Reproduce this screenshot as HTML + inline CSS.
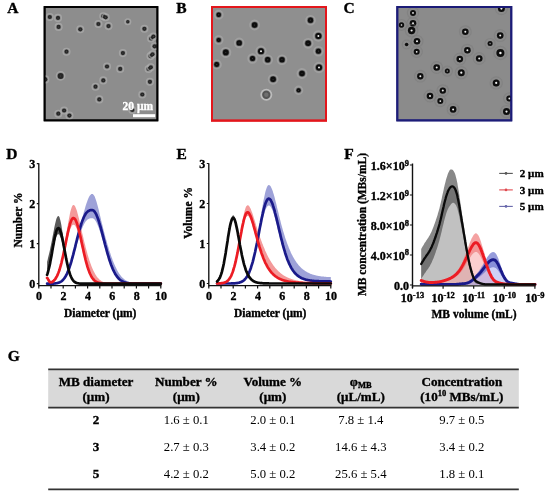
<!DOCTYPE html>
<html><head><meta charset="utf-8"><title>Microbubble characterisation</title>
<style>html,body{margin:0;padding:0;background:#fff;}svg{display:block;}</style></head>
<body><svg width="550" height="494" viewBox="0 0 550 494">
<style>text{stroke:#000;stroke-width:0.35px;}text.n{stroke-width:0;}</style>
<rect width="550" height="494" fill="#fff"/>
<defs>
<filter id="bl" x="-10%" y="-10%" width="120%" height="120%"><feGaussianBlur stdDeviation="0.45"/></filter>
<clipPath id="cpA"><rect x="45" y="7.5" width="112" height="112.5"/></clipPath>
<clipPath id="cpB"><rect x="212" y="7.5" width="114" height="113"/></clipPath>
<clipPath id="cpC"><rect x="397.5" y="7.5" width="113.5" height="113"/></clipPath>
</defs>
<rect x="44.6" y="7" width="112.8" height="113.4" fill="#8d8d8d" stroke="#000" stroke-width="1.8"/>
<g clip-path="url(#cpA)"><g filter="url(#bl)">
<circle cx="49.8" cy="17" r="3.4" fill="none" stroke="#b0b0b0" stroke-width="1.3" stroke-opacity="0.65"/><circle cx="49.8" cy="17" r="2.1" fill="#262626"/><circle cx="49.8" cy="17" r="0.5" fill="#505050"/>
<circle cx="58" cy="17.9" r="3.4" fill="none" stroke="#b0b0b0" stroke-width="1.3" stroke-opacity="0.65"/><circle cx="58" cy="17.9" r="2.1" fill="#262626"/><circle cx="58" cy="17.9" r="0.5" fill="#505050"/>
<circle cx="58.6" cy="26.9" r="3.4" fill="none" stroke="#b0b0b0" stroke-width="1.3" stroke-opacity="0.65"/><circle cx="58.6" cy="26.9" r="2.1" fill="#262626"/><circle cx="58.6" cy="26.9" r="0.5" fill="#505050"/>
<circle cx="80.3" cy="29.3" r="3.4" fill="none" stroke="#b0b0b0" stroke-width="1.3" stroke-opacity="0.65"/><circle cx="80.3" cy="29.3" r="2.1" fill="#262626"/><circle cx="80.3" cy="29.3" r="0.5" fill="#505050"/>
<circle cx="98.4" cy="24" r="3.4" fill="none" stroke="#b0b0b0" stroke-width="1.3" stroke-opacity="0.65"/><circle cx="98.4" cy="24" r="2.1" fill="#262626"/><circle cx="98.4" cy="24" r="0.5" fill="#505050"/>
<circle cx="66.5" cy="51.7" r="3.4" fill="none" stroke="#b0b0b0" stroke-width="1.3" stroke-opacity="0.65"/><circle cx="66.5" cy="51.7" r="2.1" fill="#262626"/><circle cx="66.5" cy="51.7" r="0.5" fill="#505050"/>
<circle cx="103.3" cy="16.2" r="3.4" fill="none" stroke="#b0b0b0" stroke-width="1.3" stroke-opacity="0.65"/><circle cx="103.3" cy="16.2" r="2.1" fill="#262626"/><circle cx="103.3" cy="16.2" r="0.5" fill="#505050"/>
<circle cx="105.6" cy="17.3" r="3.4" fill="none" stroke="#b0b0b0" stroke-width="1.3" stroke-opacity="0.65"/><circle cx="105.6" cy="17.3" r="2.1" fill="#262626"/><circle cx="105.6" cy="17.3" r="0.5" fill="#505050"/>
<circle cx="108.5" cy="26.1" r="3.4" fill="none" stroke="#b0b0b0" stroke-width="1.3" stroke-opacity="0.65"/><circle cx="108.5" cy="26.1" r="2.1" fill="#262626"/><circle cx="108.5" cy="26.1" r="0.5" fill="#505050"/>
<circle cx="127.8" cy="21.8" r="2.9" fill="none" stroke="#b0b0b0" stroke-width="1.3" stroke-opacity="0.65"/><circle cx="127.8" cy="21.8" r="1.7" fill="#262626"/><circle cx="127.8" cy="21.8" r="0.5" fill="#505050"/>
<circle cx="144.4" cy="28.8" r="3.4" fill="none" stroke="#b0b0b0" stroke-width="1.3" stroke-opacity="0.65"/><circle cx="144.4" cy="28.8" r="2.1" fill="#262626"/><circle cx="144.4" cy="28.8" r="0.5" fill="#505050"/>
<circle cx="151.1" cy="38.5" r="3.4" fill="none" stroke="#b0b0b0" stroke-width="1.3" stroke-opacity="0.65"/><circle cx="151.1" cy="38.5" r="2.1" fill="#262626"/><circle cx="151.1" cy="38.5" r="0.5" fill="#505050"/>
<circle cx="153.4" cy="36.5" r="3.4" fill="none" stroke="#b0b0b0" stroke-width="1.3" stroke-opacity="0.65"/><circle cx="153.4" cy="36.5" r="2.1" fill="#262626"/><circle cx="153.4" cy="36.5" r="0.5" fill="#505050"/>
<circle cx="154.6" cy="46.3" r="3.4" fill="none" stroke="#b0b0b0" stroke-width="1.3" stroke-opacity="0.65"/><circle cx="154.6" cy="46.3" r="2.1" fill="#262626"/><circle cx="154.6" cy="46.3" r="0.5" fill="#505050"/>
<circle cx="122.9" cy="53.1" r="3.4" fill="none" stroke="#b0b0b0" stroke-width="1.3" stroke-opacity="0.65"/><circle cx="122.9" cy="53.1" r="2.1" fill="#262626"/><circle cx="122.9" cy="53.1" r="0.5" fill="#505050"/>
<circle cx="150.5" cy="56.1" r="3.4" fill="none" stroke="#b0b0b0" stroke-width="1.3" stroke-opacity="0.65"/><circle cx="150.5" cy="56.1" r="2.1" fill="#262626"/><circle cx="150.5" cy="56.1" r="0.5" fill="#505050"/>
<circle cx="152.5" cy="54.3" r="3.4" fill="none" stroke="#b0b0b0" stroke-width="1.3" stroke-opacity="0.65"/><circle cx="152.5" cy="54.3" r="2.1" fill="#262626"/><circle cx="152.5" cy="54.3" r="0.5" fill="#505050"/>
<circle cx="45.3" cy="79.4" r="3.4" fill="none" stroke="#b0b0b0" stroke-width="1.3" stroke-opacity="0.65"/><circle cx="45.3" cy="79.4" r="2.1" fill="#262626"/><circle cx="45.3" cy="79.4" r="0.5" fill="#505050"/>
<circle cx="60.6" cy="75.9" r="4.2" fill="none" stroke="#b0b0b0" stroke-width="1.3" stroke-opacity="0.65"/><circle cx="60.6" cy="75.9" r="3" fill="#262626"/><circle cx="60.6" cy="75.9" r="0.5" fill="#505050"/>
<circle cx="95.5" cy="86.7" r="3.4" fill="none" stroke="#b0b0b0" stroke-width="1.3" stroke-opacity="0.65"/><circle cx="95.5" cy="86.7" r="2.1" fill="#262626"/><circle cx="95.5" cy="86.7" r="0.5" fill="#505050"/>
<circle cx="99.3" cy="99.4" r="3.4" fill="none" stroke="#b0b0b0" stroke-width="1.3" stroke-opacity="0.65"/><circle cx="99.3" cy="99.4" r="2.1" fill="#262626"/><circle cx="99.3" cy="99.4" r="0.5" fill="#505050"/>
<circle cx="64.1" cy="110.5" r="3.4" fill="none" stroke="#b0b0b0" stroke-width="1.3" stroke-opacity="0.65"/><circle cx="64.1" cy="110.5" r="2.1" fill="#262626"/><circle cx="64.1" cy="110.5" r="0.5" fill="#505050"/>
<circle cx="58.3" cy="113.7" r="3.4" fill="none" stroke="#b0b0b0" stroke-width="1.3" stroke-opacity="0.65"/><circle cx="58.3" cy="113.7" r="2.1" fill="#262626"/><circle cx="58.3" cy="113.7" r="0.5" fill="#505050"/>
<circle cx="69.4" cy="115.6" r="3.4" fill="none" stroke="#b0b0b0" stroke-width="1.3" stroke-opacity="0.65"/><circle cx="69.4" cy="115.6" r="2.1" fill="#262626"/><circle cx="69.4" cy="115.6" r="0.5" fill="#505050"/>
<circle cx="107" cy="66.5" r="3.4" fill="none" stroke="#b0b0b0" stroke-width="1.3" stroke-opacity="0.65"/><circle cx="107" cy="66.5" r="2.1" fill="#262626"/><circle cx="107" cy="66.5" r="0.5" fill="#505050"/>
<circle cx="120.2" cy="68.9" r="3.4" fill="none" stroke="#b0b0b0" stroke-width="1.3" stroke-opacity="0.65"/><circle cx="120.2" cy="68.9" r="2.1" fill="#262626"/><circle cx="120.2" cy="68.9" r="0.5" fill="#505050"/>
<circle cx="103.3" cy="80.4" r="3.4" fill="none" stroke="#b0b0b0" stroke-width="1.3" stroke-opacity="0.65"/><circle cx="103.3" cy="80.4" r="2.1" fill="#262626"/><circle cx="103.3" cy="80.4" r="0.5" fill="#505050"/>
<circle cx="148.6" cy="69" r="3.4" fill="none" stroke="#b0b0b0" stroke-width="1.3" stroke-opacity="0.65"/><circle cx="148.6" cy="69" r="2.1" fill="#262626"/><circle cx="148.6" cy="69" r="0.5" fill="#505050"/>
<circle cx="150.8" cy="67.3" r="3.4" fill="none" stroke="#b0b0b0" stroke-width="1.3" stroke-opacity="0.65"/><circle cx="150.8" cy="67.3" r="2.1" fill="#262626"/><circle cx="150.8" cy="67.3" r="0.5" fill="#505050"/>
<circle cx="149.9" cy="81.8" r="3.4" fill="none" stroke="#b0b0b0" stroke-width="1.3" stroke-opacity="0.65"/><circle cx="149.9" cy="81.8" r="2.1" fill="#262626"/><circle cx="149.9" cy="81.8" r="0.5" fill="#505050"/>
<circle cx="142.3" cy="94.5" r="3.4" fill="none" stroke="#b0b0b0" stroke-width="1.3" stroke-opacity="0.65"/><circle cx="142.3" cy="94.5" r="2.1" fill="#262626"/><circle cx="142.3" cy="94.5" r="0.5" fill="#505050"/>
<circle cx="132.3" cy="110" r="3.4" fill="none" stroke="#b0b0b0" stroke-width="1.3" stroke-opacity="0.65"/><circle cx="132.3" cy="110" r="2.1" fill="#262626"/><circle cx="132.3" cy="110" r="0.5" fill="#505050"/>
</g></g>
<rect x="44.6" y="7" width="112.8" height="113.4" fill="none" stroke="#000" stroke-width="1.8"/>
<rect x="133" y="114.2" width="22.2" height="3" fill="#fff"/>
<text x="122.6" y="110.2" font-family="'Liberation Serif','Times New Roman',serif" font-weight="bold" font-size="11.5" fill="#fff" style="stroke:#fff">20 &#956;m</text>
<rect x="212" y="7" width="114" height="113.6" fill="#8f8f8f" stroke="#e3161c" stroke-width="2"/>
<g clip-path="url(#cpB)"><g filter="url(#bl)">
<circle cx="218.7" cy="14.7" r="4.1" fill="none" stroke="#acacac" stroke-width="1.6" stroke-opacity="0.6"/><circle cx="218.7" cy="14.7" r="2.8" fill="#555"/><circle cx="218.7" cy="14.7" r="2.2" fill="#0c0c0c"/><circle cx="218.7" cy="14.7" r="0.6" fill="#383838"/>
<circle cx="254.6" cy="25" r="4.6" fill="none" stroke="#acacac" stroke-width="1.6" stroke-opacity="0.6"/><circle cx="254.6" cy="25" r="3.3" fill="#555"/><circle cx="254.6" cy="25" r="2.7" fill="#0c0c0c"/><circle cx="254.6" cy="25" r="0.6" fill="#383838"/>
<circle cx="218.7" cy="40" r="4" fill="none" stroke="#acacac" stroke-width="1.6" stroke-opacity="0.6"/><circle cx="218.7" cy="40" r="2.7" fill="#555"/><circle cx="218.7" cy="40" r="2.1" fill="#0c0c0c"/><circle cx="218.7" cy="40" r="0.6" fill="#383838"/>
<circle cx="239.2" cy="42.9" r="4.5" fill="none" stroke="#acacac" stroke-width="1.6" stroke-opacity="0.6"/><circle cx="239.2" cy="42.9" r="3.2" fill="#555"/><circle cx="239.2" cy="42.9" r="2.6" fill="#0c0c0c"/><circle cx="239.2" cy="42.9" r="0.6" fill="#383838"/>
<circle cx="225.8" cy="52.4" r="4.7" fill="none" stroke="#acacac" stroke-width="1.6" stroke-opacity="0.6"/><circle cx="225.8" cy="52.4" r="3.4" fill="#555"/><circle cx="225.8" cy="52.4" r="2.8" fill="#0c0c0c"/><circle cx="225.8" cy="52.4" r="0.6" fill="#383838"/>
<circle cx="261" cy="51.2" r="4.8" fill="none" stroke="#acacac" stroke-width="1.6" stroke-opacity="0.6"/><circle cx="261" cy="51.2" r="3.5" fill="#555"/><circle cx="261" cy="51.2" r="2.9" fill="#0c0c0c"/><circle cx="261" cy="51.2" r="1.0" fill="#f0f0f0"/>
<circle cx="252.5" cy="58.5" r="4.4" fill="none" stroke="#acacac" stroke-width="1.6" stroke-opacity="0.6"/><circle cx="252.5" cy="58.5" r="3.1" fill="#555"/><circle cx="252.5" cy="58.5" r="2.5" fill="#0c0c0c"/><circle cx="252.5" cy="58.5" r="0.6" fill="#383838"/>
<circle cx="267.7" cy="59.7" r="4.5" fill="none" stroke="#acacac" stroke-width="1.6" stroke-opacity="0.6"/><circle cx="267.7" cy="59.7" r="3.2" fill="#555"/><circle cx="267.7" cy="59.7" r="2.6" fill="#0c0c0c"/><circle cx="267.7" cy="59.7" r="0.6" fill="#383838"/>
<circle cx="216.7" cy="64.5" r="4.3" fill="none" stroke="#acacac" stroke-width="1.6" stroke-opacity="0.6"/><circle cx="216.7" cy="64.5" r="3" fill="#555"/><circle cx="216.7" cy="64.5" r="2.4" fill="#0c0c0c"/><circle cx="216.7" cy="64.5" r="0.6" fill="#383838"/>
<circle cx="310.5" cy="20.2" r="4.5" fill="none" stroke="#acacac" stroke-width="1.6" stroke-opacity="0.6"/><circle cx="310.5" cy="20.2" r="3.2" fill="#555"/><circle cx="310.5" cy="20.2" r="2.6" fill="#0c0c0c"/><circle cx="310.5" cy="20.2" r="0.6" fill="#383838"/>
<circle cx="318.4" cy="36" r="4.9" fill="none" stroke="#acacac" stroke-width="1.6" stroke-opacity="0.6"/><circle cx="318.4" cy="36" r="3.6" fill="#555"/><circle cx="318.4" cy="36" r="3" fill="#0c0c0c"/><circle cx="318.4" cy="36" r="1.0" fill="#f0f0f0"/>
<circle cx="308.1" cy="43.3" r="4.6" fill="none" stroke="#acacac" stroke-width="1.6" stroke-opacity="0.6"/><circle cx="308.1" cy="43.3" r="3.3" fill="#555"/><circle cx="308.1" cy="43.3" r="2.7" fill="#0c0c0c"/><circle cx="308.1" cy="43.3" r="0.6" fill="#383838"/>
<circle cx="318.4" cy="51.2" r="4.4" fill="none" stroke="#acacac" stroke-width="1.6" stroke-opacity="0.6"/><circle cx="318.4" cy="51.2" r="3.1" fill="#555"/><circle cx="318.4" cy="51.2" r="2.5" fill="#0c0c0c"/><circle cx="318.4" cy="51.2" r="0.6" fill="#383838"/>
<circle cx="282" cy="59.7" r="4.5" fill="none" stroke="#acacac" stroke-width="1.6" stroke-opacity="0.6"/><circle cx="282" cy="59.7" r="3.2" fill="#555"/><circle cx="282" cy="59.7" r="2.6" fill="#0c0c0c"/><circle cx="282" cy="59.7" r="0.6" fill="#383838"/>
<circle cx="319" cy="67.5" r="4.9" fill="none" stroke="#acacac" stroke-width="1.6" stroke-opacity="0.6"/><circle cx="319" cy="67.5" r="3.6" fill="#555"/><circle cx="319" cy="67.5" r="3" fill="#0c0c0c"/><circle cx="319" cy="67.5" r="1.0" fill="#f0f0f0"/>
<circle cx="302" cy="73.5" r="4.6" fill="none" stroke="#acacac" stroke-width="1.6" stroke-opacity="0.6"/><circle cx="302" cy="73.5" r="3.3" fill="#555"/><circle cx="302" cy="73.5" r="2.7" fill="#0c0c0c"/><circle cx="302" cy="73.5" r="0.6" fill="#383838"/>
<circle cx="273.1" cy="79.3" r="4.6" fill="none" stroke="#acacac" stroke-width="1.6" stroke-opacity="0.6"/><circle cx="273.1" cy="79.3" r="3.3" fill="#555"/><circle cx="273.1" cy="79.3" r="2.7" fill="#0c0c0c"/><circle cx="273.1" cy="79.3" r="0.6" fill="#383838"/>
<circle cx="298.6" cy="90.3" r="3.9" fill="none" stroke="#acacac" stroke-width="1.6" stroke-opacity="0.6"/><circle cx="298.6" cy="90.3" r="2.6" fill="#555"/><circle cx="298.6" cy="90.3" r="2" fill="#0c0c0c"/><circle cx="298.6" cy="90.3" r="0.6" fill="#383838"/>
<circle cx="266.3" cy="94.8" r="6" fill="#c8c8c8" opacity="0.8"/>
<circle cx="266.3" cy="94.8" r="4.2" fill="#555"/>
<circle cx="266.3" cy="94.8" r="2.2" fill="#6f6f6f"/>
</g></g>
<rect x="212" y="7" width="114" height="113.6" fill="none" stroke="#e3161c" stroke-width="2"/>
<rect x="397.3" y="7" width="114" height="113.4" fill="#8b8b8b" stroke="#1c1c78" stroke-width="1.9"/>
<g clip-path="url(#cpC)"><g filter="url(#bl)">
<circle cx="413" cy="12.9" r="5.6" fill="none" stroke="#777" stroke-width="1.2" stroke-opacity="0.45"/><circle cx="413" cy="12.9" r="3" fill="#0c0c0c"/><circle cx="413" cy="12.9" r="0.9" fill="#f2f2f2"/>
<circle cx="401.5" cy="25" r="5.3" fill="none" stroke="#777" stroke-width="1.2" stroke-opacity="0.45"/><circle cx="401.5" cy="25" r="2.7" fill="#0c0c0c"/><circle cx="401.5" cy="25" r="0.8" fill="#f2f2f2"/>
<circle cx="413" cy="23.2" r="5.9" fill="none" stroke="#777" stroke-width="1.2" stroke-opacity="0.45"/><circle cx="413" cy="23.2" r="3.3" fill="#0c0c0c"/><circle cx="413" cy="23.2" r="1" fill="#f2f2f2"/>
<circle cx="411.6" cy="30.5" r="6.3" fill="none" stroke="#777" stroke-width="1.2" stroke-opacity="0.45"/><circle cx="411.6" cy="30.5" r="3.7" fill="#0c0c0c"/><circle cx="411.6" cy="30.5" r="1.1" fill="#f2f2f2"/>
<circle cx="417" cy="41.2" r="5.9" fill="none" stroke="#777" stroke-width="1.2" stroke-opacity="0.45"/><circle cx="417" cy="41.2" r="3.3" fill="#0c0c0c"/><circle cx="417" cy="41.2" r="1" fill="#f2f2f2"/>
<circle cx="406.6" cy="44.5" r="4.4" fill="none" stroke="#777" stroke-width="1.2" stroke-opacity="0.45"/><circle cx="406.6" cy="44.5" r="1.8" fill="#0c0c0c"/>
<circle cx="416.7" cy="51.8" r="5.6" fill="none" stroke="#777" stroke-width="1.2" stroke-opacity="0.45"/><circle cx="416.7" cy="51.8" r="3" fill="#0c0c0c"/><circle cx="416.7" cy="51.8" r="0.9" fill="#f2f2f2"/>
<circle cx="501.4" cy="8.6" r="6.1" fill="none" stroke="#777" stroke-width="1.2" stroke-opacity="0.45"/><circle cx="501.4" cy="8.6" r="3.5" fill="#0c0c0c"/><circle cx="501.4" cy="8.6" r="1.1" fill="#f2f2f2"/>
<circle cx="465.3" cy="31.7" r="5.9" fill="none" stroke="#777" stroke-width="1.2" stroke-opacity="0.45"/><circle cx="465.3" cy="31.7" r="3.3" fill="#0c0c0c"/><circle cx="465.3" cy="31.7" r="1" fill="#f2f2f2"/>
<circle cx="500.2" cy="35.6" r="5.9" fill="none" stroke="#777" stroke-width="1.2" stroke-opacity="0.45"/><circle cx="500.2" cy="35.6" r="3.3" fill="#0c0c0c"/><circle cx="500.2" cy="35.6" r="1" fill="#f2f2f2"/>
<circle cx="490.1" cy="43.6" r="5.1" fill="none" stroke="#777" stroke-width="1.2" stroke-opacity="0.45"/><circle cx="490.1" cy="43.6" r="2.5" fill="#0c0c0c"/><circle cx="490.1" cy="43.6" r="0.8" fill="#8a8a8a"/>
<circle cx="467.4" cy="50.2" r="5.9" fill="none" stroke="#777" stroke-width="1.2" stroke-opacity="0.45"/><circle cx="467.4" cy="50.2" r="3.3" fill="#0c0c0c"/><circle cx="467.4" cy="50.2" r="1" fill="#f2f2f2"/>
<circle cx="500.4" cy="53" r="6.6" fill="none" stroke="#777" stroke-width="1.2" stroke-opacity="0.45"/><circle cx="500.4" cy="53" r="4" fill="#0c0c0c"/><circle cx="500.4" cy="53" r="1.2" fill="#f2f2f2"/>
<circle cx="459.8" cy="59.1" r="5.9" fill="none" stroke="#777" stroke-width="1.2" stroke-opacity="0.45"/><circle cx="459.8" cy="59.1" r="3.3" fill="#0c0c0c"/><circle cx="459.8" cy="59.1" r="1" fill="#f2f2f2"/>
<circle cx="479.2" cy="58.5" r="5.9" fill="none" stroke="#777" stroke-width="1.2" stroke-opacity="0.45"/><circle cx="479.2" cy="58.5" r="3.3" fill="#0c0c0c"/><circle cx="479.2" cy="58.5" r="1" fill="#f2f2f2"/>
<circle cx="436.7" cy="67.5" r="5.9" fill="none" stroke="#777" stroke-width="1.2" stroke-opacity="0.45"/><circle cx="436.7" cy="67.5" r="3.3" fill="#0c0c0c"/><circle cx="436.7" cy="67.5" r="1" fill="#f2f2f2"/>
<circle cx="447.3" cy="71.1" r="5.1" fill="none" stroke="#777" stroke-width="1.2" stroke-opacity="0.45"/><circle cx="447.3" cy="71.1" r="2.5" fill="#0c0c0c"/><circle cx="447.3" cy="71.1" r="0.8" fill="#8a8a8a"/>
<circle cx="420.3" cy="76.2" r="5.8" fill="none" stroke="#777" stroke-width="1.2" stroke-opacity="0.45"/><circle cx="420.3" cy="76.2" r="3.2" fill="#0c0c0c"/><circle cx="420.3" cy="76.2" r="1" fill="#f2f2f2"/>
<circle cx="442.8" cy="90.6" r="5.8" fill="none" stroke="#777" stroke-width="1.2" stroke-opacity="0.45"/><circle cx="442.8" cy="90.6" r="3.2" fill="#0c0c0c"/><circle cx="442.8" cy="90.6" r="1" fill="#f2f2f2"/>
<circle cx="430" cy="96" r="5.9" fill="none" stroke="#777" stroke-width="1.2" stroke-opacity="0.45"/><circle cx="430" cy="96" r="3.3" fill="#0c0c0c"/><circle cx="430" cy="96" r="1" fill="#f2f2f2"/>
<circle cx="440.3" cy="101.1" r="5.6" fill="none" stroke="#777" stroke-width="1.2" stroke-opacity="0.45"/><circle cx="440.3" cy="101.1" r="3" fill="#0c0c0c"/><circle cx="440.3" cy="101.1" r="0.9" fill="#f2f2f2"/>
<circle cx="453.1" cy="109.4" r="5.9" fill="none" stroke="#777" stroke-width="1.2" stroke-opacity="0.45"/><circle cx="453.1" cy="109.4" r="3.3" fill="#0c0c0c"/><circle cx="453.1" cy="109.4" r="1" fill="#f2f2f2"/>
<circle cx="461.3" cy="72.7" r="6.1" fill="none" stroke="#777" stroke-width="1.2" stroke-opacity="0.45"/><circle cx="461.3" cy="72.7" r="3.5" fill="#0c0c0c"/><circle cx="461.3" cy="72.7" r="1.1" fill="#f2f2f2"/>
<circle cx="496.2" cy="82.9" r="6.1" fill="none" stroke="#777" stroke-width="1.2" stroke-opacity="0.45"/><circle cx="496.2" cy="82.9" r="3.5" fill="#0c0c0c"/><circle cx="496.2" cy="82.9" r="1.1" fill="#f2f2f2"/>
<circle cx="509.3" cy="98.5" r="5.6" fill="none" stroke="#777" stroke-width="1.2" stroke-opacity="0.45"/><circle cx="509.3" cy="98.5" r="3" fill="#0c0c0c"/><circle cx="509.3" cy="98.5" r="0.9" fill="#f2f2f2"/>
<circle cx="506.5" cy="111.6" r="6.1" fill="none" stroke="#777" stroke-width="1.2" stroke-opacity="0.45"/><circle cx="506.5" cy="111.6" r="3.5" fill="#0c0c0c"/><circle cx="506.5" cy="111.6" r="1.1" fill="#f2f2f2"/>
</g></g>
<rect x="397.3" y="7" width="114" height="113.4" fill="none" stroke="#1c1c78" stroke-width="1.9"/>
<text x="7.3" y="13.1" font-family="'Liberation Serif','Times New Roman',serif" font-weight="bold" font-size="15.5">A</text>
<text x="176.2" y="13.1" font-family="'Liberation Serif','Times New Roman',serif" font-weight="bold" font-size="15.5">B</text>
<text x="343.6" y="13.1" font-family="'Liberation Serif','Times New Roman',serif" font-weight="bold" font-size="15.5">C</text>
<text x="6.2" y="159.4" font-family="'Liberation Serif','Times New Roman',serif" font-weight="bold" font-size="15.5">D</text>
<text x="176.5" y="159.4" font-family="'Liberation Serif','Times New Roman',serif" font-weight="bold" font-size="15.5">E</text>
<text x="344.3" y="159.4" font-family="'Liberation Serif','Times New Roman',serif" font-weight="bold" font-size="15.5">F</text>
<text x="7.7" y="361" font-family="'Liberation Serif','Times New Roman',serif" font-weight="bold" font-size="15.5">G</text>
<path d="M47.1,283.7 L47.6,283.7 L48,283.7 L48.5,283.7 L49,283.7 L49.5,283.7 L50,283.7 L50.4,283.7 L50.9,283.7 L51.4,283.7 L51.9,283.6 L52.3,283.6 L52.8,283.6 L53.3,283.6 L53.8,283.6 L54.2,283.5 L54.7,283.5 L55.2,283.4 L55.7,283.4 L56.1,283.3 L56.6,283.2 L57.1,283.1 L57.6,283 L58,282.9 L58.5,282.8 L59,282.6 L59.5,282.4 L59.9,282.2 L60.4,281.9 L60.9,281.6 L61.4,281.3 L61.8,281 L62.3,280.6 L62.8,280.1 L63.3,279.6 L63.7,279 L64.2,278.4 L64.7,277.8 L65.2,277 L65.7,276.3 L66.1,275.4 L66.6,274.5 L67.1,273.5 L67.6,272.4 L68,271.3 L68.5,270.1 L69,268.8 L69.5,267.4 L69.9,266 L70.4,264.5 L70.9,263 L71.4,261.4 L71.8,259.7 L72.3,258 L72.8,256.2 L73.3,254.4 L73.7,252.5 L74.2,250.6 L74.7,248.7 L75.2,246.8 L75.6,244.8 L76.1,242.8 L76.6,240.8 L77.1,238.9 L77.5,236.9 L78,234.9 L78.5,232.9 L79,231 L79.4,229.1 L79.9,227.1 L80.4,225.2 L80.9,223.4 L81.3,221.5 L81.8,219.7 L82.3,217.9 L82.8,216.1 L83.3,214.3 L83.7,212.6 L84.2,210.9 L84.7,209.3 L85.2,207.6 L85.6,206.1 L86.1,204.6 L86.6,203.1 L87.1,201.7 L87.5,200.4 L88,199.2 L88.5,198.1 L89,197.1 L89.4,196.3 L89.9,195.5 L90.4,194.9 L90.9,194.5 L91.3,194.1 L91.8,194 L92.3,193.9 L92.8,194 L93.2,194.4 L93.7,194.9 L94.2,195.7 L94.7,196.6 L95.1,197.7 L95.6,199 L96.1,200.4 L96.6,201.9 L97,203.6 L97.5,205.3 L98,207.2 L98.5,209 L99,211 L99.4,212.9 L99.9,214.9 L100.4,216.9 L100.9,218.9 L101.3,220.9 L101.8,222.8 L102.3,224.8 L102.8,226.7 L103.2,228.6 L103.7,230.5 L104.2,232.3 L104.7,234.2 L105.1,236 L105.6,237.7 L106.1,239.4 L106.6,241.1 L107,242.8 L107.5,244.5 L108,246.1 L108.5,247.6 L108.9,249.2 L109.4,250.7 L109.9,252.2 L110.4,253.6 L110.8,255.1 L111.3,256.4 L111.8,257.8 L112.3,259.1 L112.7,260.4 L113.2,261.6 L113.7,262.8 L114.2,263.9 L114.7,265 L115.1,266.1 L115.6,267.1 L116.1,268.1 L116.6,269.1 L117,270 L117.5,270.8 L118,271.7 L118.5,272.4 L118.9,273.2 L119.4,273.9 L119.9,274.6 L120.4,275.2 L120.8,275.8 L121.3,276.4 L121.8,276.9 L122.3,277.4 L122.7,277.9 L123.2,278.3 L123.7,278.8 L124.2,279.2 L124.6,279.5 L125.1,279.9 L125.6,280.2 L126.1,280.5 L126.5,280.7 L127,281 L127.5,281.2 L128,281.4 L128.4,281.6 L128.9,281.8 L129.4,282 L129.9,282.2 L130.4,282.3 L130.8,282.4 L131.3,282.6 L131.8,282.7 L132.3,282.8 L132.7,282.9 L133.2,282.9 L133.7,283 L134.2,283.1 L134.6,283.2 L135.1,283.2 L135.6,283.3 L136.1,283.3 L136.5,283.4 L137,283.4 L137.5,283.4 L138,283.5 L138.4,283.5 L138.9,283.5 L139.4,283.5 L139.9,283.5 L140.3,283.6 L140.8,283.6 L141.3,283.6 L141.8,283.6 L142.2,283.6 L142.7,283.6 L143.2,283.6 L143.7,283.6 L144.1,283.7 L144.6,283.7 L145.1,283.7 L145.6,283.7 L146.1,283.7 L146.5,283.7 L147,283.7 L147.5,283.7 L148,283.7 L148.4,283.7 L148.9,283.7 L149.4,283.7 L149.9,283.7 L150.3,283.7 L150.8,283.7 L151.3,283.7 L151.8,283.7 L152.2,283.7 L152.7,283.7 L153.2,283.7 L153.7,283.7 L154.1,283.7 L154.6,283.7 L155.1,283.7 L155.6,283.7 L156,283.7 L156.5,283.7 L157,283.7 L157.5,283.7 L157.9,283.7 L158.4,283.7 L158.9,283.7 L159.4,283.7 L159.8,283.7 L160.3,283.7 L160.8,283.7 L160.8,283.7 L160.3,283.7 L159.8,283.7 L159.4,283.7 L158.9,283.7 L158.4,283.7 L157.9,283.7 L157.5,283.7 L157,283.7 L156.5,283.7 L156,283.7 L155.6,283.7 L155.1,283.7 L154.6,283.7 L154.1,283.7 L153.7,283.7 L153.2,283.7 L152.7,283.7 L152.2,283.7 L151.8,283.7 L151.3,283.7 L150.8,283.7 L150.3,283.7 L149.9,283.7 L149.4,283.7 L148.9,283.7 L148.4,283.7 L148,283.7 L147.5,283.7 L147,283.7 L146.5,283.7 L146.1,283.7 L145.6,283.7 L145.1,283.7 L144.6,283.7 L144.1,283.7 L143.7,283.7 L143.2,283.7 L142.7,283.7 L142.2,283.7 L141.8,283.7 L141.3,283.7 L140.8,283.7 L140.3,283.7 L139.9,283.7 L139.4,283.7 L138.9,283.7 L138.4,283.7 L138,283.7 L137.5,283.7 L137,283.7 L136.5,283.7 L136.1,283.7 L135.6,283.6 L135.1,283.6 L134.6,283.6 L134.2,283.6 L133.7,283.6 L133.2,283.6 L132.7,283.6 L132.3,283.6 L131.8,283.5 L131.3,283.5 L130.8,283.5 L130.4,283.4 L129.9,283.4 L129.4,283.4 L128.9,283.3 L128.4,283.3 L128,283.2 L127.5,283.1 L127,283 L126.5,283 L126.1,282.9 L125.6,282.7 L125.1,282.6 L124.6,282.5 L124.2,282.3 L123.7,282.2 L123.2,282 L122.7,281.8 L122.3,281.6 L121.8,281.3 L121.3,281.1 L120.8,280.8 L120.4,280.5 L119.9,280.1 L119.4,279.7 L118.9,279.3 L118.5,278.9 L118,278.4 L117.5,277.9 L117,277.4 L116.6,276.8 L116.1,276.2 L115.6,275.5 L115.1,274.8 L114.7,274 L114.2,273.2 L113.7,272.3 L113.2,271.4 L112.7,270.5 L112.3,269.5 L111.8,268.4 L111.3,267.3 L110.8,266.1 L110.4,264.9 L109.9,263.7 L109.4,262.4 L108.9,261 L108.5,259.6 L108,258.2 L107.5,256.7 L107,255.2 L106.6,253.7 L106.1,252.1 L105.6,250.5 L105.1,248.9 L104.7,247.3 L104.2,245.6 L103.7,244 L103.2,242.3 L102.8,240.7 L102.3,239.1 L101.8,237.5 L101.3,235.9 L100.9,234.3 L100.4,232.8 L99.9,231.3 L99.4,229.9 L99,228.5 L98.5,227.2 L98,226 L97.5,224.8 L97,223.7 L96.6,222.7 L96.1,221.8 L95.6,221 L95.1,220.3 L94.7,219.7 L94.2,219.1 L93.7,218.7 L93.2,218.4 L92.8,218.3 L92.3,218.2 L91.8,218.2 L91.3,218.2 L90.9,218.2 L90.4,218.3 L89.9,218.4 L89.4,218.5 L89,218.7 L88.5,218.9 L88,219.2 L87.5,219.6 L87.1,220 L86.6,220.5 L86.1,221 L85.6,221.6 L85.2,222.3 L84.7,223 L84.2,223.9 L83.7,224.8 L83.3,225.7 L82.8,226.8 L82.3,227.9 L81.8,229.1 L81.3,230.4 L80.9,231.7 L80.4,233.1 L79.9,234.5 L79.4,236 L79,237.6 L78.5,239.2 L78,240.8 L77.5,242.4 L77.1,244.1 L76.6,245.8 L76.1,247.5 L75.6,249.2 L75.2,250.9 L74.7,252.6 L74.2,254.3 L73.7,256 L73.3,257.6 L72.8,259.2 L72.3,260.8 L71.8,262.3 L71.4,263.8 L70.9,265.3 L70.4,266.6 L69.9,268 L69.5,269.2 L69,270.4 L68.5,271.6 L68,272.6 L67.6,273.7 L67.1,274.6 L66.6,275.5 L66.1,276.3 L65.7,277.1 L65.2,277.8 L64.7,278.4 L64.2,279 L63.7,279.6 L63.3,280.1 L62.8,280.5 L62.3,280.9 L61.8,281.3 L61.4,281.6 L60.9,281.9 L60.4,282.1 L59.9,282.3 L59.5,282.5 L59,282.7 L58.5,282.9 L58,283 L57.6,283.1 L57.1,283.2 L56.6,283.3 L56.1,283.4 L55.7,283.4 L55.2,283.5 L54.7,283.5 L54.2,283.5 L53.8,283.6 L53.3,283.6 L52.8,283.6 L52.3,283.6 L51.9,283.6 L51.4,283.7 L50.9,283.7 L50.4,283.7 L50,283.7 L49.5,283.7 L49,283.7 L48.5,283.7 L48,283.7 L47.6,283.7 L47.1,283.7 Z" fill="#9ea2d8" stroke="none"/>
<path d="M47.1,277.9 L47.6,278.3 L48,279.1 L48.5,280 L49,280.9 L49.5,281.6 L50,282.1 L50.4,282.3 L50.9,282.1 L51.4,281.9 L51.9,281.6 L52.3,281.2 L52.8,280.8 L53.3,280.4 L53.8,279.9 L54.2,279.3 L54.7,278.7 L55.2,278 L55.7,277.3 L56.1,276.4 L56.6,275.5 L57.1,274.5 L57.6,273.4 L58,272.2 L58.5,270.8 L59,269.4 L59.5,267.9 L59.9,266.3 L60.4,264.5 L60.9,262.6 L61.4,260.6 L61.8,258.5 L62.3,256.3 L62.8,254 L63.3,251.6 L63.7,249 L64.2,246.4 L64.7,243.7 L65.2,240.9 L65.7,238.1 L66.1,235.2 L66.6,232.3 L67.1,229.4 L67.6,226.6 L68,223.8 L68.5,221 L69,218.4 L69.5,216 L69.9,213.7 L70.4,211.6 L70.9,209.8 L71.4,208.2 L71.8,206.9 L72.3,206 L72.8,205.3 L73.3,205 L73.7,205 L74.2,205.3 L74.7,205.8 L75.2,206.5 L75.6,207.5 L76.1,208.7 L76.6,210 L77.1,211.5 L77.5,213.2 L78,215 L78.5,216.9 L79,218.8 L79.4,220.8 L79.9,222.9 L80.4,225 L80.9,227.1 L81.3,229.2 L81.8,231.3 L82.3,233.4 L82.8,235.5 L83.3,237.5 L83.7,239.5 L84.2,241.5 L84.7,243.5 L85.2,245.3 L85.6,247.2 L86.1,249 L86.6,250.8 L87.1,252.5 L87.5,254.2 L88,255.8 L88.5,257.4 L89,258.9 L89.4,260.4 L89.9,261.8 L90.4,263.2 L90.9,264.5 L91.3,265.8 L91.8,267 L92.3,268.2 L92.8,269.3 L93.2,270.3 L93.7,271.3 L94.2,272.3 L94.7,273.1 L95.1,274 L95.6,274.8 L96.1,275.5 L96.6,276.2 L97,276.9 L97.5,277.5 L98,278 L98.5,278.5 L99,279 L99.4,279.5 L99.9,279.9 L100.4,280.2 L100.9,280.6 L101.3,280.9 L101.8,281.2 L102.3,281.5 L102.8,281.7 L103.2,281.9 L103.7,282.1 L104.2,282.3 L104.7,282.4 L105.1,282.6 L105.6,282.7 L106.1,282.8 L106.6,282.9 L107,283 L107.5,283.1 L108,283.2 L108.5,283.2 L108.9,283.3 L109.4,283.4 L109.9,283.4 L110.4,283.4 L110.8,283.5 L111.3,283.5 L111.8,283.5 L112.3,283.6 L112.7,283.6 L113.2,283.6 L113.7,283.6 L114.2,283.6 L114.7,283.6 L115.1,283.6 L115.6,283.7 L116.1,283.7 L116.6,283.7 L117,283.7 L117.5,283.7 L118,283.7 L118.5,283.7 L118.9,283.7 L119.4,283.7 L119.9,283.7 L120.4,283.7 L120.8,283.7 L121.3,283.7 L121.8,283.7 L122.3,283.7 L122.7,283.7 L123.2,283.7 L123.7,283.7 L124.2,283.7 L124.6,283.7 L125.1,283.7 L125.6,283.7 L126.1,283.7 L126.5,283.7 L127,283.7 L127.5,283.7 L128,283.7 L128.4,283.7 L128.9,283.7 L129.4,283.7 L129.9,283.7 L130.4,283.7 L130.8,283.7 L131.3,283.7 L131.8,283.7 L132.3,283.7 L132.7,283.7 L133.2,283.7 L133.7,283.7 L134.2,283.7 L134.6,283.7 L135.1,283.7 L135.6,283.7 L136.1,283.7 L136.5,283.7 L137,283.7 L137.5,283.7 L138,283.7 L138.4,283.7 L138.9,283.7 L139.4,283.7 L139.9,283.7 L140.3,283.7 L140.8,283.7 L141.3,283.7 L141.8,283.7 L142.2,283.7 L142.7,283.7 L143.2,283.7 L143.7,283.7 L144.1,283.7 L144.6,283.7 L145.1,283.7 L145.6,283.7 L146.1,283.7 L146.5,283.7 L147,283.7 L147.5,283.7 L148,283.7 L148.4,283.7 L148.9,283.7 L149.4,283.7 L149.9,283.7 L150.3,283.7 L150.8,283.7 L151.3,283.7 L151.8,283.7 L152.2,283.7 L152.7,283.7 L153.2,283.7 L153.7,283.7 L154.1,283.7 L154.6,283.7 L155.1,283.7 L155.6,283.7 L156,283.7 L156.5,283.7 L157,283.7 L157.5,283.7 L157.9,283.7 L158.4,283.7 L158.9,283.7 L159.4,283.7 L159.8,283.7 L160.3,283.7 L160.8,283.7 L160.8,283.7 L160.3,283.7 L159.8,283.7 L159.4,283.7 L158.9,283.7 L158.4,283.7 L157.9,283.7 L157.5,283.7 L157,283.7 L156.5,283.7 L156,283.7 L155.6,283.7 L155.1,283.7 L154.6,283.7 L154.1,283.7 L153.7,283.7 L153.2,283.7 L152.7,283.7 L152.2,283.7 L151.8,283.7 L151.3,283.7 L150.8,283.7 L150.3,283.7 L149.9,283.7 L149.4,283.7 L148.9,283.7 L148.4,283.7 L148,283.7 L147.5,283.7 L147,283.7 L146.5,283.7 L146.1,283.7 L145.6,283.7 L145.1,283.7 L144.6,283.7 L144.1,283.7 L143.7,283.7 L143.2,283.7 L142.7,283.7 L142.2,283.7 L141.8,283.7 L141.3,283.7 L140.8,283.7 L140.3,283.7 L139.9,283.7 L139.4,283.7 L138.9,283.7 L138.4,283.7 L138,283.7 L137.5,283.7 L137,283.7 L136.5,283.7 L136.1,283.7 L135.6,283.7 L135.1,283.7 L134.6,283.7 L134.2,283.7 L133.7,283.7 L133.2,283.7 L132.7,283.7 L132.3,283.7 L131.8,283.7 L131.3,283.7 L130.8,283.7 L130.4,283.7 L129.9,283.7 L129.4,283.7 L128.9,283.7 L128.4,283.7 L128,283.7 L127.5,283.7 L127,283.7 L126.5,283.7 L126.1,283.7 L125.6,283.7 L125.1,283.7 L124.6,283.7 L124.2,283.7 L123.7,283.7 L123.2,283.7 L122.7,283.7 L122.3,283.7 L121.8,283.7 L121.3,283.7 L120.8,283.7 L120.4,283.7 L119.9,283.7 L119.4,283.7 L118.9,283.7 L118.5,283.7 L118,283.7 L117.5,283.7 L117,283.7 L116.6,283.7 L116.1,283.7 L115.6,283.7 L115.1,283.7 L114.7,283.7 L114.2,283.7 L113.7,283.7 L113.2,283.7 L112.7,283.7 L112.3,283.7 L111.8,283.7 L111.3,283.7 L110.8,283.7 L110.4,283.7 L109.9,283.7 L109.4,283.7 L108.9,283.7 L108.5,283.7 L108,283.7 L107.5,283.7 L107,283.7 L106.6,283.7 L106.1,283.7 L105.6,283.7 L105.1,283.6 L104.7,283.6 L104.2,283.6 L103.7,283.6 L103.2,283.6 L102.8,283.5 L102.3,283.5 L101.8,283.5 L101.3,283.4 L100.9,283.4 L100.4,283.3 L99.9,283.2 L99.4,283.1 L99,283 L98.5,282.9 L98,282.8 L97.5,282.6 L97,282.4 L96.6,282.2 L96.1,281.9 L95.6,281.7 L95.1,281.4 L94.7,281 L94.2,280.6 L93.7,280.2 L93.2,279.7 L92.8,279.1 L92.3,278.5 L91.8,277.9 L91.3,277.1 L90.9,276.3 L90.4,275.4 L89.9,274.5 L89.4,273.5 L89,272.4 L88.5,271.2 L88,269.9 L87.5,268.6 L87.1,267.1 L86.6,265.6 L86.1,264 L85.6,262.4 L85.2,260.6 L84.7,258.8 L84.2,257 L83.7,255.1 L83.3,253.2 L82.8,251.2 L82.3,249.2 L81.8,247.2 L81.3,245.2 L80.9,243.2 L80.4,241.3 L79.9,239.4 L79.4,237.6 L79,235.8 L78.5,234.1 L78,232.5 L77.5,231.1 L77.1,229.7 L76.6,228.5 L76.1,227.5 L75.6,226.6 L75.2,225.8 L74.7,225.3 L74.2,224.9 L73.7,224.7 L73.3,224.7 L72.8,224.9 L72.3,225.3 L71.8,225.9 L71.4,226.7 L70.9,227.7 L70.4,228.8 L69.9,230.2 L69.5,231.7 L69,233.3 L68.5,235.1 L68,237 L67.6,238.9 L67.1,240.9 L66.6,243 L66.1,245.2 L65.7,247.3 L65.2,249.4 L64.7,251.6 L64.2,253.7 L63.7,255.8 L63.3,257.8 L62.8,259.7 L62.3,261.6 L61.8,263.5 L61.4,265.2 L60.9,266.8 L60.4,268.4 L59.9,269.9 L59.5,271.2 L59,272.5 L58.5,273.7 L58,274.8 L57.6,275.8 L57.1,276.7 L56.6,277.5 L56.1,278.3 L55.7,278.9 L55.2,279.5 L54.7,280.1 L54.2,280.6 L53.8,281 L53.3,281.4 L52.8,281.7 L52.3,282 L51.9,282.2 L51.4,282.4 L50.9,282.5 L50.4,282.4 L50,282.2 L49.5,281.8 L49,281.2 L48.5,280.4 L48,279.6 L47.6,278.9 L47.1,278.5 Z" fill="#f49a9a" stroke="none"/>
<path d="M47.1,261.8 L47.6,260 L48,258.1 L48.5,256.1 L49,254.1 L49.5,252 L50,249.8 L50.4,247.5 L50.9,245.2 L51.4,242.8 L51.9,240.4 L52.3,237.9 L52.8,235.4 L53.3,232.9 L53.8,230.5 L54.2,228 L54.7,225.7 L55.2,223.5 L55.7,221.6 L56.1,219.8 L56.6,218.3 L57.1,217.2 L57.6,216.4 L58,215.9 L58.5,215.9 L59,216.4 L59.5,217.3 L59.9,218.7 L60.4,220.5 L60.9,222.7 L61.4,225.2 L61.8,227.9 L62.3,230.9 L62.8,233.9 L63.3,237.1 L63.7,240.3 L64.2,243.4 L64.7,246.5 L65.2,249.5 L65.7,252.4 L66.1,255.2 L66.6,257.9 L67.1,260.4 L67.6,262.7 L68,264.9 L68.5,267 L69,268.8 L69.5,270.6 L69.9,272.2 L70.4,273.6 L70.9,274.9 L71.4,276.1 L71.8,277.1 L72.3,278.1 L72.8,278.9 L73.3,279.6 L73.7,280.3 L74.2,280.8 L74.7,281.3 L75.2,281.7 L75.6,282 L76.1,282.3 L76.6,282.6 L77.1,282.8 L77.5,283 L78,283.1 L78.5,283.2 L79,283.3 L79.4,283.4 L79.9,283.5 L80.4,283.5 L80.9,283.6 L81.3,283.6 L81.8,283.6 L82.3,283.6 L82.8,283.6 L83.3,283.7 L83.7,283.7 L84.2,283.7 L84.7,283.7 L85.2,283.7 L85.6,283.7 L86.1,283.7 L86.6,283.7 L87.1,283.7 L87.5,283.7 L88,283.7 L88.5,283.7 L89,283.7 L89.4,283.7 L89.9,283.7 L90.4,283.7 L90.9,283.7 L91.3,283.7 L91.8,283.7 L92.3,283.7 L92.8,283.7 L93.2,283.7 L93.7,283.7 L94.2,283.7 L94.7,283.7 L95.1,283.7 L95.6,283.7 L96.1,283.7 L96.6,283.7 L97,283.7 L97.5,283.7 L98,283.7 L98.5,283.7 L99,283.7 L99.4,283.7 L99.9,283.7 L100.4,283.7 L100.9,283.7 L101.3,283.7 L101.8,283.7 L102.3,283.7 L102.8,283.7 L103.2,283.7 L103.7,283.7 L104.2,283.7 L104.7,283.7 L105.1,283.7 L105.6,283.7 L106.1,283.7 L106.6,283.7 L107,283.7 L107.5,283.7 L108,283.7 L108.5,283.7 L108.9,283.7 L109.4,283.7 L109.9,283.7 L110.4,283.7 L110.8,283.7 L111.3,283.7 L111.8,283.7 L112.3,283.7 L112.7,283.7 L113.2,283.7 L113.7,283.7 L114.2,283.7 L114.7,283.7 L115.1,283.7 L115.6,283.7 L116.1,283.7 L116.6,283.7 L117,283.7 L117.5,283.7 L118,283.7 L118.5,283.7 L118.9,283.7 L119.4,283.7 L119.9,283.7 L120.4,283.7 L120.8,283.7 L121.3,283.7 L121.8,283.7 L122.3,283.7 L122.7,283.7 L123.2,283.7 L123.7,283.7 L124.2,283.7 L124.6,283.7 L125.1,283.7 L125.6,283.7 L126.1,283.7 L126.5,283.7 L127,283.7 L127.5,283.7 L128,283.7 L128.4,283.7 L128.9,283.7 L129.4,283.7 L129.9,283.7 L130.4,283.7 L130.8,283.7 L131.3,283.7 L131.8,283.7 L132.3,283.7 L132.7,283.7 L133.2,283.7 L133.7,283.7 L134.2,283.7 L134.6,283.7 L135.1,283.7 L135.6,283.7 L136.1,283.7 L136.5,283.7 L137,283.7 L137.5,283.7 L138,283.7 L138.4,283.7 L138.9,283.7 L139.4,283.7 L139.9,283.7 L140.3,283.7 L140.8,283.7 L141.3,283.7 L141.8,283.7 L142.2,283.7 L142.7,283.7 L143.2,283.7 L143.7,283.7 L144.1,283.7 L144.6,283.7 L145.1,283.7 L145.6,283.7 L146.1,283.7 L146.5,283.7 L147,283.7 L147.5,283.7 L148,283.7 L148.4,283.7 L148.9,283.7 L149.4,283.7 L149.9,283.7 L150.3,283.7 L150.8,283.7 L151.3,283.7 L151.8,283.7 L152.2,283.7 L152.7,283.7 L153.2,283.7 L153.7,283.7 L154.1,283.7 L154.6,283.7 L155.1,283.7 L155.6,283.7 L156,283.7 L156.5,283.7 L157,283.7 L157.5,283.7 L157.9,283.7 L158.4,283.7 L158.9,283.7 L159.4,283.7 L159.8,283.7 L160.3,283.7 L160.8,283.7 L160.8,283.7 L160.3,283.7 L159.8,283.7 L159.4,283.7 L158.9,283.7 L158.4,283.7 L157.9,283.7 L157.5,283.7 L157,283.7 L156.5,283.7 L156,283.7 L155.6,283.7 L155.1,283.7 L154.6,283.7 L154.1,283.7 L153.7,283.7 L153.2,283.7 L152.7,283.7 L152.2,283.7 L151.8,283.7 L151.3,283.7 L150.8,283.7 L150.3,283.7 L149.9,283.7 L149.4,283.7 L148.9,283.7 L148.4,283.7 L148,283.7 L147.5,283.7 L147,283.7 L146.5,283.7 L146.1,283.7 L145.6,283.7 L145.1,283.7 L144.6,283.7 L144.1,283.7 L143.7,283.7 L143.2,283.7 L142.7,283.7 L142.2,283.7 L141.8,283.7 L141.3,283.7 L140.8,283.7 L140.3,283.7 L139.9,283.7 L139.4,283.7 L138.9,283.7 L138.4,283.7 L138,283.7 L137.5,283.7 L137,283.7 L136.5,283.7 L136.1,283.7 L135.6,283.7 L135.1,283.7 L134.6,283.7 L134.2,283.7 L133.7,283.7 L133.2,283.7 L132.7,283.7 L132.3,283.7 L131.8,283.7 L131.3,283.7 L130.8,283.7 L130.4,283.7 L129.9,283.7 L129.4,283.7 L128.9,283.7 L128.4,283.7 L128,283.7 L127.5,283.7 L127,283.7 L126.5,283.7 L126.1,283.7 L125.6,283.7 L125.1,283.7 L124.6,283.7 L124.2,283.7 L123.7,283.7 L123.2,283.7 L122.7,283.7 L122.3,283.7 L121.8,283.7 L121.3,283.7 L120.8,283.7 L120.4,283.7 L119.9,283.7 L119.4,283.7 L118.9,283.7 L118.5,283.7 L118,283.7 L117.5,283.7 L117,283.7 L116.6,283.7 L116.1,283.7 L115.6,283.7 L115.1,283.7 L114.7,283.7 L114.2,283.7 L113.7,283.7 L113.2,283.7 L112.7,283.7 L112.3,283.7 L111.8,283.7 L111.3,283.7 L110.8,283.7 L110.4,283.7 L109.9,283.7 L109.4,283.7 L108.9,283.7 L108.5,283.7 L108,283.7 L107.5,283.7 L107,283.7 L106.6,283.7 L106.1,283.7 L105.6,283.7 L105.1,283.7 L104.7,283.7 L104.2,283.7 L103.7,283.7 L103.2,283.7 L102.8,283.7 L102.3,283.7 L101.8,283.7 L101.3,283.7 L100.9,283.7 L100.4,283.7 L99.9,283.7 L99.4,283.7 L99,283.7 L98.5,283.7 L98,283.7 L97.5,283.7 L97,283.7 L96.6,283.7 L96.1,283.7 L95.6,283.7 L95.1,283.7 L94.7,283.7 L94.2,283.7 L93.7,283.7 L93.2,283.7 L92.8,283.7 L92.3,283.7 L91.8,283.7 L91.3,283.7 L90.9,283.7 L90.4,283.7 L89.9,283.7 L89.4,283.7 L89,283.7 L88.5,283.7 L88,283.7 L87.5,283.7 L87.1,283.7 L86.6,283.7 L86.1,283.7 L85.6,283.7 L85.2,283.7 L84.7,283.7 L84.2,283.7 L83.7,283.7 L83.3,283.7 L82.8,283.7 L82.3,283.7 L81.8,283.7 L81.3,283.6 L80.9,283.6 L80.4,283.6 L79.9,283.6 L79.4,283.5 L79,283.5 L78.5,283.4 L78,283.4 L77.5,283.3 L77.1,283.2 L76.6,283 L76.1,282.9 L75.6,282.7 L75.2,282.4 L74.7,282.1 L74.2,281.8 L73.7,281.4 L73.3,280.9 L72.8,280.4 L72.3,279.8 L71.8,279 L71.4,278.2 L70.9,277.3 L70.4,276.2 L69.9,275 L69.5,273.7 L69,272.3 L68.5,270.7 L68,269.1 L67.6,267.2 L67.1,265.3 L66.6,263.3 L66.1,261.2 L65.7,259 L65.2,256.7 L64.7,254.4 L64.2,252.1 L63.7,249.9 L63.3,247.6 L62.8,245.5 L62.3,243.5 L61.8,241.5 L61.4,239.8 L60.9,238.3 L60.4,236.9 L59.9,235.9 L59.5,235 L59,234.5 L58.5,234.2 L58,234.3 L57.6,234.6 L57.1,235.3 L56.6,236.3 L56.1,237.5 L55.7,239.1 L55.2,240.8 L54.7,242.8 L54.2,244.9 L53.8,247.2 L53.3,249.5 L52.8,251.9 L52.3,254.4 L51.9,256.8 L51.4,259.2 L50.9,261.5 L50.4,263.8 L50,265.9 L49.5,267.9 L49,269.8 L48.5,271.5 L48,273.1 L47.6,274.5 L47.1,275.8 Z" fill="#5a5a5a" stroke="none"/>
<path d="M47.1,283.7 L47.6,283.7 L48,283.7 L48.5,283.7 L49,283.7 L49.5,283.7 L50,283.7 L50.4,283.7 L50.9,283.7 L51.4,283.7 L51.9,283.6 L52.3,283.6 L52.8,283.6 L53.3,283.6 L53.8,283.6 L54.2,283.5 L54.7,283.5 L55.2,283.4 L55.7,283.4 L56.1,283.3 L56.6,283.2 L57.1,283.1 L57.6,283 L58,282.9 L58.5,282.8 L59,282.6 L59.5,282.4 L59.9,282.2 L60.4,281.9 L60.9,281.6 L61.4,281.3 L61.8,281 L62.3,280.6 L62.8,280.1 L63.3,279.6 L63.7,279 L64.2,278.4 L64.7,277.8 L65.2,277 L65.7,276.3 L66.1,275.4 L66.6,274.5 L67.1,273.5 L67.6,272.4 L68,271.3 L68.5,270.1 L69,268.8 L69.5,267.4 L69.9,266 L70.4,264.5 L70.9,263 L71.4,261.4 L71.8,259.7 L72.3,258 L72.8,256.2 L73.3,254.4 L73.7,252.6 L74.2,250.7 L74.7,248.8 L75.2,246.9 L75.6,245 L76.1,243 L76.6,241.1 L77.1,239.2 L77.5,237.3 L78,235.5 L78.5,233.7 L79,231.9 L79.4,230.1 L79.9,228.5 L80.4,226.8 L80.9,225.3 L81.3,223.8 L81.8,222.4 L82.3,221 L82.8,219.8 L83.3,218.6 L83.7,217.5 L84.2,216.5 L84.7,215.5 L85.2,214.7 L85.6,213.9 L86.1,213.2 L86.6,212.6 L87.1,212.1 L87.5,211.7 L88,211.3 L88.5,210.9 L89,210.7 L89.4,210.5 L89.9,210.3 L90.4,210.2 L90.9,210.2 L91.3,210.1 L91.8,210.1 L92.3,210.1 L92.8,210.2 L93.2,210.4 L93.7,210.7 L94.2,211.2 L94.7,211.7 L95.1,212.4 L95.6,213.2 L96.1,214.2 L96.6,215.2 L97,216.3 L97.5,217.5 L98,218.8 L98.5,220.2 L99,221.7 L99.4,223.2 L99.9,224.8 L100.4,226.5 L100.9,228.2 L101.3,230 L101.8,231.7 L102.3,233.6 L102.8,235.4 L103.2,237.2 L103.7,239.1 L104.2,240.9 L104.7,242.8 L105.1,244.6 L105.6,246.4 L106.1,248.2 L106.6,250 L107,251.7 L107.5,253.4 L108,255.1 L108.5,256.7 L108.9,258.2 L109.4,259.7 L109.9,261.2 L110.4,262.6 L110.8,264 L111.3,265.3 L111.8,266.5 L112.3,267.7 L112.7,268.8 L113.2,269.9 L113.7,270.9 L114.2,271.9 L114.7,272.8 L115.1,273.7 L115.6,274.5 L116.1,275.2 L116.6,275.9 L117,276.6 L117.5,277.2 L118,277.8 L118.5,278.3 L118.9,278.8 L119.4,279.3 L119.9,279.7 L120.4,280.1 L120.8,280.4 L121.3,280.7 L121.8,281 L122.3,281.3 L122.7,281.6 L123.2,281.8 L123.7,282 L124.2,282.2 L124.6,282.3 L125.1,282.5 L125.6,282.6 L126.1,282.8 L126.5,282.9 L127,283 L127.5,283 L128,283.1 L128.4,283.2 L128.9,283.3 L129.4,283.3 L129.9,283.4 L130.4,283.4 L130.8,283.4 L131.3,283.5 L131.8,283.5 L132.3,283.5 L132.7,283.6 L133.2,283.6 L133.7,283.6 L134.2,283.6 L134.6,283.6 L135.1,283.6 L135.6,283.6 L136.1,283.7 L136.5,283.7 L137,283.7 L137.5,283.7 L138,283.7 L138.4,283.7 L138.9,283.7 L139.4,283.7 L139.9,283.7 L140.3,283.7 L140.8,283.7 L141.3,283.7 L141.8,283.7 L142.2,283.7 L142.7,283.7 L143.2,283.7 L143.7,283.7 L144.1,283.7 L144.6,283.7 L145.1,283.7 L145.6,283.7 L146.1,283.7 L146.5,283.7 L147,283.7 L147.5,283.7 L148,283.7 L148.4,283.7 L148.9,283.7 L149.4,283.7 L149.9,283.7 L150.3,283.7 L150.8,283.7 L151.3,283.7 L151.8,283.7 L152.2,283.7 L152.7,283.7 L153.2,283.7 L153.7,283.7 L154.1,283.7 L154.6,283.7 L155.1,283.7 L155.6,283.7 L156,283.7 L156.5,283.7 L157,283.7 L157.5,283.7 L157.9,283.7 L158.4,283.7 L158.9,283.7 L159.4,283.7 L159.8,283.7 L160.3,283.7 L160.8,283.7" fill="none" stroke="#1a1a8a" stroke-width="2.7" stroke-linejoin="round" stroke-linecap="round"/>
<path d="M47.1,277.9 L47.6,278.3 L48,279.1 L48.5,280 L49,280.9 L49.5,281.6 L50,282.1 L50.4,282.3 L50.9,282.3 L51.4,282.2 L51.9,282.1 L52.3,281.8 L52.8,281.5 L53.3,281.1 L53.8,280.7 L54.2,280.2 L54.7,279.7 L55.2,279.1 L55.7,278.4 L56.1,277.6 L56.6,276.8 L57.1,275.9 L57.6,274.9 L58,273.8 L58.5,272.6 L59,271.3 L59.5,269.8 L59.9,268.3 L60.4,266.7 L60.9,265 L61.4,263.1 L61.8,261.2 L62.3,259.2 L62.8,257.1 L63.3,254.9 L63.7,252.7 L64.2,250.4 L64.7,248 L65.2,245.6 L65.7,243.2 L66.1,240.9 L66.6,238.5 L67.1,236.2 L67.6,233.9 L68,231.8 L68.5,229.7 L69,227.7 L69.5,225.9 L69.9,224.2 L70.4,222.7 L70.9,221.4 L71.4,220.3 L71.8,219.4 L72.3,218.8 L72.8,218.3 L73.3,218.1 L73.7,218.1 L74.2,218.4 L74.7,218.8 L75.2,219.4 L75.6,220.2 L76.1,221.2 L76.6,222.4 L77.1,223.7 L77.5,225.2 L78,226.9 L78.5,228.6 L79,230.5 L79.4,232.4 L79.9,234.5 L80.4,236.6 L80.9,238.8 L81.3,240.9 L81.8,243.2 L82.3,245.4 L82.8,247.6 L83.3,249.8 L83.7,251.9 L84.2,254 L84.7,256.1 L85.2,258.1 L85.6,260 L86.1,261.8 L86.6,263.6 L87.1,265.3 L87.5,266.9 L88,268.4 L88.5,269.8 L89,271.1 L89.4,272.3 L89.9,273.5 L90.4,274.5 L90.9,275.5 L91.3,276.4 L91.8,277.2 L92.3,278 L92.8,278.6 L93.2,279.2 L93.7,279.8 L94.2,280.3 L94.7,280.7 L95.1,281.1 L95.6,281.4 L96.1,281.8 L96.6,282 L97,282.3 L97.5,282.5 L98,282.6 L98.5,282.8 L99,282.9 L99.4,283.1 L99.9,283.2 L100.4,283.2 L100.9,283.3 L101.3,283.4 L101.8,283.4 L102.3,283.5 L102.8,283.5 L103.2,283.6 L103.7,283.6 L104.2,283.6 L104.7,283.6 L105.1,283.6 L105.6,283.6 L106.1,283.7 L106.6,283.7 L107,283.7 L107.5,283.7 L108,283.7 L108.5,283.7 L108.9,283.7 L109.4,283.7 L109.9,283.7 L110.4,283.7 L110.8,283.7 L111.3,283.7 L111.8,283.7 L112.3,283.7 L112.7,283.7 L113.2,283.7 L113.7,283.7 L114.2,283.7 L114.7,283.7 L115.1,283.7 L115.6,283.7 L116.1,283.7 L116.6,283.7 L117,283.7 L117.5,283.7 L118,283.7 L118.5,283.7 L118.9,283.7 L119.4,283.7 L119.9,283.7 L120.4,283.7 L120.8,283.7 L121.3,283.7 L121.8,283.7 L122.3,283.7 L122.7,283.7 L123.2,283.7 L123.7,283.7 L124.2,283.7 L124.6,283.7 L125.1,283.7 L125.6,283.7 L126.1,283.7 L126.5,283.7 L127,283.7 L127.5,283.7 L128,283.7 L128.4,283.7 L128.9,283.7 L129.4,283.7 L129.9,283.7 L130.4,283.7 L130.8,283.7 L131.3,283.7 L131.8,283.7 L132.3,283.7 L132.7,283.7 L133.2,283.7 L133.7,283.7 L134.2,283.7 L134.6,283.7 L135.1,283.7 L135.6,283.7 L136.1,283.7 L136.5,283.7 L137,283.7 L137.5,283.7 L138,283.7 L138.4,283.7 L138.9,283.7 L139.4,283.7 L139.9,283.7 L140.3,283.7 L140.8,283.7 L141.3,283.7 L141.8,283.7 L142.2,283.7 L142.7,283.7 L143.2,283.7 L143.7,283.7 L144.1,283.7 L144.6,283.7 L145.1,283.7 L145.6,283.7 L146.1,283.7 L146.5,283.7 L147,283.7 L147.5,283.7 L148,283.7 L148.4,283.7 L148.9,283.7 L149.4,283.7 L149.9,283.7 L150.3,283.7 L150.8,283.7 L151.3,283.7 L151.8,283.7 L152.2,283.7 L152.7,283.7 L153.2,283.7 L153.7,283.7 L154.1,283.7 L154.6,283.7 L155.1,283.7 L155.6,283.7 L156,283.7 L156.5,283.7 L157,283.7 L157.5,283.7 L157.9,283.7 L158.4,283.7 L158.9,283.7 L159.4,283.7 L159.8,283.7 L160.3,283.7 L160.8,283.7" fill="none" stroke="#ec1c24" stroke-width="2.7" stroke-linejoin="round" stroke-linecap="round"/>
<path d="M47.1,274.8 L47.6,273.4 L48,271.8 L48.5,270 L49,268 L49.5,265.9 L50,263.7 L50.4,261.3 L50.9,258.8 L51.4,256.2 L51.9,253.5 L52.3,250.8 L52.8,248 L53.3,245.3 L53.8,242.7 L54.2,240.1 L54.7,237.7 L55.2,235.5 L55.7,233.6 L56.1,231.8 L56.6,230.4 L57.1,229.3 L57.6,228.6 L58,228.2 L58.5,228.1 L59,228.4 L59.5,229 L59.9,230 L60.4,231.2 L60.9,232.7 L61.4,234.4 L61.8,236.3 L62.3,238.5 L62.8,240.8 L63.3,243.2 L63.7,245.7 L64.2,248.2 L64.7,250.8 L65.2,253.4 L65.7,255.9 L66.1,258.4 L66.6,260.8 L67.1,263.1 L67.6,265.2 L68,267.2 L68.5,269.1 L69,270.9 L69.5,272.5 L69.9,274 L70.4,275.3 L70.9,276.5 L71.4,277.5 L71.8,278.4 L72.3,279.3 L72.8,280 L73.3,280.6 L73.7,281.1 L74.2,281.6 L74.7,282 L75.2,282.3 L75.6,282.5 L76.1,282.8 L76.6,283 L77.1,283.1 L77.5,283.2 L78,283.3 L78.5,283.4 L79,283.5 L79.4,283.5 L79.9,283.6 L80.4,283.6 L80.9,283.6 L81.3,283.6 L81.8,283.7 L82.3,283.7 L82.8,283.7 L83.3,283.7 L83.7,283.7 L84.2,283.7 L84.7,283.7 L85.2,283.7 L85.6,283.7 L86.1,283.7 L86.6,283.7 L87.1,283.7 L87.5,283.7 L88,283.7 L88.5,283.7 L89,283.7 L89.4,283.7 L89.9,283.7 L90.4,283.7 L90.9,283.7 L91.3,283.7 L91.8,283.7 L92.3,283.7 L92.8,283.7 L93.2,283.7 L93.7,283.7 L94.2,283.7 L94.7,283.7 L95.1,283.7 L95.6,283.7 L96.1,283.7 L96.6,283.7 L97,283.7 L97.5,283.7 L98,283.7 L98.5,283.7 L99,283.7 L99.4,283.7 L99.9,283.7 L100.4,283.7 L100.9,283.7 L101.3,283.7 L101.8,283.7 L102.3,283.7 L102.8,283.7 L103.2,283.7 L103.7,283.7 L104.2,283.7 L104.7,283.7 L105.1,283.7 L105.6,283.7 L106.1,283.7 L106.6,283.7 L107,283.7 L107.5,283.7 L108,283.7 L108.5,283.7 L108.9,283.7 L109.4,283.7 L109.9,283.7 L110.4,283.7 L110.8,283.7 L111.3,283.7 L111.8,283.7 L112.3,283.7 L112.7,283.7 L113.2,283.7 L113.7,283.7 L114.2,283.7 L114.7,283.7 L115.1,283.7 L115.6,283.7 L116.1,283.7 L116.6,283.7 L117,283.7 L117.5,283.7 L118,283.7 L118.5,283.7 L118.9,283.7 L119.4,283.7 L119.9,283.7 L120.4,283.7 L120.8,283.7 L121.3,283.7 L121.8,283.7 L122.3,283.7 L122.7,283.7 L123.2,283.7 L123.7,283.7 L124.2,283.7 L124.6,283.7 L125.1,283.7 L125.6,283.7 L126.1,283.7 L126.5,283.7 L127,283.7 L127.5,283.7 L128,283.7 L128.4,283.7 L128.9,283.7 L129.4,283.7 L129.9,283.7 L130.4,283.7 L130.8,283.7 L131.3,283.7 L131.8,283.7 L132.3,283.7 L132.7,283.7 L133.2,283.7 L133.7,283.7 L134.2,283.7 L134.6,283.7 L135.1,283.7 L135.6,283.7 L136.1,283.7 L136.5,283.7 L137,283.7 L137.5,283.7 L138,283.7 L138.4,283.7 L138.9,283.7 L139.4,283.7 L139.9,283.7 L140.3,283.7 L140.8,283.7 L141.3,283.7 L141.8,283.7 L142.2,283.7 L142.7,283.7 L143.2,283.7 L143.7,283.7 L144.1,283.7 L144.6,283.7 L145.1,283.7 L145.6,283.7 L146.1,283.7 L146.5,283.7 L147,283.7 L147.5,283.7 L148,283.7 L148.4,283.7 L148.9,283.7 L149.4,283.7 L149.9,283.7 L150.3,283.7 L150.8,283.7 L151.3,283.7 L151.8,283.7 L152.2,283.7 L152.7,283.7 L153.2,283.7 L153.7,283.7 L154.1,283.7 L154.6,283.7 L155.1,283.7 L155.6,283.7 L156,283.7 L156.5,283.7 L157,283.7 L157.5,283.7 L157.9,283.7 L158.4,283.7 L158.9,283.7 L159.4,283.7 L159.8,283.7 L160.3,283.7 L160.8,283.7" fill="none" stroke="#0a0a0a" stroke-width="2.7" stroke-linejoin="round" stroke-linecap="round"/>
<path d="M38.8,163.3 V286.6 M38.1,285.6 H161.4" stroke="#111" stroke-width="1.35" fill="none"/>
<text x="35.2" y="287.9" font-family="'Liberation Serif','Times New Roman',serif" font-weight="bold" font-size="12" text-anchor="end">0</text>
<text x="35.2" y="247.9" font-family="'Liberation Serif','Times New Roman',serif" font-weight="bold" font-size="12" text-anchor="end">1</text>
<text x="35.2" y="207.9" font-family="'Liberation Serif','Times New Roman',serif" font-weight="bold" font-size="12" text-anchor="end">2</text>
<text x="35.2" y="167.9" font-family="'Liberation Serif','Times New Roman',serif" font-weight="bold" font-size="12" text-anchor="end">3</text>
<text x="39.1" y="299.6" font-family="'Liberation Serif','Times New Roman',serif" font-weight="bold" font-size="12" text-anchor="middle">0</text>
<text x="63.5" y="299.6" font-family="'Liberation Serif','Times New Roman',serif" font-weight="bold" font-size="12" text-anchor="middle">2</text>
<text x="87.9" y="299.6" font-family="'Liberation Serif','Times New Roman',serif" font-weight="bold" font-size="12" text-anchor="middle">4</text>
<text x="112.3" y="299.6" font-family="'Liberation Serif','Times New Roman',serif" font-weight="bold" font-size="12" text-anchor="middle">6</text>
<text x="136.7" y="299.6" font-family="'Liberation Serif','Times New Roman',serif" font-weight="bold" font-size="12" text-anchor="middle">8</text>
<text x="161.1" y="299.6" font-family="'Liberation Serif','Times New Roman',serif" font-weight="bold" font-size="12" text-anchor="middle">10</text>
<path d="M36.8,283.7 H38.8 M36.8,243.7 H38.8 M36.8,203.7 H38.8 M36.8,163.7 H38.8 M38.8,285.6 V288.6 M51,285.6 V288.6 M63.2,285.6 V288.6 M75.4,285.6 V288.6 M87.6,285.6 V288.6 M99.8,285.6 V288.6 M112,285.6 V288.6 M124.2,285.6 V288.6 M136.4,285.6 V288.6 M148.6,285.6 V288.6 M160.8,285.6 V288.6" stroke="#111" stroke-width="1.2" fill="none"/>
<text x="100.2" y="316.6" font-family="'Liberation Serif','Times New Roman',serif" font-weight="bold" font-size="11.5" text-anchor="middle">Diameter (&#956;m)</text>
<text x="0" y="0" font-family="'Liberation Serif','Times New Roman',serif" font-weight="bold" font-size="11.5" text-anchor="middle" transform="translate(22.2,220) rotate(-90)">Number %</text>
<path d="M217.1,283.5 L217.6,283.5 L218,283.5 L218.5,283.5 L219,283.5 L219.5,283.5 L220,283.5 L220.4,283.5 L220.9,283.5 L221.4,283.5 L221.9,283.5 L222.3,283.5 L222.8,283.5 L223.3,283.5 L223.8,283.5 L224.2,283.5 L224.7,283.5 L225.2,283.5 L225.7,283.5 L226.1,283.5 L226.6,283.5 L227.1,283.5 L227.6,283.5 L228,283.5 L228.5,283.5 L229,283.5 L229.5,283.5 L229.9,283.5 L230.4,283.5 L230.9,283.4 L231.4,283.4 L231.8,283.4 L232.3,283.4 L232.8,283.4 L233.3,283.4 L233.7,283.3 L234.2,283.3 L234.7,283.3 L235.2,283.2 L235.7,283.2 L236.1,283.1 L236.6,283 L237.1,283 L237.6,282.9 L238,282.8 L238.5,282.7 L239,282.6 L239.5,282.4 L239.9,282.2 L240.4,282.1 L240.9,281.8 L241.4,281.6 L241.8,281.3 L242.3,281.1 L242.8,280.7 L243.3,280.4 L243.7,280 L244.2,279.5 L244.7,279 L245.2,278.5 L245.6,277.9 L246.1,277.2 L246.6,276.5 L247.1,275.7 L247.5,274.8 L248,273.9 L248.5,272.9 L249,271.8 L249.4,270.7 L249.9,269.4 L250.4,268.1 L250.9,266.6 L251.3,265.1 L251.8,263.5 L252.3,261.8 L252.8,259.9 L253.3,258 L253.7,256 L254.2,253.9 L254.7,251.7 L255.2,249.4 L255.6,246.9 L256.1,244.4 L256.6,241.9 L257.1,239.2 L257.5,236.5 L258,233.7 L258.5,230.8 L259,227.9 L259.4,225 L259.9,222 L260.4,219 L260.9,216.1 L261.3,213.2 L261.8,210.3 L262.3,207.5 L262.8,204.7 L263.2,202.1 L263.7,199.6 L264.2,197.2 L264.7,195 L265.1,192.9 L265.6,191.1 L266.1,189.5 L266.6,188.1 L267,187 L267.5,186.1 L268,185.5 L268.5,185.1 L269,185.1 L269.4,185.2 L269.9,185.6 L270.4,186.1 L270.9,186.8 L271.3,187.7 L271.8,188.7 L272.3,189.9 L272.8,191.3 L273.2,192.7 L273.7,194.3 L274.2,196 L274.7,197.7 L275.1,199.5 L275.6,201.4 L276.1,203.3 L276.6,205.3 L277,207.2 L277.5,209.2 L278,211.1 L278.5,213.1 L278.9,215 L279.4,217 L279.9,218.9 L280.4,220.7 L280.8,222.6 L281.3,224.4 L281.8,226.2 L282.3,227.9 L282.7,229.6 L283.2,231.2 L283.7,232.8 L284.2,234.4 L284.7,235.9 L285.1,237.4 L285.6,238.9 L286.1,240.3 L286.6,241.7 L287,243 L287.5,244.3 L288,245.6 L288.5,246.8 L288.9,248 L289.4,249.1 L289.9,250.2 L290.4,251.3 L290.8,252.4 L291.3,253.4 L291.8,254.4 L292.3,255.3 L292.7,256.2 L293.2,257.1 L293.7,257.9 L294.2,258.8 L294.6,259.6 L295.1,260.3 L295.6,261.1 L296.1,261.8 L296.5,262.4 L297,263.1 L297.5,263.7 L298,264.3 L298.4,264.9 L298.9,265.5 L299.4,266 L299.9,266.5 L300.4,267 L300.8,267.5 L301.3,267.9 L301.8,268.4 L302.3,268.8 L302.7,269.2 L303.2,269.6 L303.7,269.9 L304.2,270.3 L304.6,270.6 L305.1,271 L305.6,271.3 L306.1,271.6 L306.5,271.8 L307,272.1 L307.5,272.4 L308,272.6 L308.4,272.8 L308.9,273.1 L309.4,273.3 L309.9,273.5 L310.3,273.7 L310.8,273.9 L311.3,274.1 L311.8,274.2 L312.2,274.4 L312.7,274.5 L313.2,274.7 L313.7,274.8 L314.1,275 L314.6,275.1 L315.1,275.2 L315.6,275.3 L316.1,275.4 L316.5,275.6 L317,275.7 L317.5,275.7 L318,275.8 L318.4,275.9 L318.9,276 L319.4,276.1 L319.9,276.2 L320.3,276.2 L320.8,276.3 L321.3,276.4 L321.8,276.4 L322.2,276.5 L322.7,276.5 L323.2,276.6 L323.7,276.6 L324.1,276.7 L324.6,276.7 L325.1,276.8 L325.6,276.8 L326,276.8 L326.5,276.9 L327,276.9 L327.5,276.9 L327.9,277 L328.4,277 L328.9,277 L329.4,277 L329.8,277.1 L330.3,277.1 L330.8,277.1 L330.8,281.6 L330.3,281.6 L329.8,281.6 L329.4,281.6 L328.9,281.6 L328.4,281.6 L327.9,281.6 L327.5,281.6 L327,281.6 L326.5,281.6 L326,281.6 L325.6,281.6 L325.1,281.6 L324.6,281.6 L324.1,281.5 L323.7,281.5 L323.2,281.5 L322.7,281.5 L322.2,281.5 L321.8,281.5 L321.3,281.5 L320.8,281.5 L320.3,281.5 L319.9,281.4 L319.4,281.4 L318.9,281.4 L318.4,281.4 L318,281.4 L317.5,281.4 L317,281.3 L316.5,281.3 L316.1,281.3 L315.6,281.3 L315.1,281.2 L314.6,281.2 L314.1,281.2 L313.7,281.1 L313.2,281.1 L312.7,281 L312.2,281 L311.8,280.9 L311.3,280.9 L310.8,280.8 L310.3,280.8 L309.9,280.7 L309.4,280.6 L308.9,280.6 L308.4,280.5 L308,280.4 L307.5,280.3 L307,280.2 L306.5,280.1 L306.1,280 L305.6,279.9 L305.1,279.7 L304.6,279.6 L304.2,279.5 L303.7,279.3 L303.2,279.1 L302.7,279 L302.3,278.8 L301.8,278.6 L301.3,278.4 L300.8,278.1 L300.4,277.9 L299.9,277.6 L299.4,277.4 L298.9,277.1 L298.4,276.8 L298,276.4 L297.5,276.1 L297,275.7 L296.5,275.3 L296.1,274.9 L295.6,274.5 L295.1,274 L294.6,273.5 L294.2,273 L293.7,272.4 L293.2,271.8 L292.7,271.2 L292.3,270.6 L291.8,269.9 L291.3,269.1 L290.8,268.3 L290.4,267.5 L289.9,266.6 L289.4,265.7 L288.9,264.8 L288.5,263.7 L288,262.7 L287.5,261.6 L287,260.4 L286.6,259.2 L286.1,257.9 L285.6,256.6 L285.1,255.2 L284.7,253.8 L284.2,252.3 L283.7,250.7 L283.2,249.2 L282.7,247.5 L282.3,245.9 L281.8,244.2 L281.3,242.4 L280.8,240.6 L280.4,238.8 L279.9,237 L279.4,235.1 L278.9,233.2 L278.5,231.4 L278,229.5 L277.5,227.6 L277,225.7 L276.6,223.9 L276.1,222.1 L275.6,220.3 L275.1,218.6 L274.7,216.9 L274.2,215.4 L273.7,213.8 L273.2,212.4 L272.8,211.1 L272.3,209.9 L271.8,208.8 L271.3,207.9 L270.9,207.1 L270.4,206.4 L269.9,205.9 L269.4,205.6 L269,205.5 L268.5,205.5 L268,205.8 L267.5,206.2 L267,206.8 L266.6,207.5 L266.1,208.5 L265.6,209.6 L265.1,210.8 L264.7,212.2 L264.2,213.8 L263.7,215.5 L263.2,217.2 L262.8,219.1 L262.3,221.1 L261.8,223.2 L261.3,225.4 L260.9,227.6 L260.4,229.8 L259.9,232.1 L259.4,234.4 L259,236.7 L258.5,239 L258,241.3 L257.5,243.5 L257.1,245.8 L256.6,248 L256.1,250.1 L255.6,252.2 L255.2,254.2 L254.7,256.2 L254.2,258.1 L253.7,259.9 L253.3,261.6 L252.8,263.3 L252.3,264.9 L251.8,266.4 L251.3,267.8 L250.9,269.1 L250.4,270.4 L249.9,271.5 L249.4,272.6 L249,273.6 L248.5,274.6 L248,275.5 L247.5,276.3 L247.1,277 L246.6,277.7 L246.1,278.3 L245.6,278.9 L245.2,279.4 L244.7,279.8 L244.2,280.3 L243.7,280.6 L243.3,281 L242.8,281.3 L242.3,281.6 L241.8,281.8 L241.4,282 L240.9,282.2 L240.4,282.4 L239.9,282.5 L239.5,282.7 L239,282.8 L238.5,282.9 L238,283 L237.6,283 L237.1,283.1 L236.6,283.2 L236.1,283.2 L235.7,283.3 L235.2,283.3 L234.7,283.3 L234.2,283.4 L233.7,283.4 L233.3,283.4 L232.8,283.4 L232.3,283.4 L231.8,283.4 L231.4,283.5 L230.9,283.5 L230.4,283.5 L229.9,283.5 L229.5,283.5 L229,283.5 L228.5,283.5 L228,283.5 L227.6,283.5 L227.1,283.5 L226.6,283.5 L226.1,283.5 L225.7,283.5 L225.2,283.5 L224.7,283.5 L224.2,283.5 L223.8,283.5 L223.3,283.5 L222.8,283.5 L222.3,283.5 L221.9,283.5 L221.4,283.5 L220.9,283.5 L220.4,283.5 L220,283.5 L219.5,283.5 L219,283.5 L218.5,283.5 L218,283.5 L217.6,283.5 L217.1,283.5 Z" fill="#9ea2d8" stroke="none"/>
<path d="M217.1,283.4 L217.6,283.4 L218,283.4 L218.5,283.4 L219,283.3 L219.5,283.3 L220,283.3 L220.4,283.2 L220.9,283.1 L221.4,283.1 L221.9,283 L222.3,282.9 L222.8,282.8 L223.3,282.6 L223.8,282.5 L224.2,282.3 L224.7,282.1 L225.2,281.8 L225.7,281.5 L226.1,281.2 L226.6,280.8 L227.1,280.4 L227.6,279.9 L228,279.4 L228.5,278.8 L229,278.1 L229.5,277.3 L229.9,276.5 L230.4,275.6 L230.9,274.5 L231.4,273.4 L231.8,272.2 L232.3,270.9 L232.8,269.5 L233.3,267.9 L233.7,266.3 L234.2,264.5 L234.7,262.6 L235.2,260.6 L235.7,258.5 L236.1,256.3 L236.6,254 L237.1,251.5 L237.6,249 L238,246.4 L238.5,243.7 L239,241 L239.5,238.2 L239.9,235.4 L240.4,232.6 L240.9,229.8 L241.4,227 L241.8,224.3 L242.3,221.7 L242.8,219.2 L243.3,216.8 L243.7,214.6 L244.2,212.5 L244.7,210.7 L245.2,209.1 L245.6,207.7 L246.1,206.6 L246.6,205.9 L247.1,205.4 L247.5,205.2 L248,205.3 L248.5,205.5 L249,206 L249.4,206.6 L249.9,207.4 L250.4,208.3 L250.9,209.3 L251.3,210.5 L251.8,211.8 L252.3,213.1 L252.8,214.5 L253.3,216 L253.7,217.5 L254.2,219 L254.7,220.5 L255.2,222.1 L255.6,223.6 L256.1,225.2 L256.6,226.7 L257.1,228.2 L257.5,229.7 L258,231.2 L258.5,232.6 L259,234.1 L259.4,235.5 L259.9,236.9 L260.4,238.2 L260.9,239.5 L261.3,240.8 L261.8,242.1 L262.3,243.4 L262.8,244.6 L263.2,245.8 L263.7,247 L264.2,248.1 L264.7,249.3 L265.1,250.4 L265.6,251.5 L266.1,252.5 L266.6,253.5 L267,254.5 L267.5,255.5 L268,256.4 L268.5,257.4 L269,258.3 L269.4,259.1 L269.9,260 L270.4,260.8 L270.9,261.6 L271.3,262.3 L271.8,263.1 L272.3,263.8 L272.8,264.5 L273.2,265.2 L273.7,265.8 L274.2,266.5 L274.7,267.1 L275.1,267.7 L275.6,268.2 L276.1,268.8 L276.6,269.3 L277,269.8 L277.5,270.3 L278,270.8 L278.5,271.3 L278.9,271.7 L279.4,272.1 L279.9,272.6 L280.4,273 L280.8,273.3 L281.3,273.7 L281.8,274.1 L282.3,274.4 L282.7,274.7 L283.2,275.1 L283.7,275.4 L284.2,275.7 L284.7,275.9 L285.1,276.2 L285.6,276.5 L286.1,276.7 L286.6,277 L287,277.2 L287.5,277.4 L288,277.6 L288.5,277.9 L288.9,278.1 L289.4,278.3 L289.9,278.4 L290.4,278.6 L290.8,278.8 L291.3,279 L291.8,279.1 L292.3,279.3 L292.7,279.4 L293.2,279.6 L293.7,279.7 L294.2,279.8 L294.6,280 L295.1,280.1 L295.6,280.2 L296.1,280.3 L296.5,280.4 L297,280.5 L297.5,280.6 L298,280.7 L298.4,280.8 L298.9,280.9 L299.4,281 L299.9,281.1 L300.4,281.2 L300.8,281.3 L301.3,281.3 L301.8,281.4 L302.3,281.5 L302.7,281.5 L303.2,281.6 L303.7,281.7 L304.2,281.7 L304.6,281.8 L305.1,281.8 L305.6,281.9 L306.1,281.9 L306.5,282 L307,282 L307.5,282.1 L308,282.1 L308.4,282.2 L308.9,282.2 L309.4,282.3 L309.9,282.3 L310.3,282.3 L310.8,282.4 L311.3,282.4 L311.8,282.4 L312.2,282.5 L312.7,282.5 L313.2,282.5 L313.7,282.6 L314.1,282.6 L314.6,282.6 L315.1,282.7 L315.6,282.7 L316.1,282.7 L316.5,282.7 L317,282.8 L317.5,282.8 L318,282.8 L318.4,282.8 L318.9,282.8 L319.4,282.9 L319.9,282.9 L320.3,282.9 L320.8,282.9 L321.3,282.9 L321.8,282.9 L322.2,283 L322.7,283 L323.2,283 L323.7,283 L324.1,283 L324.6,283 L325.1,283 L325.6,283.1 L326,283.1 L326.5,283.1 L327,283.1 L327.5,283.1 L327.9,283.1 L328.4,283.1 L328.9,283.1 L329.4,283.1 L329.8,283.2 L330.3,283.2 L330.8,283.2 L330.8,283.4 L330.3,283.4 L329.8,283.4 L329.4,283.4 L328.9,283.4 L328.4,283.4 L327.9,283.4 L327.5,283.4 L327,283.4 L326.5,283.4 L326,283.4 L325.6,283.4 L325.1,283.4 L324.6,283.4 L324.1,283.4 L323.7,283.4 L323.2,283.4 L322.7,283.4 L322.2,283.4 L321.8,283.4 L321.3,283.4 L320.8,283.4 L320.3,283.4 L319.9,283.4 L319.4,283.4 L318.9,283.3 L318.4,283.3 L318,283.3 L317.5,283.3 L317,283.3 L316.5,283.3 L316.1,283.3 L315.6,283.3 L315.1,283.3 L314.6,283.3 L314.1,283.3 L313.7,283.3 L313.2,283.3 L312.7,283.3 L312.2,283.3 L311.8,283.2 L311.3,283.2 L310.8,283.2 L310.3,283.2 L309.9,283.2 L309.4,283.2 L308.9,283.2 L308.4,283.2 L308,283.2 L307.5,283.1 L307,283.1 L306.5,283.1 L306.1,283.1 L305.6,283.1 L305.1,283.1 L304.6,283.1 L304.2,283 L303.7,283 L303.2,283 L302.7,283 L302.3,283 L301.8,282.9 L301.3,282.9 L300.8,282.9 L300.4,282.9 L299.9,282.8 L299.4,282.8 L298.9,282.8 L298.4,282.8 L298,282.7 L297.5,282.7 L297,282.7 L296.5,282.6 L296.1,282.6 L295.6,282.5 L295.1,282.5 L294.6,282.5 L294.2,282.4 L293.7,282.4 L293.2,282.3 L292.7,282.3 L292.3,282.2 L291.8,282.1 L291.3,282.1 L290.8,282 L290.4,281.9 L289.9,281.9 L289.4,281.8 L288.9,281.7 L288.5,281.6 L288,281.6 L287.5,281.5 L287,281.4 L286.6,281.3 L286.1,281.2 L285.6,281 L285.1,280.9 L284.7,280.8 L284.2,280.7 L283.7,280.5 L283.2,280.4 L282.7,280.2 L282.3,280.1 L281.8,279.9 L281.3,279.7 L280.8,279.6 L280.4,279.4 L279.9,279.2 L279.4,278.9 L278.9,278.7 L278.5,278.5 L278,278.2 L277.5,277.9 L277,277.7 L276.6,277.4 L276.1,277.1 L275.6,276.7 L275.1,276.4 L274.7,276 L274.2,275.6 L273.7,275.2 L273.2,274.8 L272.8,274.4 L272.3,273.9 L271.8,273.4 L271.3,272.9 L270.9,272.3 L270.4,271.8 L269.9,271.2 L269.4,270.5 L269,269.9 L268.5,269.2 L268,268.5 L267.5,267.7 L267,266.9 L266.6,266.1 L266.1,265.2 L265.6,264.3 L265.1,263.3 L264.7,262.3 L264.2,261.3 L263.7,260.2 L263.2,259.1 L262.8,257.9 L262.3,256.7 L261.8,255.5 L261.3,254.2 L260.9,252.8 L260.4,251.4 L259.9,250 L259.4,248.5 L259,247 L258.5,245.5 L258,243.9 L257.5,242.3 L257.1,240.6 L256.6,239 L256.1,237.3 L255.6,235.6 L255.2,234 L254.7,232.3 L254.2,230.6 L253.7,229 L253.3,227.4 L252.8,225.8 L252.3,224.3 L251.8,222.9 L251.3,221.6 L250.9,220.3 L250.4,219.2 L249.9,218.2 L249.4,217.4 L249,216.7 L248.5,216.2 L248,215.9 L247.5,215.9 L247.1,216 L246.6,216.4 L246.1,217.1 L245.6,217.9 L245.2,219.1 L244.7,220.4 L244.2,221.9 L243.7,223.6 L243.3,225.5 L242.8,227.5 L242.3,229.7 L241.8,232 L241.4,234.3 L240.9,236.8 L240.4,239.2 L239.9,241.7 L239.5,244.2 L239,246.7 L238.5,249.2 L238,251.6 L237.6,253.9 L237.1,256.2 L236.6,258.4 L236.1,260.5 L235.7,262.5 L235.2,264.4 L234.7,266.2 L234.2,267.9 L233.7,269.5 L233.3,270.9 L232.8,272.3 L232.3,273.5 L231.8,274.7 L231.4,275.7 L230.9,276.6 L230.4,277.5 L229.9,278.3 L229.5,278.9 L229,279.5 L228.5,280.1 L228,280.6 L227.6,281 L227.1,281.4 L226.6,281.7 L226.1,282 L225.7,282.2 L225.2,282.4 L224.7,282.6 L224.2,282.7 L223.8,282.9 L223.3,283 L222.8,283.1 L222.3,283.1 L221.9,283.2 L221.4,283.3 L220.9,283.3 L220.4,283.3 L220,283.4 L219.5,283.4 L219,283.4 L218.5,283.4 L218,283.4 L217.6,283.5 L217.1,283.5 Z" fill="#f49a9a" stroke="none"/>
<path d="M217.1,280.2 L217.6,279.6 L218,278.8 L218.5,278 L219,277.1 L219.5,276 L220,274.8 L220.4,273.5 L220.9,272 L221.4,270.4 L221.9,268.6 L222.3,266.7 L222.8,264.6 L223.3,262.3 L223.8,259.9 L224.2,257.4 L224.7,254.7 L225.2,252 L225.7,249.1 L226.1,246.2 L226.6,243.2 L227.1,240.2 L227.6,237.2 L228,234.3 L228.5,231.4 L229,228.7 L229.5,226.1 L229.9,223.7 L230.4,221.5 L230.9,219.7 L231.4,218.1 L231.8,216.8 L232.3,215.9 L232.8,215.4 L233.3,215.3 L233.7,215.5 L234.2,216.2 L234.7,217.2 L235.2,218.6 L235.7,220.2 L236.1,222.1 L236.6,224.2 L237.1,226.5 L237.6,228.9 L238,231.4 L238.5,234 L239,236.5 L239.5,239.1 L239.9,241.7 L240.4,244.3 L240.9,246.7 L241.4,249.1 L241.8,251.5 L242.3,253.7 L242.8,255.8 L243.3,257.9 L243.7,259.8 L244.2,261.6 L244.7,263.4 L245.2,265 L245.6,266.5 L246.1,267.9 L246.6,269.2 L247.1,270.5 L247.5,271.6 L248,272.7 L248.5,273.7 L249,274.5 L249.4,275.4 L249.9,276.1 L250.4,276.8 L250.9,277.5 L251.3,278 L251.8,278.6 L252.3,279 L252.8,279.5 L253.3,279.9 L253.7,280.2 L254.2,280.6 L254.7,280.9 L255.2,281.1 L255.6,281.4 L256.1,281.6 L256.6,281.8 L257.1,282 L257.5,282.1 L258,282.3 L258.5,282.4 L259,282.5 L259.4,282.6 L259.9,282.7 L260.4,282.8 L260.9,282.9 L261.3,282.9 L261.8,283 L262.3,283 L262.8,283.1 L263.2,283.1 L263.7,283.2 L264.2,283.2 L264.7,283.2 L265.1,283.3 L265.6,283.3 L266.1,283.3 L266.6,283.3 L267,283.3 L267.5,283.4 L268,283.4 L268.5,283.4 L269,283.4 L269.4,283.4 L269.9,283.4 L270.4,283.4 L270.9,283.4 L271.3,283.4 L271.8,283.5 L272.3,283.5 L272.8,283.5 L273.2,283.5 L273.7,283.5 L274.2,283.5 L274.7,283.5 L275.1,283.5 L275.6,283.5 L276.1,283.5 L276.6,283.5 L277,283.5 L277.5,283.5 L278,283.5 L278.5,283.5 L278.9,283.5 L279.4,283.5 L279.9,283.5 L280.4,283.5 L280.8,283.5 L281.3,283.5 L281.8,283.5 L282.3,283.5 L282.7,283.5 L283.2,283.5 L283.7,283.5 L284.2,283.5 L284.7,283.5 L285.1,283.5 L285.6,283.5 L286.1,283.5 L286.6,283.5 L287,283.5 L287.5,283.5 L288,283.5 L288.5,283.5 L288.9,283.5 L289.4,283.5 L289.9,283.5 L290.4,283.5 L290.8,283.5 L291.3,283.5 L291.8,283.5 L292.3,283.5 L292.7,283.5 L293.2,283.5 L293.7,283.5 L294.2,283.5 L294.6,283.5 L295.1,283.5 L295.6,283.5 L296.1,283.5 L296.5,283.5 L297,283.5 L297.5,283.5 L298,283.5 L298.4,283.5 L298.9,283.5 L299.4,283.5 L299.9,283.5 L300.4,283.5 L300.8,283.5 L301.3,283.5 L301.8,283.5 L302.3,283.5 L302.7,283.5 L303.2,283.5 L303.7,283.5 L304.2,283.5 L304.6,283.5 L305.1,283.5 L305.6,283.5 L306.1,283.5 L306.5,283.5 L307,283.5 L307.5,283.5 L308,283.5 L308.4,283.5 L308.9,283.5 L309.4,283.5 L309.9,283.5 L310.3,283.5 L310.8,283.5 L311.3,283.5 L311.8,283.5 L312.2,283.5 L312.7,283.5 L313.2,283.5 L313.7,283.5 L314.1,283.5 L314.6,283.5 L315.1,283.5 L315.6,283.5 L316.1,283.5 L316.5,283.5 L317,283.5 L317.5,283.5 L318,283.5 L318.4,283.5 L318.9,283.5 L319.4,283.5 L319.9,283.5 L320.3,283.5 L320.8,283.5 L321.3,283.5 L321.8,283.5 L322.2,283.5 L322.7,283.5 L323.2,283.5 L323.7,283.5 L324.1,283.5 L324.6,283.5 L325.1,283.5 L325.6,283.5 L326,283.5 L326.5,283.5 L327,283.5 L327.5,283.5 L327.9,283.5 L328.4,283.5 L328.9,283.5 L329.4,283.5 L329.8,283.5 L330.3,283.5 L330.8,283.5 L330.8,283.5 L330.3,283.5 L329.8,283.5 L329.4,283.5 L328.9,283.5 L328.4,283.5 L327.9,283.5 L327.5,283.5 L327,283.5 L326.5,283.5 L326,283.5 L325.6,283.5 L325.1,283.5 L324.6,283.5 L324.1,283.5 L323.7,283.5 L323.2,283.5 L322.7,283.5 L322.2,283.5 L321.8,283.5 L321.3,283.5 L320.8,283.5 L320.3,283.5 L319.9,283.5 L319.4,283.5 L318.9,283.5 L318.4,283.5 L318,283.5 L317.5,283.5 L317,283.5 L316.5,283.5 L316.1,283.5 L315.6,283.5 L315.1,283.5 L314.6,283.5 L314.1,283.5 L313.7,283.5 L313.2,283.5 L312.7,283.5 L312.2,283.5 L311.8,283.5 L311.3,283.5 L310.8,283.5 L310.3,283.5 L309.9,283.5 L309.4,283.5 L308.9,283.5 L308.4,283.5 L308,283.5 L307.5,283.5 L307,283.5 L306.5,283.5 L306.1,283.5 L305.6,283.5 L305.1,283.5 L304.6,283.5 L304.2,283.5 L303.7,283.5 L303.2,283.5 L302.7,283.5 L302.3,283.5 L301.8,283.5 L301.3,283.5 L300.8,283.5 L300.4,283.5 L299.9,283.5 L299.4,283.5 L298.9,283.5 L298.4,283.5 L298,283.5 L297.5,283.5 L297,283.5 L296.5,283.5 L296.1,283.5 L295.6,283.5 L295.1,283.5 L294.6,283.5 L294.2,283.5 L293.7,283.5 L293.2,283.5 L292.7,283.5 L292.3,283.5 L291.8,283.5 L291.3,283.5 L290.8,283.5 L290.4,283.5 L289.9,283.5 L289.4,283.5 L288.9,283.5 L288.5,283.5 L288,283.5 L287.5,283.5 L287,283.5 L286.6,283.5 L286.1,283.5 L285.6,283.5 L285.1,283.5 L284.7,283.5 L284.2,283.5 L283.7,283.5 L283.2,283.5 L282.7,283.5 L282.3,283.5 L281.8,283.5 L281.3,283.5 L280.8,283.5 L280.4,283.5 L279.9,283.5 L279.4,283.5 L278.9,283.5 L278.5,283.5 L278,283.5 L277.5,283.5 L277,283.5 L276.6,283.5 L276.1,283.5 L275.6,283.5 L275.1,283.5 L274.7,283.5 L274.2,283.5 L273.7,283.5 L273.2,283.5 L272.8,283.5 L272.3,283.5 L271.8,283.5 L271.3,283.5 L270.9,283.5 L270.4,283.5 L269.9,283.5 L269.4,283.5 L269,283.5 L268.5,283.4 L268,283.4 L267.5,283.4 L267,283.4 L266.6,283.4 L266.1,283.4 L265.6,283.4 L265.1,283.4 L264.7,283.4 L264.2,283.3 L263.7,283.3 L263.2,283.3 L262.8,283.3 L262.3,283.2 L261.8,283.2 L261.3,283.2 L260.9,283.1 L260.4,283.1 L259.9,283 L259.4,283 L259,282.9 L258.5,282.8 L258,282.7 L257.5,282.6 L257.1,282.5 L256.6,282.4 L256.1,282.3 L255.6,282.1 L255.2,281.9 L254.7,281.7 L254.2,281.5 L253.7,281.3 L253.3,281 L252.8,280.7 L252.3,280.4 L251.8,280 L251.3,279.6 L250.9,279.1 L250.4,278.6 L249.9,278 L249.4,277.4 L249,276.7 L248.5,276 L248,275.1 L247.5,274.2 L247.1,273.2 L246.6,272.1 L246.1,270.9 L245.6,269.7 L245.2,268.3 L244.7,266.8 L244.2,265.1 L243.7,263.4 L243.3,261.6 L242.8,259.6 L242.3,257.5 L241.8,255.3 L241.4,253.1 L240.9,250.7 L240.4,248.2 L239.9,245.7 L239.5,243.2 L239,240.6 L238.5,238 L238,235.4 L237.6,232.9 L237.1,230.5 L236.6,228.2 L236.1,226.1 L235.7,224.2 L235.2,222.5 L234.7,221.2 L234.2,220.2 L233.7,219.5 L233.3,219.2 L232.8,219.4 L232.3,219.9 L231.8,220.8 L231.4,222 L230.9,223.7 L230.4,225.6 L229.9,227.8 L229.5,230.2 L229,232.8 L228.5,235.6 L228,238.6 L227.6,241.6 L227.1,244.6 L226.6,247.6 L226.1,250.6 L225.7,253.6 L225.2,256.4 L224.7,259.1 L224.2,261.7 L223.8,264.1 L223.3,266.4 L222.8,268.4 L222.3,270.4 L221.9,272.1 L221.4,273.7 L220.9,275.1 L220.4,276.3 L220,277.4 L219.5,278.4 L219,279.2 L218.5,279.9 L218,280.6 L217.6,281.1 L217.1,281.5 Z" fill="#5a5a5a" stroke="none"/>
<path d="M217.1,283.5 L217.6,283.5 L218,283.5 L218.5,283.5 L219,283.5 L219.5,283.5 L220,283.5 L220.4,283.5 L220.9,283.5 L221.4,283.5 L221.9,283.5 L222.3,283.5 L222.8,283.5 L223.3,283.5 L223.8,283.5 L224.2,283.5 L224.7,283.5 L225.2,283.5 L225.7,283.5 L226.1,283.5 L226.6,283.5 L227.1,283.5 L227.6,283.5 L228,283.5 L228.5,283.5 L229,283.5 L229.5,283.5 L229.9,283.5 L230.4,283.5 L230.9,283.5 L231.4,283.4 L231.8,283.4 L232.3,283.4 L232.8,283.4 L233.3,283.4 L233.7,283.4 L234.2,283.3 L234.7,283.3 L235.2,283.3 L235.7,283.2 L236.1,283.2 L236.6,283.1 L237.1,283.1 L237.6,283 L238,282.9 L238.5,282.8 L239,282.7 L239.5,282.6 L239.9,282.4 L240.4,282.3 L240.9,282.1 L241.4,281.9 L241.8,281.6 L242.3,281.4 L242.8,281.1 L243.3,280.8 L243.7,280.4 L244.2,280 L244.7,279.5 L245.2,279 L245.6,278.5 L246.1,277.8 L246.6,277.2 L247.1,276.4 L247.5,275.6 L248,274.8 L248.5,273.8 L249,272.8 L249.4,271.7 L249.9,270.5 L250.4,269.2 L250.9,267.9 L251.3,266.4 L251.8,264.9 L252.3,263.3 L252.8,261.6 L253.3,259.7 L253.7,257.9 L254.2,255.9 L254.7,253.8 L255.2,251.7 L255.6,249.5 L256.1,247.2 L256.6,244.9 L257.1,242.5 L257.5,240.1 L258,237.6 L258.5,235.1 L259,232.6 L259.4,230.1 L259.9,227.6 L260.4,225.1 L260.9,222.7 L261.3,220.3 L261.8,218 L262.3,215.7 L262.8,213.5 L263.2,211.5 L263.7,209.5 L264.2,207.7 L264.7,206 L265.1,204.5 L265.6,203.1 L266.1,201.9 L266.6,200.9 L267,200.1 L267.5,199.4 L268,199 L268.5,198.7 L269,198.7 L269.4,198.9 L269.9,199.2 L270.4,199.7 L270.9,200.4 L271.3,201.3 L271.8,202.3 L272.3,203.5 L272.8,204.8 L273.2,206.2 L273.7,207.8 L274.2,209.4 L274.7,211.2 L275.1,213 L275.6,214.8 L276.1,216.8 L276.6,218.7 L277,220.7 L277.5,222.7 L278,224.8 L278.5,226.8 L278.9,228.9 L279.4,230.9 L279.9,232.9 L280.4,234.9 L280.8,236.9 L281.3,238.8 L281.8,240.7 L282.3,242.6 L282.7,244.4 L283.2,246.2 L283.7,247.9 L284.2,249.6 L284.7,251.2 L285.1,252.7 L285.6,254.2 L286.1,255.7 L286.6,257.1 L287,258.4 L287.5,259.7 L288,260.9 L288.5,262 L288.9,263.1 L289.4,264.2 L289.9,265.2 L290.4,266.1 L290.8,267 L291.3,267.9 L291.8,268.7 L292.3,269.4 L292.7,270.2 L293.2,270.8 L293.7,271.5 L294.2,272.1 L294.6,272.7 L295.1,273.2 L295.6,273.7 L296.1,274.2 L296.5,274.6 L297,275.1 L297.5,275.5 L298,275.8 L298.4,276.2 L298.9,276.5 L299.4,276.8 L299.9,277.1 L300.4,277.4 L300.8,277.7 L301.3,277.9 L301.8,278.2 L302.3,278.4 L302.7,278.6 L303.2,278.8 L303.7,278.9 L304.2,279.1 L304.6,279.3 L305.1,279.4 L305.6,279.6 L306.1,279.7 L306.5,279.8 L307,279.9 L307.5,280 L308,280.1 L308.4,280.2 L308.9,280.3 L309.4,280.4 L309.9,280.5 L310.3,280.5 L310.8,280.6 L311.3,280.7 L311.8,280.7 L312.2,280.8 L312.7,280.8 L313.2,280.9 L313.7,280.9 L314.1,281 L314.6,281 L315.1,281 L315.6,281.1 L316.1,281.1 L316.5,281.1 L317,281.1 L317.5,281.2 L318,281.2 L318.4,281.2 L318.9,281.2 L319.4,281.3 L319.9,281.3 L320.3,281.3 L320.8,281.3 L321.3,281.3 L321.8,281.3 L322.2,281.3 L322.7,281.3 L323.2,281.4 L323.7,281.4 L324.1,281.4 L324.6,281.4 L325.1,281.4 L325.6,281.4 L326,281.4 L326.5,281.4 L327,281.4 L327.5,281.4 L327.9,281.4 L328.4,281.4 L328.9,281.4 L329.4,281.4 L329.8,281.4 L330.3,281.5 L330.8,281.5" fill="none" stroke="#1a1a8a" stroke-width="2.7" stroke-linejoin="round" stroke-linecap="round"/>
<path d="M217.1,283.5 L217.6,283.5 L218,283.4 L218.5,283.4 L219,283.4 L219.5,283.4 L220,283.4 L220.4,283.3 L220.9,283.3 L221.4,283.2 L221.9,283.2 L222.3,283.1 L222.8,283 L223.3,282.9 L223.8,282.8 L224.2,282.7 L224.7,282.5 L225.2,282.3 L225.7,282.1 L226.1,281.9 L226.6,281.6 L227.1,281.2 L227.6,280.9 L228,280.4 L228.5,279.9 L229,279.3 L229.5,278.7 L229.9,278 L230.4,277.2 L230.9,276.3 L231.4,275.3 L231.8,274.2 L232.3,273 L232.8,271.7 L233.3,270.3 L233.7,268.7 L234.2,267.1 L234.7,265.3 L235.2,263.4 L235.7,261.4 L236.1,259.3 L236.6,257.1 L237.1,254.8 L237.6,252.4 L238,249.9 L238.5,247.4 L239,244.8 L239.5,242.1 L239.9,239.5 L240.4,236.9 L240.9,234.3 L241.4,231.7 L241.8,229.3 L242.3,226.9 L242.8,224.6 L243.3,222.5 L243.7,220.5 L244.2,218.7 L244.7,217.1 L245.2,215.7 L245.6,214.5 L246.1,213.6 L246.6,212.9 L247.1,212.5 L247.5,212.3 L248,212.4 L248.5,212.7 L249,213.2 L249.4,213.9 L249.9,214.8 L250.4,215.8 L250.9,217 L251.3,218.3 L251.8,219.7 L252.3,221.2 L252.8,222.8 L253.3,224.4 L253.7,226.1 L254.2,227.8 L254.7,229.6 L255.2,231.3 L255.6,233.1 L256.1,234.9 L256.6,236.6 L257.1,238.4 L257.5,240.1 L258,241.8 L258.5,243.5 L259,245.1 L259.4,246.7 L259.9,248.2 L260.4,249.7 L260.9,251.2 L261.3,252.6 L261.8,254 L262.3,255.3 L262.8,256.6 L263.2,257.8 L263.7,259 L264.2,260.1 L264.7,261.2 L265.1,262.3 L265.6,263.3 L266.1,264.2 L266.6,265.2 L267,266 L267.5,266.9 L268,267.7 L268.5,268.4 L269,269.2 L269.4,269.9 L269.9,270.5 L270.4,271.2 L270.9,271.8 L271.3,272.3 L271.8,272.9 L272.3,273.4 L272.8,273.9 L273.2,274.4 L273.7,274.8 L274.2,275.2 L274.7,275.6 L275.1,276 L275.6,276.4 L276.1,276.7 L276.6,277 L277,277.4 L277.5,277.7 L278,277.9 L278.5,278.2 L278.9,278.5 L279.4,278.7 L279.9,278.9 L280.4,279.1 L280.8,279.3 L281.3,279.5 L281.8,279.7 L282.3,279.9 L282.7,280.1 L283.2,280.2 L283.7,280.4 L284.2,280.5 L284.7,280.7 L285.1,280.8 L285.6,280.9 L286.1,281 L286.6,281.1 L287,281.3 L287.5,281.4 L288,281.5 L288.5,281.5 L288.9,281.6 L289.4,281.7 L289.9,281.8 L290.4,281.9 L290.8,281.9 L291.3,282 L291.8,282.1 L292.3,282.1 L292.7,282.2 L293.2,282.2 L293.7,282.3 L294.2,282.3 L294.6,282.4 L295.1,282.4 L295.6,282.5 L296.1,282.5 L296.5,282.6 L297,282.6 L297.5,282.6 L298,282.7 L298.4,282.7 L298.9,282.7 L299.4,282.8 L299.9,282.8 L300.4,282.8 L300.8,282.9 L301.3,282.9 L301.8,282.9 L302.3,282.9 L302.7,283 L303.2,283 L303.7,283 L304.2,283 L304.6,283 L305.1,283 L305.6,283.1 L306.1,283.1 L306.5,283.1 L307,283.1 L307.5,283.1 L308,283.1 L308.4,283.2 L308.9,283.2 L309.4,283.2 L309.9,283.2 L310.3,283.2 L310.8,283.2 L311.3,283.2 L311.8,283.2 L312.2,283.2 L312.7,283.3 L313.2,283.3 L313.7,283.3 L314.1,283.3 L314.6,283.3 L315.1,283.3 L315.6,283.3 L316.1,283.3 L316.5,283.3 L317,283.3 L317.5,283.3 L318,283.3 L318.4,283.3 L318.9,283.3 L319.4,283.3 L319.9,283.4 L320.3,283.4 L320.8,283.4 L321.3,283.4 L321.8,283.4 L322.2,283.4 L322.7,283.4 L323.2,283.4 L323.7,283.4 L324.1,283.4 L324.6,283.4 L325.1,283.4 L325.6,283.4 L326,283.4 L326.5,283.4 L327,283.4 L327.5,283.4 L327.9,283.4 L328.4,283.4 L328.9,283.4 L329.4,283.4 L329.8,283.4 L330.3,283.4 L330.8,283.4" fill="none" stroke="#ec1c24" stroke-width="2.7" stroke-linejoin="round" stroke-linecap="round"/>
<path d="M217.1,281.5 L217.6,281 L218,280.5 L218.5,279.9 L219,279.1 L219.5,278.3 L220,277.3 L220.4,276.2 L220.9,274.9 L221.4,273.5 L221.9,271.9 L222.3,270.1 L222.8,268.1 L223.3,266 L223.8,263.7 L224.2,261.2 L224.7,258.6 L225.2,255.8 L225.7,252.9 L226.1,250 L226.6,246.9 L227.1,243.8 L227.6,240.7 L228,237.6 L228.5,234.7 L229,231.8 L229.5,229.1 L229.9,226.6 L230.4,224.4 L230.9,222.4 L231.4,220.8 L231.8,219.5 L232.3,218.6 L232.8,218 L233.3,217.9 L233.7,218.2 L234.2,218.9 L234.7,219.9 L235.2,221.3 L235.7,223 L236.1,224.9 L236.6,227.1 L237.1,229.4 L237.6,231.9 L238,234.4 L238.5,237 L239,239.7 L239.5,242.3 L239.9,244.9 L240.4,247.5 L240.9,250 L241.4,252.4 L241.8,254.8 L242.3,257 L242.8,259.1 L243.3,261.1 L243.7,263 L244.2,264.8 L244.7,266.4 L245.2,267.9 L245.6,269.4 L246.1,270.7 L246.6,271.9 L247.1,273 L247.5,274 L248,275 L248.5,275.8 L249,276.6 L249.4,277.3 L249.9,277.9 L250.4,278.5 L250.9,279 L251.3,279.5 L251.8,279.9 L252.3,280.3 L252.8,280.7 L253.3,281 L253.7,281.2 L254.2,281.5 L254.7,281.7 L255.2,281.9 L255.6,282.1 L256.1,282.2 L256.6,282.4 L257.1,282.5 L257.5,282.6 L258,282.7 L258.5,282.8 L259,282.9 L259.4,283 L259.9,283 L260.4,283.1 L260.9,283.1 L261.3,283.2 L261.8,283.2 L262.3,283.2 L262.8,283.3 L263.2,283.3 L263.7,283.3 L264.2,283.3 L264.7,283.4 L265.1,283.4 L265.6,283.4 L266.1,283.4 L266.6,283.4 L267,283.4 L267.5,283.4 L268,283.4 L268.5,283.4 L269,283.5 L269.4,283.5 L269.9,283.5 L270.4,283.5 L270.9,283.5 L271.3,283.5 L271.8,283.5 L272.3,283.5 L272.8,283.5 L273.2,283.5 L273.7,283.5 L274.2,283.5 L274.7,283.5 L275.1,283.5 L275.6,283.5 L276.1,283.5 L276.6,283.5 L277,283.5 L277.5,283.5 L278,283.5 L278.5,283.5 L278.9,283.5 L279.4,283.5 L279.9,283.5 L280.4,283.5 L280.8,283.5 L281.3,283.5 L281.8,283.5 L282.3,283.5 L282.7,283.5 L283.2,283.5 L283.7,283.5 L284.2,283.5 L284.7,283.5 L285.1,283.5 L285.6,283.5 L286.1,283.5 L286.6,283.5 L287,283.5 L287.5,283.5 L288,283.5 L288.5,283.5 L288.9,283.5 L289.4,283.5 L289.9,283.5 L290.4,283.5 L290.8,283.5 L291.3,283.5 L291.8,283.5 L292.3,283.5 L292.7,283.5 L293.2,283.5 L293.7,283.5 L294.2,283.5 L294.6,283.5 L295.1,283.5 L295.6,283.5 L296.1,283.5 L296.5,283.5 L297,283.5 L297.5,283.5 L298,283.5 L298.4,283.5 L298.9,283.5 L299.4,283.5 L299.9,283.5 L300.4,283.5 L300.8,283.5 L301.3,283.5 L301.8,283.5 L302.3,283.5 L302.7,283.5 L303.2,283.5 L303.7,283.5 L304.2,283.5 L304.6,283.5 L305.1,283.5 L305.6,283.5 L306.1,283.5 L306.5,283.5 L307,283.5 L307.5,283.5 L308,283.5 L308.4,283.5 L308.9,283.5 L309.4,283.5 L309.9,283.5 L310.3,283.5 L310.8,283.5 L311.3,283.5 L311.8,283.5 L312.2,283.5 L312.7,283.5 L313.2,283.5 L313.7,283.5 L314.1,283.5 L314.6,283.5 L315.1,283.5 L315.6,283.5 L316.1,283.5 L316.5,283.5 L317,283.5 L317.5,283.5 L318,283.5 L318.4,283.5 L318.9,283.5 L319.4,283.5 L319.9,283.5 L320.3,283.5 L320.8,283.5 L321.3,283.5 L321.8,283.5 L322.2,283.5 L322.7,283.5 L323.2,283.5 L323.7,283.5 L324.1,283.5 L324.6,283.5 L325.1,283.5 L325.6,283.5 L326,283.5 L326.5,283.5 L327,283.5 L327.5,283.5 L327.9,283.5 L328.4,283.5 L328.9,283.5 L329.4,283.5 L329.8,283.5 L330.3,283.5 L330.8,283.5" fill="none" stroke="#0a0a0a" stroke-width="2.7" stroke-linejoin="round" stroke-linecap="round"/>
<path d="M208.8,163.3 V286.6 M208.2,285.6 H331.4" stroke="#111" stroke-width="1.35" fill="none"/>
<text x="205.2" y="287.7" font-family="'Liberation Serif','Times New Roman',serif" font-weight="bold" font-size="12" text-anchor="end">0</text>
<text x="205.2" y="247.7" font-family="'Liberation Serif','Times New Roman',serif" font-weight="bold" font-size="12" text-anchor="end">1</text>
<text x="205.2" y="207.7" font-family="'Liberation Serif','Times New Roman',serif" font-weight="bold" font-size="12" text-anchor="end">2</text>
<text x="205.2" y="167.7" font-family="'Liberation Serif','Times New Roman',serif" font-weight="bold" font-size="12" text-anchor="end">3</text>
<text x="209.1" y="299.6" font-family="'Liberation Serif','Times New Roman',serif" font-weight="bold" font-size="12" text-anchor="middle">0</text>
<text x="233.5" y="299.6" font-family="'Liberation Serif','Times New Roman',serif" font-weight="bold" font-size="12" text-anchor="middle">2</text>
<text x="257.9" y="299.6" font-family="'Liberation Serif','Times New Roman',serif" font-weight="bold" font-size="12" text-anchor="middle">4</text>
<text x="282.3" y="299.6" font-family="'Liberation Serif','Times New Roman',serif" font-weight="bold" font-size="12" text-anchor="middle">6</text>
<text x="306.7" y="299.6" font-family="'Liberation Serif','Times New Roman',serif" font-weight="bold" font-size="12" text-anchor="middle">8</text>
<text x="331.1" y="299.6" font-family="'Liberation Serif','Times New Roman',serif" font-weight="bold" font-size="12" text-anchor="middle">10</text>
<path d="M206.8,283.5 H208.8 M206.8,243.5 H208.8 M206.8,203.5 H208.8 M206.8,163.5 H208.8 M208.8,285.6 V288.6 M221,285.6 V288.6 M233.2,285.6 V288.6 M245.4,285.6 V288.6 M257.6,285.6 V288.6 M269.8,285.6 V288.6 M282,285.6 V288.6 M294.2,285.6 V288.6 M306.4,285.6 V288.6 M318.6,285.6 V288.6 M330.8,285.6 V288.6" stroke="#111" stroke-width="1.2" fill="none"/>
<text x="270.2" y="316.6" font-family="'Liberation Serif','Times New Roman',serif" font-weight="bold" font-size="11.5" text-anchor="middle">Diameter (&#956;m)</text>
<text x="0" y="0" font-family="'Liberation Serif','Times New Roman',serif" font-weight="bold" font-size="11.5" text-anchor="middle" transform="translate(192.2,212.9) rotate(-90)">Volume %</text>
<path d="M421.2,264 L421.6,263.3 L422,262.7 L422.3,262 L422.7,261.4 L423.1,260.8 L423.5,260.1 L423.9,259.5 L424.2,258.9 L424.6,258.3 L425,257.7 L425.4,257.2 L425.8,256.6 L426.1,256.1 L426.5,255.5 L426.9,255 L427.3,254.5 L427.7,253.9 L428.1,253.4 L428.4,252.8 L428.8,252.2 L429.2,251.6 L429.6,250.9 L430,250.3 L430.3,249.6 L430.7,248.8 L431.1,248.1 L431.5,247.2 L431.9,246.4 L432.2,245.5 L432.6,244.6 L433,243.7 L433.4,242.7 L433.8,241.7 L434.1,240.7 L434.5,239.7 L434.9,238.6 L435.3,237.5 L435.7,236.5 L436,235.4 L436.4,234.2 L436.8,233.1 L437.2,231.9 L437.6,230.7 L437.9,229.5 L438.3,228.2 L438.7,226.9 L439.1,225.5 L439.5,224.1 L439.8,222.7 L440.2,221.1 L440.6,219.6 L441,217.9 L441.4,216.3 L441.8,214.6 L442.1,212.9 L442.5,211.2 L442.9,209.5 L443.3,207.9 L443.7,206.2 L444,204.6 L444.4,203 L444.8,201.5 L445.2,200 L445.6,198.6 L445.9,197.3 L446.3,196 L446.7,194.8 L447.1,193.7 L447.5,192.6 L447.8,191.6 L448.2,190.8 L448.6,190 L449,189.2 L449.4,188.6 L449.7,188.1 L450.1,187.6 L450.5,187.2 L450.9,186.9 L451.3,186.6 L451.6,186.5 L452,186.4 L452.4,186.4 L452.8,186.5 L453.2,186.6 L453.6,186.9 L453.9,187.3 L454.3,187.7 L454.7,188.3 L455.1,189 L455.5,189.8 L455.8,190.8 L456.2,191.8 L456.6,193.1 L457,194.4 L457.4,196 L457.7,197.7 L458.1,199.5 L458.5,201.4 L458.9,203.5 L459.3,205.6 L459.6,207.8 L460,210 L460.4,212.3 L460.8,214.6 L461.2,216.9 L461.5,219.3 L461.9,221.6 L462.3,223.8 L462.7,226.1 L463.1,228.4 L463.4,230.6 L463.8,232.9 L464.2,235.1 L464.6,237.4 L465,239.7 L465.3,242 L465.7,244.3 L466.1,246.6 L466.5,248.8 L466.9,250.9 L467.3,253 L467.6,255 L468,257 L468.4,258.9 L468.8,260.7 L469.2,262.4 L469.5,264.1 L469.9,265.7 L470.3,267.2 L470.7,268.7 L471.1,270.1 L471.4,271.4 L471.8,272.7 L472.2,273.9 L472.6,275.1 L473,276.1 L473.3,277.1 L473.7,278 L474.1,278.7 L474.5,279.4 L474.9,280 L475.2,280.5 L475.6,280.9 L476,281.2 L476.4,281.5 L476.8,281.7 L477.1,282 L477.5,282.2 L477.9,282.3 L478.3,282.5 L478.7,282.7 L479.1,282.8 L479.4,283 L479.8,283.1 L480.2,283.3 L480.6,283.4 L481,283.5 L481.3,283.6 L481.7,283.7 L482.1,283.8 L482.5,283.9 L482.9,284 L483.2,284 L483.6,284.1 L484,284.2 L484.4,284.2 L484.8,284.3 L485.1,284.3 L485.5,284.3 L485.9,284.4 L486.3,284.4 L486.7,284.4 L487,284.4 L487.4,284.4 L487.8,284.4 L488.2,284.4 L488.6,284.4 L488.9,284.4 L489.3,284.4 L489.7,284.4 L490.1,284.4 L490.5,284.4 L490.9,284.4 L491.2,284.4 L491.6,284.4 L492,284.4 L492.4,284.4 L492.8,284.4 L493.1,284.4 L493.5,284.4 L493.9,284.4 L494.3,284.4 L494.7,284.4 L495,284.4 L495.4,284.4 L495.8,284.4 L496.2,284.4 L496.6,284.4 L496.9,284.4 L497.3,284.4 L497.7,284.4 L498.1,284.4 L498.5,284.4 L498.8,284.4 L499.2,284.4 L499.6,284.4 L500,284.4 L500.4,284.4 L500.7,284.4 L501.1,284.4 L501.5,284.4 L501.9,284.4 L502.3,284.4 L502.6,284.4 L503,284.4 L503.4,284.4 L503.8,284.4 L504.2,284.4 L504.6,284.4 L504.9,284.4 L505.3,284.4 L505.7,284.4 L506.1,284.4 L506.5,284.4 L506.8,284.4 L507.2,284.4 L507.6,284.4 L508,284.4 L508.4,284.4 L508.7,284.4 L509.1,284.4 L509.5,284.4 L509.9,284.4 L510.3,284.4 L510.6,284.4 L511,284.4 L511.4,284.4 L511.8,284.4 L512.2,284.4 L512.5,284.4 L512.9,284.4 L513.3,284.4 L513.7,284.4 L514.1,284.4 L514.4,284.4 L514.8,284.4 L515.2,284.4 L515.6,284.4 L516,284.4 L516.4,284.4 L516.7,284.4 L517.1,284.4 L517.5,284.4 L517.9,284.4 L518.3,284.4 L518.6,284.4 L519,284.4 L519.4,284.4 L519.8,284.4 L520.2,284.4 L520.5,284.4 L520.9,284.4 L521.3,284.4 L521.7,284.4 L522.1,284.4 L522.4,284.4 L522.8,284.4 L523.2,284.4 L523.6,284.4 L524,284.4 L524.3,284.4 L524.7,284.4 L525.1,284.4 L525.5,284.4 L525.9,284.4 L526.2,284.4 L526.6,284.4 L527,284.4 L527.4,284.4 L527.8,284.4 L528.1,284.4 L528.5,284.4 L528.9,284.4 L529.3,284.4 L529.7,284.4 L530.1,284.4 L530.4,284.4 L530.8,284.4 L531.2,284.4 L531.6,284.4 L532,284.4 L532.3,284.4 L532.7,284.4 L533.1,284.4 L533.5,284.4 L533.9,284.4 L534.2,284.4 L534.6,284.4 L535,284.4 L535,285 L421.2,285 Z" fill="#c1c1c1"/>
<path d="M421.2,280.5 L421.6,280.6 L422,280.8 L422.3,280.9 L422.7,281 L423.1,281.1 L423.5,281.2 L423.9,281.4 L424.2,281.5 L424.6,281.6 L425,281.7 L425.4,281.8 L425.8,281.9 L426.1,282 L426.5,282.1 L426.9,282.1 L427.3,282.2 L427.7,282.3 L428.1,282.3 L428.4,282.4 L428.8,282.4 L429.2,282.4 L429.6,282.5 L430,282.5 L430.3,282.5 L430.7,282.5 L431.1,282.5 L431.5,282.5 L431.9,282.5 L432.2,282.5 L432.6,282.5 L433,282.5 L433.4,282.4 L433.8,282.4 L434.1,282.4 L434.5,282.4 L434.9,282.3 L435.3,282.3 L435.7,282.3 L436,282.2 L436.4,282.2 L436.8,282.2 L437.2,282.1 L437.6,282.1 L437.9,282 L438.3,282 L438.7,281.9 L439.1,281.9 L439.5,281.8 L439.8,281.7 L440.2,281.7 L440.6,281.6 L441,281.5 L441.4,281.4 L441.8,281.3 L442.1,281.2 L442.5,281.1 L442.9,281 L443.3,280.9 L443.7,280.8 L444,280.7 L444.4,280.6 L444.8,280.4 L445.2,280.3 L445.6,280.2 L445.9,280.1 L446.3,279.9 L446.7,279.8 L447.1,279.7 L447.5,279.5 L447.8,279.4 L448.2,279.2 L448.6,279.1 L449,278.9 L449.4,278.7 L449.7,278.6 L450.1,278.4 L450.5,278.2 L450.9,278 L451.3,277.8 L451.6,277.6 L452,277.4 L452.4,277.1 L452.8,276.9 L453.2,276.7 L453.6,276.4 L453.9,276.1 L454.3,275.8 L454.7,275.5 L455.1,275.2 L455.5,274.9 L455.8,274.6 L456.2,274.2 L456.6,273.9 L457,273.5 L457.4,273.1 L457.7,272.7 L458.1,272.2 L458.5,271.8 L458.9,271.3 L459.3,270.8 L459.6,270.3 L460,269.8 L460.4,269.2 L460.8,268.6 L461.2,268 L461.5,267.4 L461.9,266.8 L462.3,266.1 L462.7,265.4 L463.1,264.7 L463.4,264 L463.8,263.2 L464.2,262.5 L464.6,261.7 L465,260.9 L465.3,260.1 L465.7,259.3 L466.1,258.5 L466.5,257.6 L466.9,256.8 L467.3,255.9 L467.6,255.1 L468,254.2 L468.4,253.4 L468.8,252.6 L469.2,251.7 L469.5,250.9 L469.9,250.2 L470.3,249.4 L470.7,248.7 L471.1,247.9 L471.4,247.3 L471.8,246.6 L472.2,246 L472.6,245.4 L473,244.8 L473.3,244.3 L473.7,243.9 L474.1,243.5 L474.5,243.2 L474.9,242.9 L475.2,242.7 L475.6,242.6 L476,242.6 L476.4,242.7 L476.8,242.9 L477.1,243.1 L477.5,243.4 L477.9,243.8 L478.3,244.3 L478.7,244.8 L479.1,245.5 L479.4,246.2 L479.8,246.9 L480.2,247.8 L480.6,248.7 L481,249.6 L481.3,250.6 L481.7,251.5 L482.1,252.6 L482.5,253.6 L482.9,254.6 L483.2,255.7 L483.6,256.7 L484,257.8 L484.4,258.9 L484.8,259.9 L485.1,261 L485.5,262 L485.9,263.1 L486.3,264.2 L486.7,265.2 L487,266.3 L487.4,267.3 L487.8,268.3 L488.2,269.3 L488.6,270.3 L488.9,271.3 L489.3,272.2 L489.7,273.1 L490.1,273.9 L490.5,274.8 L490.9,275.5 L491.2,276.3 L491.6,277 L492,277.6 L492.4,278.2 L492.8,278.7 L493.1,279.3 L493.5,279.7 L493.9,280.1 L494.3,280.5 L494.7,280.8 L495,281.1 L495.4,281.3 L495.8,281.6 L496.2,281.8 L496.6,282 L496.9,282.1 L497.3,282.3 L497.7,282.4 L498.1,282.5 L498.5,282.7 L498.8,282.8 L499.2,282.9 L499.6,283 L500,283.1 L500.4,283.2 L500.7,283.3 L501.1,283.4 L501.5,283.4 L501.9,283.5 L502.3,283.6 L502.6,283.7 L503,283.7 L503.4,283.8 L503.8,283.9 L504.2,283.9 L504.6,284 L504.9,284 L505.3,284.1 L505.7,284.1 L506.1,284.2 L506.5,284.2 L506.8,284.2 L507.2,284.3 L507.6,284.3 L508,284.3 L508.4,284.4 L508.7,284.4 L509.1,284.4 L509.5,284.4 L509.9,284.4 L510.3,284.4 L510.6,284.4 L511,284.4 L511.4,284.4 L511.8,284.4 L512.2,284.4 L512.5,284.4 L512.9,284.4 L513.3,284.4 L513.7,284.4 L514.1,284.4 L514.4,284.4 L514.8,284.4 L515.2,284.4 L515.6,284.4 L516,284.4 L516.4,284.4 L516.7,284.4 L517.1,284.4 L517.5,284.4 L517.9,284.4 L518.3,284.4 L518.6,284.4 L519,284.4 L519.4,284.4 L519.8,284.4 L520.2,284.4 L520.5,284.4 L520.9,284.4 L521.3,284.4 L521.7,284.4 L522.1,284.4 L522.4,284.4 L522.8,284.4 L523.2,284.4 L523.6,284.4 L524,284.4 L524.3,284.4 L524.7,284.4 L525.1,284.4 L525.5,284.4 L525.9,284.4 L526.2,284.4 L526.6,284.4 L527,284.4 L527.4,284.4 L527.8,284.4 L528.1,284.4 L528.5,284.4 L528.9,284.4 L529.3,284.4 L529.7,284.4 L530.1,284.4 L530.4,284.4 L530.8,284.4 L531.2,284.4 L531.6,284.4 L532,284.4 L532.3,284.4 L532.7,284.4 L533.1,284.4 L533.5,284.4 L533.9,284.4 L534.2,284.4 L534.6,284.4 L535,284.4 L535,285 L421.2,285 Z" fill="#f7a8a8" fill-opacity="0.55"/>
<path d="M421.2,284.3 L421.6,284.3 L422,284.3 L422.3,284.4 L422.7,284.4 L423.1,284.4 L423.5,284.4 L423.9,284.4 L424.2,284.4 L424.6,284.4 L425,284.4 L425.4,284.4 L425.8,284.4 L426.1,284.4 L426.5,284.4 L426.9,284.4 L427.3,284.4 L427.7,284.4 L428.1,284.4 L428.4,284.4 L428.8,284.4 L429.2,284.4 L429.6,284.4 L430,284.4 L430.3,284.4 L430.7,284.4 L431.1,284.4 L431.5,284.4 L431.9,284.4 L432.2,284.4 L432.6,284.4 L433,284.4 L433.4,284.4 L433.8,284.4 L434.1,284.4 L434.5,284.4 L434.9,284.4 L435.3,284.4 L435.7,284.4 L436,284.4 L436.4,284.4 L436.8,284.4 L437.2,284.4 L437.6,284.4 L437.9,284.4 L438.3,284.4 L438.7,284.4 L439.1,284.4 L439.5,284.4 L439.8,284.4 L440.2,284.4 L440.6,284.4 L441,284.4 L441.4,284.4 L441.8,284.4 L442.1,284.4 L442.5,284.4 L442.9,284.4 L443.3,284.4 L443.7,284.4 L444,284.4 L444.4,284.4 L444.8,284.4 L445.2,284.4 L445.6,284.4 L445.9,284.4 L446.3,284.4 L446.7,284.4 L447.1,284.4 L447.5,284.4 L447.8,284.4 L448.2,284.4 L448.6,284.4 L449,284.4 L449.4,284.4 L449.7,284.4 L450.1,284.4 L450.5,284.4 L450.9,284.4 L451.3,284.4 L451.6,284.4 L452,284.4 L452.4,284.4 L452.8,284.4 L453.2,284.4 L453.6,284.4 L453.9,284.4 L454.3,284.4 L454.7,284.4 L455.1,284.4 L455.5,284.4 L455.8,284.4 L456.2,284.4 L456.6,284.3 L457,284.3 L457.4,284.3 L457.7,284.2 L458.1,284.2 L458.5,284.2 L458.9,284.1 L459.3,284.1 L459.6,284 L460,284 L460.4,284 L460.8,283.9 L461.2,283.9 L461.5,283.9 L461.9,283.8 L462.3,283.8 L462.7,283.8 L463.1,283.7 L463.4,283.7 L463.8,283.6 L464.2,283.6 L464.6,283.6 L465,283.5 L465.3,283.4 L465.7,283.4 L466.1,283.3 L466.5,283.2 L466.9,283.1 L467.3,283 L467.6,282.9 L468,282.8 L468.4,282.6 L468.8,282.5 L469.2,282.3 L469.5,282.1 L469.9,281.9 L470.3,281.7 L470.7,281.4 L471.1,281.2 L471.4,280.9 L471.8,280.6 L472.2,280.3 L472.6,280 L473,279.7 L473.3,279.4 L473.7,279.1 L474.1,278.8 L474.5,278.4 L474.9,278.1 L475.2,277.7 L475.6,277.4 L476,277 L476.4,276.6 L476.8,276.3 L477.1,275.9 L477.5,275.5 L477.9,275.2 L478.3,274.8 L478.7,274.4 L479.1,274 L479.4,273.6 L479.8,273.2 L480.2,272.7 L480.6,272.3 L481,271.8 L481.3,271.4 L481.7,270.9 L482.1,270.4 L482.5,269.9 L482.9,269.4 L483.2,268.9 L483.6,268.4 L484,267.9 L484.4,267.4 L484.8,266.8 L485.1,266.3 L485.5,265.8 L485.9,265.3 L486.3,264.9 L486.7,264.4 L487,263.9 L487.4,263.5 L487.8,263 L488.2,262.6 L488.6,262.2 L488.9,261.9 L489.3,261.5 L489.7,261.2 L490.1,260.9 L490.5,260.6 L490.9,260.4 L491.2,260.2 L491.6,260 L492,259.9 L492.4,259.8 L492.8,259.7 L493.1,259.7 L493.5,259.7 L493.9,259.8 L494.3,259.9 L494.7,260 L495,260.2 L495.4,260.5 L495.8,260.9 L496.2,261.3 L496.6,261.8 L496.9,262.3 L497.3,263 L497.7,263.6 L498.1,264.3 L498.5,265.1 L498.8,265.9 L499.2,266.7 L499.6,267.5 L500,268.3 L500.4,269.2 L500.7,270 L501.1,270.9 L501.5,271.7 L501.9,272.6 L502.3,273.4 L502.6,274.3 L503,275.1 L503.4,275.8 L503.8,276.6 L504.2,277.3 L504.6,278 L504.9,278.6 L505.3,279.2 L505.7,279.7 L506.1,280.2 L506.5,280.7 L506.8,281.1 L507.2,281.4 L507.6,281.7 L508,282 L508.4,282.2 L508.7,282.4 L509.1,282.5 L509.5,282.7 L509.9,282.8 L510.3,282.9 L510.6,283 L511,283 L511.4,283.1 L511.8,283.2 L512.2,283.2 L512.5,283.3 L512.9,283.4 L513.3,283.4 L513.7,283.5 L514.1,283.6 L514.4,283.6 L514.8,283.7 L515.2,283.8 L515.6,283.9 L516,283.9 L516.4,284 L516.7,284.1 L517.1,284.1 L517.5,284.2 L517.9,284.3 L518.3,284.3 L518.6,284.4 L519,284.4 L519.4,284.4 L519.8,284.4 L520.2,284.4 L520.5,284.4 L520.9,284.4 L521.3,284.4 L521.7,284.4 L522.1,284.4 L522.4,284.4 L522.8,284.4 L523.2,284.4 L523.6,284.4 L524,284.4 L524.3,284.4 L524.7,284.4 L525.1,284.4 L525.5,284.4 L525.9,284.4 L526.2,284.4 L526.6,284.4 L527,284.4 L527.4,284.4 L527.8,284.4 L528.1,284.4 L528.5,284.4 L528.9,284.4 L529.3,284.4 L529.7,284.4 L530.1,284.4 L530.4,284.4 L530.8,284.4 L531.2,284.4 L531.6,284.4 L532,284.4 L532.3,284.4 L532.7,284.4 L533.1,284.4 L533.5,284.4 L533.9,284.4 L534.2,284.4 L534.6,284.4 L535,284.4 L535,285 L421.2,285 Z" fill="#9fa6ee" fill-opacity="0.5"/>
<path d="M421.2,249 L421.6,248.3 L422,247.6 L422.3,247 L422.7,246.3 L423.1,245.7 L423.5,245 L423.9,244.4 L424.2,243.7 L424.6,243.1 L425,242.5 L425.4,241.9 L425.8,241.4 L426.1,240.8 L426.5,240.2 L426.9,239.7 L427.3,239.1 L427.7,238.6 L428.1,238 L428.4,237.4 L428.8,236.8 L429.2,236.1 L429.6,235.5 L430,234.8 L430.3,234.1 L430.7,233.3 L431.1,232.5 L431.5,231.7 L431.9,230.8 L432.2,229.9 L432.6,229 L433,228 L433.4,227.1 L433.8,226 L434.1,225 L434.5,224 L434.9,222.9 L435.3,221.8 L435.7,220.7 L436,219.6 L436.4,218.4 L436.8,217.3 L437.2,216.1 L437.6,214.9 L437.9,213.6 L438.3,212.3 L438.7,211 L439.1,209.6 L439.5,208.2 L439.8,206.7 L440.2,205.1 L440.6,203.4 L441,201.7 L441.4,200 L441.8,198.3 L442.1,196.5 L442.5,194.7 L442.9,192.9 L443.3,191.2 L443.7,189.5 L444,187.8 L444.4,186.2 L444.8,184.6 L445.2,183 L445.6,181.5 L445.9,180.1 L446.3,178.7 L446.7,177.5 L447.1,176.3 L447.5,175.1 L447.8,174.1 L448.2,173.1 L448.6,172.2 L449,171.4 L449.4,170.7 L449.7,170.1 L450.1,169.7 L450.5,169.5 L450.9,169.4 L451.3,169.4 L451.6,169.5 L452,169.6 L452.4,169.8 L452.8,170.1 L453.2,170.5 L453.6,171 L453.9,171.6 L454.3,172.3 L454.7,173.1 L455.1,174.1 L455.5,175.3 L455.8,176.6 L456.2,178 L456.6,179.6 L457,181.4 L457.4,183.3 L457.7,185.4 L458.1,187.6 L458.5,189.9 L458.9,192.3 L459.3,194.8 L459.6,197.4 L460,200 L460.4,202.7 L460.8,205.4 L461.2,208.1 L461.5,210.8 L461.9,213.5 L462.3,216 L462.7,218.4 L463.1,220.9 L463.4,223.3 L463.8,225.8 L464.2,228.2 L464.6,230.7 L465,233.2 L465.3,235.7 L465.7,238.2 L466.1,240.6 L466.5,243 L466.9,245.4 L467.3,247.7 L467.6,249.9 L468,252 L468.4,254.1 L468.8,256.1 L469.2,258 L469.5,259.9 L469.9,261.7 L470.3,263.3 L470.7,264.9 L471.1,266.4 L471.4,267.9 L471.8,269.3 L472.2,270.6 L472.6,271.8 L473,273 L473.3,274.1 L473.7,275.1 L474.1,276 L474.5,276.7 L474.9,277.4 L475.2,278 L475.6,278.5 L476,279 L476.4,279.4 L476.8,279.8 L477.1,280.1 L477.5,280.4 L477.9,280.7 L478.3,281 L478.7,281.3 L479.1,281.6 L479.4,281.8 L479.8,282.1 L480.2,282.3 L480.6,282.4 L481,282.5 L481.3,282.6 L481.7,282.7 L482.1,282.8 L482.5,282.9 L482.9,283 L483.2,283.1 L483.6,283.1 L484,283.2 L484.4,283.3 L484.8,283.3 L485.1,283.4 L485.5,283.4 L485.9,283.5 L486.3,283.5 L486.7,283.5 L487,283.5 L487.4,283.5 L487.8,283.5 L488.2,283.5 L488.6,283.5 L488.9,283.5 L489.3,283.5 L489.7,283.5 L490.1,283.5 L490.5,283.5 L490.9,283.5 L491.2,283.5 L491.6,283.5 L492,283.6 L492.4,283.6 L492.8,283.6 L493.1,283.6 L493.5,283.6 L493.9,283.6 L494.3,283.6 L494.7,283.6 L495,283.6 L495.4,283.6 L495.8,283.6 L496.2,283.6 L496.6,283.6 L496.9,283.6 L497.3,283.6 L497.7,283.6 L498.1,283.6 L498.5,283.6 L498.8,283.6 L499.2,283.6 L499.6,283.6 L500,283.7 L500.4,283.7 L500.7,283.7 L501.1,283.7 L501.5,283.7 L501.9,283.7 L502.3,283.7 L502.6,283.7 L503,283.7 L503.4,283.7 L503.8,283.7 L504.2,283.7 L504.6,283.7 L504.9,283.7 L505.3,283.7 L505.7,283.7 L506.1,283.7 L506.5,283.7 L506.8,283.7 L507.2,283.7 L507.6,283.8 L508,283.8 L508.4,283.8 L508.7,283.8 L509.1,283.8 L509.5,283.8 L509.9,283.8 L510.3,283.8 L510.6,283.8 L511,283.8 L511.4,283.8 L511.8,283.8 L512.2,283.8 L512.5,283.8 L512.9,283.8 L513.3,283.8 L513.7,283.8 L514.1,283.8 L514.4,283.8 L514.8,283.8 L515.2,283.8 L515.6,283.9 L516,283.9 L516.4,283.9 L516.7,283.9 L517.1,283.9 L517.5,283.9 L517.9,283.9 L518.3,283.9 L518.6,283.9 L519,283.9 L519.4,283.9 L519.8,283.9 L520.2,283.9 L520.5,283.9 L520.9,283.9 L521.3,283.9 L521.7,283.9 L522.1,283.9 L522.4,283.9 L522.8,283.9 L523.2,283.9 L523.6,284 L524,284 L524.3,284 L524.7,284 L525.1,284 L525.5,284 L525.9,284 L526.2,284 L526.6,284 L527,284 L527.4,284 L527.8,284 L528.1,284 L528.5,284 L528.9,284 L529.3,284 L529.7,284 L530.1,284 L530.4,284 L530.8,284 L531.2,284.1 L531.6,284.1 L532,284.1 L532.3,284.1 L532.7,284.1 L533.1,284.1 L533.5,284.1 L533.9,284.1 L534.2,284.1 L534.6,284.1 L535,284.1 L535,284.7 L534.6,284.7 L534.2,284.7 L533.9,284.7 L533.5,284.7 L533.1,284.7 L532.7,284.7 L532.3,284.7 L532,284.7 L531.6,284.7 L531.2,284.7 L530.8,284.8 L530.4,284.8 L530.1,284.8 L529.7,284.8 L529.3,284.8 L528.9,284.8 L528.5,284.8 L528.1,284.8 L527.8,284.8 L527.4,284.8 L527,284.8 L526.6,284.8 L526.2,284.8 L525.9,284.8 L525.5,284.8 L525.1,284.8 L524.7,284.8 L524.3,284.8 L524,284.8 L523.6,284.8 L523.2,284.9 L522.8,284.9 L522.4,284.9 L522.1,284.9 L521.7,284.9 L521.3,284.9 L520.9,284.9 L520.5,284.9 L520.2,284.9 L519.8,284.9 L519.4,284.9 L519,284.9 L518.6,284.9 L518.3,284.9 L517.9,284.9 L517.5,284.9 L517.1,284.9 L516.7,284.9 L516.4,284.9 L516,284.9 L515.6,284.9 L515.2,285 L514.8,285 L514.4,285 L514.1,285 L513.7,285 L513.3,285 L512.9,285 L512.5,285 L512.2,285 L511.8,285 L511.4,285 L511,285 L510.6,285 L510.3,285 L509.9,285 L509.5,285 L509.1,285 L508.7,285 L508.4,285 L508,285 L507.6,285 L507.2,285.1 L506.8,285.1 L506.5,285.1 L506.1,285.1 L505.7,285.1 L505.3,285.1 L504.9,285.1 L504.6,285.1 L504.2,285.1 L503.8,285.1 L503.4,285.1 L503,285.1 L502.6,285.1 L502.3,285.1 L501.9,285.1 L501.5,285.1 L501.1,285.1 L500.7,285.1 L500.4,285.1 L500,285.1 L499.6,285.2 L499.2,285.2 L498.8,285.2 L498.5,285.2 L498.1,285.2 L497.7,285.2 L497.3,285.2 L496.9,285.2 L496.6,285.2 L496.2,285.2 L495.8,285.2 L495.4,285.2 L495,285.2 L494.7,285.2 L494.3,285.2 L493.9,285.2 L493.5,285.2 L493.1,285.2 L492.8,285.2 L492.4,285.2 L492,285.2 L491.6,285.3 L491.2,285.3 L490.9,285.3 L490.5,285.3 L490.1,285.3 L489.7,285.3 L489.3,285.3 L488.9,285.3 L488.6,285.3 L488.2,285.3 L487.8,285.3 L487.4,285.3 L487,285.3 L486.7,285.3 L486.3,285.3 L485.9,285.3 L485.5,285.3 L485.1,285.2 L484.8,285.2 L484.4,285.2 L484,285.1 L483.6,285.1 L483.2,285 L482.9,284.9 L482.5,284.8 L482.1,284.8 L481.7,284.7 L481.3,284.6 L481,284.5 L480.6,284.4 L480.2,284.3 L479.8,284.2 L479.4,284.2 L479.1,284.1 L478.7,284.1 L478.3,284 L477.9,284 L477.5,283.9 L477.1,283.8 L476.8,283.7 L476.4,283.6 L476,283.4 L475.6,283.2 L475.2,282.9 L474.9,282.5 L474.5,282.1 L474.1,281.5 L473.7,280.8 L473.3,280.1 L473,279.2 L472.6,278.3 L472.2,277.3 L471.8,276.2 L471.4,275 L471.1,273.8 L470.7,272.5 L470.3,271.1 L469.9,269.7 L469.5,268.3 L469.2,266.9 L468.8,265.3 L468.4,263.7 L468,262 L467.6,260.2 L467.3,258.4 L466.9,256.5 L466.5,254.5 L466.1,252.5 L465.7,250.5 L465.3,248.4 L465,246.3 L464.6,244.1 L464.2,242 L463.8,240 L463.4,237.9 L463.1,235.8 L462.7,233.8 L462.3,231.7 L461.9,229.6 L461.5,227.7 L461.2,225.8 L460.8,223.8 L460.4,221.9 L460,220 L459.6,218.1 L459.3,216.3 L458.9,214.6 L458.5,212.9 L458.1,211.4 L457.7,209.9 L457.4,208.6 L457,207.5 L456.6,206.5 L456.2,205.6 L455.8,204.9 L455.5,204.4 L455.1,203.9 L454.7,203.5 L454.3,203.2 L453.9,202.9 L453.6,202.8 L453.2,202.7 L452.8,202.8 L452.4,202.9 L452,203.2 L451.6,203.5 L451.3,203.9 L450.9,204.3 L450.5,204.9 L450.1,205.5 L449.7,206 L449.4,206.5 L449,207 L448.6,207.7 L448.2,208.4 L447.8,209.2 L447.5,210.1 L447.1,211.1 L446.7,212.1 L446.3,213.3 L445.9,214.5 L445.6,215.8 L445.2,217.1 L444.8,218.5 L444.4,219.9 L444,221.4 L443.7,222.9 L443.3,224.5 L442.9,226.1 L442.5,227.7 L442.1,229.3 L441.8,231 L441.4,232.6 L441,234.1 L440.6,235.7 L440.2,237.2 L439.8,238.7 L439.5,240.1 L439.1,241.5 L438.7,242.8 L438.3,244.1 L437.9,245.4 L437.6,246.6 L437.2,247.8 L436.8,248.9 L436.4,250 L436,251.1 L435.7,252.2 L435.3,253.3 L434.9,254.4 L434.5,255.4 L434.1,256.4 L433.8,257.4 L433.4,258.4 L433,259.3 L432.6,260.2 L432.2,261.1 L431.9,262 L431.5,262.8 L431.1,263.6 L430.7,264.3 L430.3,265.1 L430,265.7 L429.6,266.4 L429.2,267 L428.8,267.6 L428.4,268.2 L428.1,268.7 L427.7,269.3 L427.3,269.8 L426.9,270.3 L426.5,270.8 L426.1,271.3 L425.8,271.9 L425.4,272.4 L425,273 L424.6,273.5 L424.2,274.1 L423.9,274.7 L423.5,275.3 L423.1,275.9 L422.7,276.5 L422.3,277.1 L422,277.7 L421.6,278.4 L421.2,279 Z" fill="#4a4a4a" fill-opacity="0.66"/>
<path d="M421.2,279.5 L421.6,279.7 L422,279.8 L422.3,280 L422.7,280.1 L423.1,280.3 L423.5,280.4 L423.9,280.6 L424.2,280.7 L424.6,280.8 L425,281 L425.4,281.1 L425.8,281.2 L426.1,281.3 L426.5,281.4 L426.9,281.5 L427.3,281.6 L427.7,281.7 L428.1,281.7 L428.4,281.8 L428.8,281.8 L429.2,281.9 L429.6,281.9 L430,281.9 L430.3,282 L430.7,282 L431.1,282 L431.5,282 L431.9,282 L432.2,281.9 L432.6,281.9 L433,281.9 L433.4,281.9 L433.8,281.9 L434.1,281.8 L434.5,281.8 L434.9,281.8 L435.3,281.7 L435.7,281.7 L436,281.6 L436.4,281.6 L436.8,281.6 L437.2,281.5 L437.6,281.4 L437.9,281.4 L438.3,281.3 L438.7,281.2 L439.1,281.2 L439.5,281.1 L439.8,281 L440.2,280.9 L440.6,280.8 L441,280.7 L441.4,280.6 L441.8,280.5 L442.1,280.4 L442.5,280.3 L442.9,280.1 L443.3,280 L443.7,279.9 L444,279.7 L444.4,279.6 L444.8,279.4 L445.2,279.3 L445.6,279.1 L445.9,279 L446.3,278.8 L446.7,278.7 L447.1,278.5 L447.5,278.3 L447.8,278.1 L448.2,278 L448.6,277.8 L449,277.6 L449.4,277.4 L449.7,277.2 L450.1,276.9 L450.5,276.7 L450.9,276.5 L451.3,276.2 L451.6,276 L452,275.7 L452.4,275.4 L452.8,275.1 L453.2,274.8 L453.6,274.5 L453.9,274.2 L454.3,273.8 L454.7,273.5 L455.1,273.1 L455.5,272.7 L455.8,272.3 L456.2,271.8 L456.6,271.4 L457,270.9 L457.4,270.4 L457.7,269.9 L458.1,269.4 L458.5,268.9 L458.9,268.3 L459.3,267.7 L459.6,267.1 L460,266.4 L460.4,265.7 L460.8,265 L461.2,264.3 L461.5,263.5 L461.9,262.7 L462.3,261.9 L462.7,261.1 L463.1,260.2 L463.4,259.4 L463.8,258.4 L464.2,257.5 L464.6,256.6 L465,255.6 L465.3,254.6 L465.7,253.6 L466.1,252.6 L466.5,251.6 L466.9,250.6 L467.3,249.5 L467.6,248.5 L468,247.5 L468.4,246.4 L468.8,245.4 L469.2,244.4 L469.5,243.4 L469.9,242.5 L470.3,241.6 L470.7,240.7 L471.1,239.8 L471.4,238.9 L471.8,238.1 L472.2,237.4 L472.6,236.7 L473,236 L473.3,235.4 L473.7,234.8 L474.1,234.4 L474.5,234 L474.9,233.7 L475.2,233.4 L475.6,233.3 L476,233.3 L476.4,233.4 L476.8,233.6 L477.1,233.9 L477.5,234.3 L477.9,234.8 L478.3,235.3 L478.7,236 L479.1,236.8 L479.4,237.6 L479.8,238.6 L480.2,239.6 L480.6,240.7 L481,241.8 L481.3,243 L481.7,244.2 L482.1,245.4 L482.5,246.7 L482.9,248 L483.2,249.2 L483.6,250.5 L484,251.8 L484.4,253.1 L484.8,254.4 L485.1,255.7 L485.5,257 L485.9,258.3 L486.3,259.6 L486.7,260.9 L487,262.1 L487.4,263.4 L487.8,264.7 L488.2,265.9 L488.6,267.1 L488.9,268.3 L489.3,269.4 L489.7,270.5 L490.1,271.5 L490.5,272.5 L490.9,273.5 L491.2,274.3 L491.6,275.2 L492,276 L492.4,276.7 L492.8,277.4 L493.1,278 L493.5,278.5 L493.9,279 L494.3,279.5 L494.7,279.9 L495,280.2 L495.4,280.5 L495.8,280.8 L496.2,281.1 L496.6,281.3 L496.9,281.5 L497.3,281.7 L497.7,281.8 L498.1,282 L498.5,282.1 L498.8,282.3 L499.2,282.4 L499.6,282.6 L500,282.7 L500.4,282.8 L500.7,282.9 L501.1,283 L501.5,283.1 L501.9,283.2 L502.3,283.3 L502.6,283.4 L503,283.4 L503.4,283.5 L503.8,283.6 L504.2,283.7 L504.6,283.7 L504.9,283.8 L505.3,283.9 L505.7,283.9 L506.1,284 L506.5,284 L506.8,284.1 L507.2,284.1 L507.6,284.2 L508,284.2 L508.4,284.2 L508.7,284.3 L509.1,284.3 L509.5,284.3 L509.9,284.3 L510.3,284.3 L510.6,284.3 L511,284.3 L511.4,284.3 L511.8,284.3 L512.2,284.3 L512.5,284.3 L512.9,284.3 L513.3,284.3 L513.7,284.3 L514.1,284.3 L514.4,284.3 L514.8,284.3 L515.2,284.3 L515.6,284.3 L516,284.3 L516.4,284.3 L516.7,284.3 L517.1,284.3 L517.5,284.3 L517.9,284.3 L518.3,284.3 L518.6,284.3 L519,284.3 L519.4,284.3 L519.8,284.3 L520.2,284.3 L520.5,284.3 L520.9,284.3 L521.3,284.3 L521.7,284.3 L522.1,284.3 L522.4,284.3 L522.8,284.3 L523.2,284.3 L523.6,284.3 L524,284.3 L524.3,284.3 L524.7,284.3 L525.1,284.3 L525.5,284.3 L525.9,284.3 L526.2,284.3 L526.6,284.3 L527,284.3 L527.4,284.3 L527.8,284.3 L528.1,284.3 L528.5,284.3 L528.9,284.3 L529.3,284.3 L529.7,284.3 L530.1,284.3 L530.4,284.3 L530.8,284.3 L531.2,284.3 L531.6,284.3 L532,284.3 L532.3,284.3 L532.7,284.3 L533.1,284.3 L533.5,284.3 L533.9,284.3 L534.2,284.3 L534.6,284.3 L535,284.3 L535,284.5 L534.6,284.5 L534.2,284.5 L533.9,284.5 L533.5,284.5 L533.1,284.5 L532.7,284.5 L532.3,284.5 L532,284.5 L531.6,284.5 L531.2,284.5 L530.8,284.5 L530.4,284.5 L530.1,284.5 L529.7,284.5 L529.3,284.5 L528.9,284.5 L528.5,284.5 L528.1,284.5 L527.8,284.5 L527.4,284.5 L527,284.5 L526.6,284.5 L526.2,284.5 L525.9,284.5 L525.5,284.5 L525.1,284.5 L524.7,284.5 L524.3,284.5 L524,284.5 L523.6,284.5 L523.2,284.5 L522.8,284.5 L522.4,284.5 L522.1,284.5 L521.7,284.5 L521.3,284.5 L520.9,284.5 L520.5,284.5 L520.2,284.5 L519.8,284.5 L519.4,284.5 L519,284.5 L518.6,284.5 L518.3,284.5 L517.9,284.5 L517.5,284.5 L517.1,284.5 L516.7,284.5 L516.4,284.5 L516,284.5 L515.6,284.5 L515.2,284.5 L514.8,284.5 L514.4,284.5 L514.1,284.5 L513.7,284.5 L513.3,284.5 L512.9,284.5 L512.5,284.5 L512.2,284.5 L511.8,284.5 L511.4,284.5 L511,284.5 L510.6,284.5 L510.3,284.5 L509.9,284.5 L509.5,284.5 L509.1,284.5 L508.7,284.5 L508.4,284.5 L508,284.5 L507.6,284.5 L507.2,284.4 L506.8,284.4 L506.5,284.4 L506.1,284.3 L505.7,284.3 L505.3,284.3 L504.9,284.2 L504.6,284.2 L504.2,284.1 L503.8,284.1 L503.4,284.1 L503,284 L502.6,284 L502.3,283.9 L501.9,283.8 L501.5,283.8 L501.1,283.7 L500.7,283.7 L500.4,283.6 L500,283.5 L499.6,283.4 L499.2,283.4 L498.8,283.3 L498.5,283.2 L498.1,283.1 L497.7,283 L497.3,282.9 L496.9,282.7 L496.6,282.6 L496.2,282.5 L495.8,282.3 L495.4,282.1 L495,281.9 L494.7,281.7 L494.3,281.5 L493.9,281.2 L493.5,280.9 L493.1,280.5 L492.8,280.1 L492.4,279.7 L492,279.2 L491.6,278.7 L491.2,278.2 L490.9,277.6 L490.5,277 L490.1,276.4 L489.7,275.7 L489.3,275 L488.9,274.3 L488.6,273.5 L488.2,272.8 L487.8,272 L487.4,271.2 L487,270.4 L486.7,269.6 L486.3,268.7 L485.9,267.9 L485.5,267.1 L485.1,266.3 L484.8,265.4 L484.4,264.6 L484,263.8 L483.6,263 L483.2,262.1 L482.9,261.3 L482.5,260.5 L482.1,259.7 L481.7,258.9 L481.3,258.1 L481,257.4 L480.6,256.7 L480.2,256 L479.8,255.3 L479.4,254.7 L479.1,254.2 L478.7,253.7 L478.3,253.2 L477.9,252.9 L477.5,252.6 L477.1,252.3 L476.8,252.1 L476.4,252 L476,252 L475.6,252 L475.2,252 L474.9,252.2 L474.5,252.4 L474.1,252.6 L473.7,252.9 L473.3,253.3 L473,253.7 L472.6,254.1 L472.2,254.6 L471.8,255 L471.4,255.6 L471.1,256.1 L470.7,256.7 L470.3,257.2 L469.9,257.8 L469.5,258.4 L469.2,259.1 L468.8,259.7 L468.4,260.3 L468,261 L467.6,261.7 L467.3,262.3 L466.9,263 L466.5,263.6 L466.1,264.3 L465.7,264.9 L465.3,265.6 L465,266.2 L464.6,266.8 L464.2,267.4 L463.8,268 L463.4,268.6 L463.1,269.2 L462.7,269.7 L462.3,270.3 L461.9,270.8 L461.5,271.3 L461.2,271.8 L460.8,272.2 L460.4,272.7 L460,273.1 L459.6,273.5 L459.3,273.9 L458.9,274.3 L458.5,274.7 L458.1,275 L457.7,275.4 L457.4,275.7 L457,276 L456.6,276.3 L456.2,276.6 L455.8,276.9 L455.5,277.1 L455.1,277.4 L454.7,277.6 L454.3,277.9 L453.9,278.1 L453.6,278.3 L453.2,278.5 L452.8,278.7 L452.4,278.9 L452,279 L451.6,279.2 L451.3,279.4 L450.9,279.5 L450.5,279.7 L450.1,279.8 L449.7,280 L449.4,280.1 L449,280.2 L448.6,280.4 L448.2,280.5 L447.8,280.6 L447.5,280.7 L447.1,280.8 L446.7,280.9 L446.3,281.1 L445.9,281.2 L445.6,281.3 L445.2,281.3 L444.8,281.4 L444.4,281.5 L444,281.6 L443.7,281.7 L443.3,281.8 L442.9,281.9 L442.5,282 L442.1,282 L441.8,282.1 L441.4,282.2 L441,282.3 L440.6,282.3 L440.2,282.4 L439.8,282.4 L439.5,282.5 L439.1,282.6 L438.7,282.6 L438.3,282.6 L437.9,282.7 L437.6,282.7 L437.2,282.8 L436.8,282.8 L436.4,282.8 L436,282.9 L435.7,282.9 L435.3,282.9 L434.9,282.9 L434.5,282.9 L434.1,283 L433.8,283 L433.4,283 L433,283 L432.6,283 L432.2,283 L431.9,283.1 L431.5,283.1 L431.1,283.1 L430.7,283.1 L430.3,283.1 L430,283 L429.6,283 L429.2,283 L428.8,283 L428.4,283 L428.1,282.9 L427.7,282.9 L427.3,282.8 L426.9,282.8 L426.5,282.7 L426.1,282.6 L425.8,282.6 L425.4,282.5 L425,282.4 L424.6,282.3 L424.2,282.3 L423.9,282.2 L423.5,282.1 L423.1,282 L422.7,281.9 L422.3,281.8 L422,281.7 L421.6,281.6 L421.2,281.5 Z" fill="#f07a7a" fill-opacity="0.7"/>
<path d="M421.2,284.1 L421.6,284.1 L422,284.1 L422.3,284.2 L422.7,284.2 L423.1,284.2 L423.5,284.2 L423.9,284.2 L424.2,284.2 L424.6,284.2 L425,284.2 L425.4,284.2 L425.8,284.2 L426.1,284.2 L426.5,284.2 L426.9,284.2 L427.3,284.2 L427.7,284.2 L428.1,284.2 L428.4,284.2 L428.8,284.2 L429.2,284.2 L429.6,284.2 L430,284.2 L430.3,284.2 L430.7,284.2 L431.1,284.2 L431.5,284.2 L431.9,284.2 L432.2,284.2 L432.6,284.2 L433,284.2 L433.4,284.2 L433.8,284.2 L434.1,284.2 L434.5,284.2 L434.9,284.2 L435.3,284.2 L435.7,284.2 L436,284.2 L436.4,284.2 L436.8,284.2 L437.2,284.2 L437.6,284.2 L437.9,284.2 L438.3,284.2 L438.7,284.2 L439.1,284.2 L439.5,284.2 L439.8,284.2 L440.2,284.2 L440.6,284.2 L441,284.2 L441.4,284.2 L441.8,284.2 L442.1,284.2 L442.5,284.2 L442.9,284.2 L443.3,284.2 L443.7,284.2 L444,284.2 L444.4,284.2 L444.8,284.2 L445.2,284.2 L445.6,284.2 L445.9,284.2 L446.3,284.2 L446.7,284.2 L447.1,284.2 L447.5,284.2 L447.8,284.2 L448.2,284.2 L448.6,284.2 L449,284.2 L449.4,284.2 L449.7,284.2 L450.1,284.2 L450.5,284.2 L450.9,284.2 L451.3,284.2 L451.6,284.2 L452,284.2 L452.4,284.2 L452.8,284.2 L453.2,284.2 L453.6,284.2 L453.9,284.2 L454.3,284.2 L454.7,284.2 L455.1,284.2 L455.5,284.2 L455.8,284.2 L456.2,284.2 L456.6,284.2 L457,284.1 L457.4,284.1 L457.7,284 L458.1,284 L458.5,283.9 L458.9,283.9 L459.3,283.8 L459.6,283.7 L460,283.7 L460.4,283.6 L460.8,283.6 L461.2,283.6 L461.5,283.5 L461.9,283.5 L462.3,283.4 L462.7,283.4 L463.1,283.3 L463.4,283.3 L463.8,283.2 L464.2,283.2 L464.6,283.1 L465,283.1 L465.3,283 L465.7,282.9 L466.1,282.8 L466.5,282.7 L466.9,282.6 L467.3,282.4 L467.6,282.3 L468,282.1 L468.4,281.9 L468.8,281.7 L469.2,281.5 L469.5,281.2 L469.9,281 L470.3,280.7 L470.7,280.4 L471.1,280 L471.4,279.7 L471.8,279.3 L472.2,279 L472.6,278.6 L473,278.2 L473.3,277.7 L473.7,277.3 L474.1,276.9 L474.5,276.4 L474.9,276 L475.2,275.5 L475.6,275.1 L476,274.6 L476.4,274.1 L476.8,273.7 L477.1,273.2 L477.5,272.7 L477.9,272.2 L478.3,271.7 L478.7,271.2 L479.1,270.7 L479.4,270.2 L479.8,269.6 L480.2,269.1 L480.6,268.5 L481,267.9 L481.3,267.3 L481.7,266.6 L482.1,266 L482.5,265.4 L482.9,264.7 L483.2,264.1 L483.6,263.4 L484,262.7 L484.4,262.1 L484.8,261.4 L485.1,260.7 L485.5,260.1 L485.9,259.4 L486.3,258.8 L486.7,258.2 L487,257.6 L487.4,257 L487.8,256.4 L488.2,255.9 L488.6,255.4 L488.9,254.9 L489.3,254.5 L489.7,254 L490.1,253.6 L490.5,253.3 L490.9,253 L491.2,252.7 L491.6,252.5 L492,252.3 L492.4,252.2 L492.8,252.1 L493.1,252.1 L493.5,252.1 L493.9,252.2 L494.3,252.3 L494.7,252.5 L495,252.8 L495.4,253.2 L495.8,253.6 L496.2,254.2 L496.6,254.8 L496.9,255.5 L497.3,256.3 L497.7,257.2 L498.1,258.1 L498.5,259.1 L498.8,260.1 L499.2,261.2 L499.6,262.2 L500,263.3 L500.4,264.4 L500.7,265.5 L501.1,266.7 L501.5,267.8 L501.9,268.9 L502.3,270 L502.6,271 L503,272.1 L503.4,273.1 L503.8,274.1 L504.2,275 L504.6,275.9 L504.9,276.7 L505.3,277.4 L505.7,278.1 L506.1,278.8 L506.5,279.4 L506.8,279.9 L507.2,280.3 L507.6,280.7 L508,281.1 L508.4,281.4 L508.7,281.6 L509.1,281.8 L509.5,282 L509.9,282.1 L510.3,282.2 L510.6,282.3 L511,282.4 L511.4,282.5 L511.8,282.6 L512.2,282.7 L512.5,282.8 L512.9,282.9 L513.3,283 L513.7,283.1 L514.1,283.1 L514.4,283.2 L514.8,283.3 L515.2,283.4 L515.6,283.5 L516,283.6 L516.4,283.7 L516.7,283.8 L517.1,283.9 L517.5,284 L517.9,284.1 L518.3,284.1 L518.6,284.2 L519,284.2 L519.4,284.2 L519.8,284.2 L520.2,284.2 L520.5,284.2 L520.9,284.2 L521.3,284.2 L521.7,284.2 L522.1,284.2 L522.4,284.2 L522.8,284.2 L523.2,284.2 L523.6,284.2 L524,284.2 L524.3,284.2 L524.7,284.2 L525.1,284.2 L525.5,284.2 L525.9,284.2 L526.2,284.2 L526.6,284.2 L527,284.2 L527.4,284.2 L527.8,284.2 L528.1,284.2 L528.5,284.2 L528.9,284.2 L529.3,284.2 L529.7,284.2 L530.1,284.2 L530.4,284.2 L530.8,284.2 L531.2,284.2 L531.6,284.2 L532,284.2 L532.3,284.2 L532.7,284.2 L533.1,284.2 L533.5,284.2 L533.9,284.2 L534.2,284.2 L534.6,284.2 L535,284.2 L535,284.6 L534.6,284.6 L534.2,284.6 L533.9,284.6 L533.5,284.6 L533.1,284.6 L532.7,284.6 L532.3,284.6 L532,284.6 L531.6,284.6 L531.2,284.6 L530.8,284.6 L530.4,284.6 L530.1,284.6 L529.7,284.6 L529.3,284.6 L528.9,284.6 L528.5,284.6 L528.1,284.6 L527.8,284.6 L527.4,284.6 L527,284.6 L526.6,284.6 L526.2,284.6 L525.9,284.6 L525.5,284.6 L525.1,284.6 L524.7,284.6 L524.3,284.6 L524,284.6 L523.6,284.6 L523.2,284.6 L522.8,284.6 L522.4,284.6 L522.1,284.6 L521.7,284.6 L521.3,284.6 L520.9,284.6 L520.5,284.6 L520.2,284.6 L519.8,284.6 L519.4,284.6 L519,284.6 L518.6,284.6 L518.3,284.5 L517.9,284.5 L517.5,284.4 L517.1,284.4 L516.7,284.4 L516.4,284.3 L516,284.3 L515.6,284.2 L515.2,284.2 L514.8,284.1 L514.4,284.1 L514.1,284 L513.7,284 L513.3,283.9 L512.9,283.9 L512.5,283.8 L512.2,283.8 L511.8,283.7 L511.4,283.7 L511,283.6 L510.6,283.6 L510.3,283.5 L509.9,283.5 L509.5,283.4 L509.1,283.3 L508.7,283.2 L508.4,283 L508,282.9 L507.6,282.7 L507.2,282.5 L506.8,282.2 L506.5,282 L506.1,281.6 L505.7,281.3 L505.3,280.9 L504.9,280.5 L504.6,280.1 L504.2,279.6 L503.8,279.1 L503.4,278.6 L503,278 L502.6,277.5 L502.3,276.9 L501.9,276.3 L501.5,275.7 L501.1,275.1 L500.7,274.5 L500.4,273.9 L500,273.3 L499.6,272.7 L499.2,272.2 L498.8,271.6 L498.5,271.1 L498.1,270.5 L497.7,270 L497.3,269.6 L496.9,269.1 L496.6,268.7 L496.2,268.4 L495.8,268.1 L495.4,267.9 L495,267.7 L494.7,267.5 L494.3,267.4 L493.9,267.3 L493.5,267.3 L493.1,267.3 L492.8,267.3 L492.4,267.3 L492,267.4 L491.6,267.5 L491.2,267.6 L490.9,267.8 L490.5,267.9 L490.1,268.1 L489.7,268.3 L489.3,268.6 L488.9,268.8 L488.6,269.1 L488.2,269.3 L487.8,269.6 L487.4,269.9 L487,270.2 L486.7,270.6 L486.3,270.9 L485.9,271.2 L485.5,271.6 L485.1,271.9 L484.8,272.3 L484.4,272.7 L484,273 L483.6,273.4 L483.2,273.7 L482.9,274.1 L482.5,274.4 L482.1,274.8 L481.7,275.1 L481.3,275.5 L481,275.8 L480.6,276.1 L480.2,276.4 L479.8,276.7 L479.4,277 L479.1,277.3 L478.7,277.6 L478.3,277.8 L477.9,278.1 L477.5,278.4 L477.1,278.6 L476.8,278.9 L476.4,279.1 L476,279.4 L475.6,279.6 L475.2,279.9 L474.9,280.1 L474.5,280.4 L474.1,280.6 L473.7,280.9 L473.3,281.1 L473,281.3 L472.6,281.5 L472.2,281.7 L471.8,281.9 L471.4,282.1 L471.1,282.3 L470.7,282.5 L470.3,282.7 L469.9,282.8 L469.5,283 L469.2,283.1 L468.8,283.2 L468.4,283.3 L468,283.4 L467.6,283.5 L467.3,283.6 L466.9,283.7 L466.5,283.8 L466.1,283.8 L465.7,283.9 L465.3,283.9 L465,284 L464.6,284 L464.2,284 L463.8,284.1 L463.4,284.1 L463.1,284.1 L462.7,284.1 L462.3,284.1 L461.9,284.2 L461.5,284.2 L461.2,284.2 L460.8,284.2 L460.4,284.3 L460,284.3 L459.6,284.3 L459.3,284.4 L458.9,284.4 L458.5,284.4 L458.1,284.4 L457.7,284.5 L457.4,284.5 L457,284.5 L456.6,284.5 L456.2,284.6 L455.8,284.6 L455.5,284.6 L455.1,284.6 L454.7,284.6 L454.3,284.6 L453.9,284.6 L453.6,284.6 L453.2,284.6 L452.8,284.6 L452.4,284.6 L452,284.6 L451.6,284.6 L451.3,284.6 L450.9,284.6 L450.5,284.6 L450.1,284.6 L449.7,284.6 L449.4,284.6 L449,284.6 L448.6,284.6 L448.2,284.6 L447.8,284.6 L447.5,284.6 L447.1,284.6 L446.7,284.6 L446.3,284.6 L445.9,284.6 L445.6,284.6 L445.2,284.6 L444.8,284.6 L444.4,284.6 L444,284.6 L443.7,284.6 L443.3,284.6 L442.9,284.6 L442.5,284.6 L442.1,284.6 L441.8,284.6 L441.4,284.6 L441,284.6 L440.6,284.6 L440.2,284.6 L439.8,284.6 L439.5,284.6 L439.1,284.6 L438.7,284.6 L438.3,284.6 L437.9,284.6 L437.6,284.6 L437.2,284.6 L436.8,284.6 L436.4,284.6 L436,284.6 L435.7,284.6 L435.3,284.6 L434.9,284.6 L434.5,284.6 L434.1,284.6 L433.8,284.6 L433.4,284.6 L433,284.6 L432.6,284.6 L432.2,284.6 L431.9,284.6 L431.5,284.6 L431.1,284.6 L430.7,284.6 L430.3,284.6 L430,284.6 L429.6,284.6 L429.2,284.6 L428.8,284.6 L428.4,284.6 L428.1,284.6 L427.7,284.6 L427.3,284.6 L426.9,284.6 L426.5,284.6 L426.1,284.6 L425.8,284.6 L425.4,284.6 L425,284.6 L424.6,284.6 L424.2,284.6 L423.9,284.6 L423.5,284.6 L423.1,284.6 L422.7,284.6 L422.3,284.6 L422,284.5 L421.6,284.5 L421.2,284.5 Z" fill="#6a72cc" fill-opacity="0.7"/>
<path d="M421.2,284.3 L421.6,284.3 L422,284.3 L422.3,284.4 L422.7,284.4 L423.1,284.4 L423.5,284.4 L423.9,284.4 L424.2,284.4 L424.6,284.4 L425,284.4 L425.4,284.4 L425.8,284.4 L426.1,284.4 L426.5,284.4 L426.9,284.4 L427.3,284.4 L427.7,284.4 L428.1,284.4 L428.4,284.4 L428.8,284.4 L429.2,284.4 L429.6,284.4 L430,284.4 L430.3,284.4 L430.7,284.4 L431.1,284.4 L431.5,284.4 L431.9,284.4 L432.2,284.4 L432.6,284.4 L433,284.4 L433.4,284.4 L433.8,284.4 L434.1,284.4 L434.5,284.4 L434.9,284.4 L435.3,284.4 L435.7,284.4 L436,284.4 L436.4,284.4 L436.8,284.4 L437.2,284.4 L437.6,284.4 L437.9,284.4 L438.3,284.4 L438.7,284.4 L439.1,284.4 L439.5,284.4 L439.8,284.4 L440.2,284.4 L440.6,284.4 L441,284.4 L441.4,284.4 L441.8,284.4 L442.1,284.4 L442.5,284.4 L442.9,284.4 L443.3,284.4 L443.7,284.4 L444,284.4 L444.4,284.4 L444.8,284.4 L445.2,284.4 L445.6,284.4 L445.9,284.4 L446.3,284.4 L446.7,284.4 L447.1,284.4 L447.5,284.4 L447.8,284.4 L448.2,284.4 L448.6,284.4 L449,284.4 L449.4,284.4 L449.7,284.4 L450.1,284.4 L450.5,284.4 L450.9,284.4 L451.3,284.4 L451.6,284.4 L452,284.4 L452.4,284.4 L452.8,284.4 L453.2,284.4 L453.6,284.4 L453.9,284.4 L454.3,284.4 L454.7,284.4 L455.1,284.4 L455.5,284.4 L455.8,284.4 L456.2,284.4 L456.6,284.3 L457,284.3 L457.4,284.3 L457.7,284.2 L458.1,284.2 L458.5,284.2 L458.9,284.1 L459.3,284.1 L459.6,284 L460,284 L460.4,284 L460.8,283.9 L461.2,283.9 L461.5,283.9 L461.9,283.8 L462.3,283.8 L462.7,283.8 L463.1,283.7 L463.4,283.7 L463.8,283.6 L464.2,283.6 L464.6,283.6 L465,283.5 L465.3,283.4 L465.7,283.4 L466.1,283.3 L466.5,283.2 L466.9,283.1 L467.3,283 L467.6,282.9 L468,282.8 L468.4,282.6 L468.8,282.5 L469.2,282.3 L469.5,282.1 L469.9,281.9 L470.3,281.7 L470.7,281.4 L471.1,281.2 L471.4,280.9 L471.8,280.6 L472.2,280.3 L472.6,280 L473,279.7 L473.3,279.4 L473.7,279.1 L474.1,278.8 L474.5,278.4 L474.9,278.1 L475.2,277.7 L475.6,277.4 L476,277 L476.4,276.6 L476.8,276.3 L477.1,275.9 L477.5,275.5 L477.9,275.2 L478.3,274.8 L478.7,274.4 L479.1,274 L479.4,273.6 L479.8,273.2 L480.2,272.7 L480.6,272.3 L481,271.8 L481.3,271.4 L481.7,270.9 L482.1,270.4 L482.5,269.9 L482.9,269.4 L483.2,268.9 L483.6,268.4 L484,267.9 L484.4,267.4 L484.8,266.8 L485.1,266.3 L485.5,265.8 L485.9,265.3 L486.3,264.9 L486.7,264.4 L487,263.9 L487.4,263.5 L487.8,263 L488.2,262.6 L488.6,262.2 L488.9,261.9 L489.3,261.5 L489.7,261.2 L490.1,260.9 L490.5,260.6 L490.9,260.4 L491.2,260.2 L491.6,260 L492,259.9 L492.4,259.8 L492.8,259.7 L493.1,259.7 L493.5,259.7 L493.9,259.8 L494.3,259.9 L494.7,260 L495,260.2 L495.4,260.5 L495.8,260.9 L496.2,261.3 L496.6,261.8 L496.9,262.3 L497.3,263 L497.7,263.6 L498.1,264.3 L498.5,265.1 L498.8,265.9 L499.2,266.7 L499.6,267.5 L500,268.3 L500.4,269.2 L500.7,270 L501.1,270.9 L501.5,271.7 L501.9,272.6 L502.3,273.4 L502.6,274.3 L503,275.1 L503.4,275.8 L503.8,276.6 L504.2,277.3 L504.6,278 L504.9,278.6 L505.3,279.2 L505.7,279.7 L506.1,280.2 L506.5,280.7 L506.8,281.1 L507.2,281.4 L507.6,281.7 L508,282 L508.4,282.2 L508.7,282.4 L509.1,282.5 L509.5,282.7 L509.9,282.8 L510.3,282.9 L510.6,283 L511,283 L511.4,283.1 L511.8,283.2 L512.2,283.2 L512.5,283.3 L512.9,283.4 L513.3,283.4 L513.7,283.5 L514.1,283.6 L514.4,283.6 L514.8,283.7 L515.2,283.8 L515.6,283.9 L516,283.9 L516.4,284 L516.7,284.1 L517.1,284.1 L517.5,284.2 L517.9,284.3 L518.3,284.3 L518.6,284.4 L519,284.4 L519.4,284.4 L519.8,284.4 L520.2,284.4 L520.5,284.4 L520.9,284.4 L521.3,284.4 L521.7,284.4 L522.1,284.4 L522.4,284.4 L522.8,284.4 L523.2,284.4 L523.6,284.4 L524,284.4 L524.3,284.4 L524.7,284.4 L525.1,284.4 L525.5,284.4 L525.9,284.4 L526.2,284.4 L526.6,284.4 L527,284.4 L527.4,284.4 L527.8,284.4 L528.1,284.4 L528.5,284.4 L528.9,284.4 L529.3,284.4 L529.7,284.4 L530.1,284.4 L530.4,284.4 L530.8,284.4 L531.2,284.4 L531.6,284.4 L532,284.4 L532.3,284.4 L532.7,284.4 L533.1,284.4 L533.5,284.4 L533.9,284.4 L534.2,284.4 L534.6,284.4 L535,284.4" fill="none" stroke="#1a1a8a" stroke-width="2.9" stroke-linejoin="round" stroke-linecap="round"/>
<path d="M421.2,280.5 L421.6,280.6 L422,280.8 L422.3,280.9 L422.7,281 L423.1,281.1 L423.5,281.2 L423.9,281.4 L424.2,281.5 L424.6,281.6 L425,281.7 L425.4,281.8 L425.8,281.9 L426.1,282 L426.5,282.1 L426.9,282.1 L427.3,282.2 L427.7,282.3 L428.1,282.3 L428.4,282.4 L428.8,282.4 L429.2,282.4 L429.6,282.5 L430,282.5 L430.3,282.5 L430.7,282.5 L431.1,282.5 L431.5,282.5 L431.9,282.5 L432.2,282.5 L432.6,282.5 L433,282.5 L433.4,282.4 L433.8,282.4 L434.1,282.4 L434.5,282.4 L434.9,282.3 L435.3,282.3 L435.7,282.3 L436,282.2 L436.4,282.2 L436.8,282.2 L437.2,282.1 L437.6,282.1 L437.9,282 L438.3,282 L438.7,281.9 L439.1,281.9 L439.5,281.8 L439.8,281.7 L440.2,281.7 L440.6,281.6 L441,281.5 L441.4,281.4 L441.8,281.3 L442.1,281.2 L442.5,281.1 L442.9,281 L443.3,280.9 L443.7,280.8 L444,280.7 L444.4,280.6 L444.8,280.4 L445.2,280.3 L445.6,280.2 L445.9,280.1 L446.3,279.9 L446.7,279.8 L447.1,279.7 L447.5,279.5 L447.8,279.4 L448.2,279.2 L448.6,279.1 L449,278.9 L449.4,278.7 L449.7,278.6 L450.1,278.4 L450.5,278.2 L450.9,278 L451.3,277.8 L451.6,277.6 L452,277.4 L452.4,277.1 L452.8,276.9 L453.2,276.7 L453.6,276.4 L453.9,276.1 L454.3,275.8 L454.7,275.5 L455.1,275.2 L455.5,274.9 L455.8,274.6 L456.2,274.2 L456.6,273.9 L457,273.5 L457.4,273.1 L457.7,272.7 L458.1,272.2 L458.5,271.8 L458.9,271.3 L459.3,270.8 L459.6,270.3 L460,269.8 L460.4,269.2 L460.8,268.6 L461.2,268 L461.5,267.4 L461.9,266.8 L462.3,266.1 L462.7,265.4 L463.1,264.7 L463.4,264 L463.8,263.2 L464.2,262.5 L464.6,261.7 L465,260.9 L465.3,260.1 L465.7,259.3 L466.1,258.5 L466.5,257.6 L466.9,256.8 L467.3,255.9 L467.6,255.1 L468,254.2 L468.4,253.4 L468.8,252.6 L469.2,251.7 L469.5,250.9 L469.9,250.2 L470.3,249.4 L470.7,248.7 L471.1,247.9 L471.4,247.3 L471.8,246.6 L472.2,246 L472.6,245.4 L473,244.8 L473.3,244.3 L473.7,243.9 L474.1,243.5 L474.5,243.2 L474.9,242.9 L475.2,242.7 L475.6,242.6 L476,242.6 L476.4,242.7 L476.8,242.9 L477.1,243.1 L477.5,243.4 L477.9,243.8 L478.3,244.3 L478.7,244.8 L479.1,245.5 L479.4,246.2 L479.8,246.9 L480.2,247.8 L480.6,248.7 L481,249.6 L481.3,250.6 L481.7,251.5 L482.1,252.6 L482.5,253.6 L482.9,254.6 L483.2,255.7 L483.6,256.7 L484,257.8 L484.4,258.9 L484.8,259.9 L485.1,261 L485.5,262 L485.9,263.1 L486.3,264.2 L486.7,265.2 L487,266.3 L487.4,267.3 L487.8,268.3 L488.2,269.3 L488.6,270.3 L488.9,271.3 L489.3,272.2 L489.7,273.1 L490.1,273.9 L490.5,274.8 L490.9,275.5 L491.2,276.3 L491.6,277 L492,277.6 L492.4,278.2 L492.8,278.7 L493.1,279.3 L493.5,279.7 L493.9,280.1 L494.3,280.5 L494.7,280.8 L495,281.1 L495.4,281.3 L495.8,281.6 L496.2,281.8 L496.6,282 L496.9,282.1 L497.3,282.3 L497.7,282.4 L498.1,282.5 L498.5,282.7 L498.8,282.8 L499.2,282.9 L499.6,283 L500,283.1 L500.4,283.2 L500.7,283.3 L501.1,283.4 L501.5,283.4 L501.9,283.5 L502.3,283.6 L502.6,283.7 L503,283.7 L503.4,283.8 L503.8,283.9 L504.2,283.9 L504.6,284 L504.9,284 L505.3,284.1 L505.7,284.1 L506.1,284.2 L506.5,284.2 L506.8,284.2 L507.2,284.3 L507.6,284.3 L508,284.3 L508.4,284.4 L508.7,284.4 L509.1,284.4 L509.5,284.4 L509.9,284.4 L510.3,284.4 L510.6,284.4 L511,284.4 L511.4,284.4 L511.8,284.4 L512.2,284.4 L512.5,284.4 L512.9,284.4 L513.3,284.4 L513.7,284.4 L514.1,284.4 L514.4,284.4 L514.8,284.4 L515.2,284.4 L515.6,284.4 L516,284.4 L516.4,284.4 L516.7,284.4 L517.1,284.4 L517.5,284.4 L517.9,284.4 L518.3,284.4 L518.6,284.4 L519,284.4 L519.4,284.4 L519.8,284.4 L520.2,284.4 L520.5,284.4 L520.9,284.4 L521.3,284.4 L521.7,284.4 L522.1,284.4 L522.4,284.4 L522.8,284.4 L523.2,284.4 L523.6,284.4 L524,284.4 L524.3,284.4 L524.7,284.4 L525.1,284.4 L525.5,284.4 L525.9,284.4 L526.2,284.4 L526.6,284.4 L527,284.4 L527.4,284.4 L527.8,284.4 L528.1,284.4 L528.5,284.4 L528.9,284.4 L529.3,284.4 L529.7,284.4 L530.1,284.4 L530.4,284.4 L530.8,284.4 L531.2,284.4 L531.6,284.4 L532,284.4 L532.3,284.4 L532.7,284.4 L533.1,284.4 L533.5,284.4 L533.9,284.4 L534.2,284.4 L534.6,284.4 L535,284.4" fill="none" stroke="#ec1c24" stroke-width="2.9" stroke-linejoin="round" stroke-linecap="round"/>
<path d="M421.2,264 L421.6,263.3 L422,262.7 L422.3,262 L422.7,261.4 L423.1,260.8 L423.5,260.1 L423.9,259.5 L424.2,258.9 L424.6,258.3 L425,257.7 L425.4,257.2 L425.8,256.6 L426.1,256.1 L426.5,255.5 L426.9,255 L427.3,254.5 L427.7,253.9 L428.1,253.4 L428.4,252.8 L428.8,252.2 L429.2,251.6 L429.6,250.9 L430,250.3 L430.3,249.6 L430.7,248.8 L431.1,248.1 L431.5,247.2 L431.9,246.4 L432.2,245.5 L432.6,244.6 L433,243.7 L433.4,242.7 L433.8,241.7 L434.1,240.7 L434.5,239.7 L434.9,238.6 L435.3,237.5 L435.7,236.5 L436,235.4 L436.4,234.2 L436.8,233.1 L437.2,231.9 L437.6,230.7 L437.9,229.5 L438.3,228.2 L438.7,226.9 L439.1,225.5 L439.5,224.1 L439.8,222.7 L440.2,221.1 L440.6,219.6 L441,217.9 L441.4,216.3 L441.8,214.6 L442.1,212.9 L442.5,211.2 L442.9,209.5 L443.3,207.9 L443.7,206.2 L444,204.6 L444.4,203 L444.8,201.5 L445.2,200 L445.6,198.6 L445.9,197.3 L446.3,196 L446.7,194.8 L447.1,193.7 L447.5,192.6 L447.8,191.6 L448.2,190.8 L448.6,190 L449,189.2 L449.4,188.6 L449.7,188.1 L450.1,187.6 L450.5,187.2 L450.9,186.9 L451.3,186.6 L451.6,186.5 L452,186.4 L452.4,186.4 L452.8,186.5 L453.2,186.6 L453.6,186.9 L453.9,187.3 L454.3,187.7 L454.7,188.3 L455.1,189 L455.5,189.8 L455.8,190.8 L456.2,191.8 L456.6,193.1 L457,194.4 L457.4,196 L457.7,197.7 L458.1,199.5 L458.5,201.4 L458.9,203.5 L459.3,205.6 L459.6,207.8 L460,210 L460.4,212.3 L460.8,214.6 L461.2,216.9 L461.5,219.3 L461.9,221.6 L462.3,223.8 L462.7,226.1 L463.1,228.4 L463.4,230.6 L463.8,232.9 L464.2,235.1 L464.6,237.4 L465,239.7 L465.3,242 L465.7,244.3 L466.1,246.6 L466.5,248.8 L466.9,250.9 L467.3,253 L467.6,255 L468,257 L468.4,258.9 L468.8,260.7 L469.2,262.4 L469.5,264.1 L469.9,265.7 L470.3,267.2 L470.7,268.7 L471.1,270.1 L471.4,271.4 L471.8,272.7 L472.2,273.9 L472.6,275.1 L473,276.1 L473.3,277.1 L473.7,278 L474.1,278.7 L474.5,279.4 L474.9,280 L475.2,280.5 L475.6,280.9 L476,281.2 L476.4,281.5 L476.8,281.7 L477.1,282 L477.5,282.2 L477.9,282.3 L478.3,282.5 L478.7,282.7 L479.1,282.8 L479.4,283 L479.8,283.1 L480.2,283.3 L480.6,283.4 L481,283.5 L481.3,283.6 L481.7,283.7 L482.1,283.8 L482.5,283.9 L482.9,284 L483.2,284 L483.6,284.1 L484,284.2 L484.4,284.2 L484.8,284.3 L485.1,284.3 L485.5,284.3 L485.9,284.4 L486.3,284.4 L486.7,284.4 L487,284.4 L487.4,284.4 L487.8,284.4 L488.2,284.4 L488.6,284.4 L488.9,284.4 L489.3,284.4 L489.7,284.4 L490.1,284.4 L490.5,284.4 L490.9,284.4 L491.2,284.4 L491.6,284.4 L492,284.4 L492.4,284.4 L492.8,284.4 L493.1,284.4 L493.5,284.4 L493.9,284.4 L494.3,284.4 L494.7,284.4 L495,284.4 L495.4,284.4 L495.8,284.4 L496.2,284.4 L496.6,284.4 L496.9,284.4 L497.3,284.4 L497.7,284.4 L498.1,284.4 L498.5,284.4 L498.8,284.4 L499.2,284.4 L499.6,284.4 L500,284.4 L500.4,284.4 L500.7,284.4 L501.1,284.4 L501.5,284.4 L501.9,284.4 L502.3,284.4 L502.6,284.4 L503,284.4 L503.4,284.4 L503.8,284.4 L504.2,284.4 L504.6,284.4 L504.9,284.4 L505.3,284.4 L505.7,284.4 L506.1,284.4 L506.5,284.4 L506.8,284.4 L507.2,284.4 L507.6,284.4 L508,284.4 L508.4,284.4 L508.7,284.4 L509.1,284.4 L509.5,284.4 L509.9,284.4 L510.3,284.4 L510.6,284.4 L511,284.4 L511.4,284.4 L511.8,284.4 L512.2,284.4 L512.5,284.4 L512.9,284.4 L513.3,284.4 L513.7,284.4 L514.1,284.4 L514.4,284.4 L514.8,284.4 L515.2,284.4 L515.6,284.4 L516,284.4 L516.4,284.4 L516.7,284.4 L517.1,284.4 L517.5,284.4 L517.9,284.4 L518.3,284.4 L518.6,284.4 L519,284.4 L519.4,284.4 L519.8,284.4 L520.2,284.4 L520.5,284.4 L520.9,284.4 L521.3,284.4 L521.7,284.4 L522.1,284.4 L522.4,284.4 L522.8,284.4 L523.2,284.4 L523.6,284.4 L524,284.4 L524.3,284.4 L524.7,284.4 L525.1,284.4 L525.5,284.4 L525.9,284.4 L526.2,284.4 L526.6,284.4 L527,284.4 L527.4,284.4 L527.8,284.4 L528.1,284.4 L528.5,284.4 L528.9,284.4 L529.3,284.4 L529.7,284.4 L530.1,284.4 L530.4,284.4 L530.8,284.4 L531.2,284.4 L531.6,284.4 L532,284.4 L532.3,284.4 L532.7,284.4 L533.1,284.4 L533.5,284.4 L533.9,284.4 L534.2,284.4 L534.6,284.4 L535,284.4" fill="none" stroke="#0a0a0a" stroke-width="2.3" stroke-linejoin="round" stroke-linecap="round"/>
<path d="M412.5,163.5 V288 M411.9,285.9 H535.5" stroke="#111" stroke-width="1.4" fill="none"/>
<text x="408.9" y="289.8" font-family="'Liberation Serif','Times New Roman',serif" font-weight="bold" font-size="12" text-anchor="end">0.0</text>
<text x="408.9" y="259.8" font-family="'Liberation Serif','Times New Roman',serif" font-weight="bold" font-size="12" text-anchor="end">4.0&#215;10<tspan dy="-4.3" font-size="8.5">8</tspan></text>
<text x="408.9" y="229.8" font-family="'Liberation Serif','Times New Roman',serif" font-weight="bold" font-size="12" text-anchor="end">8.0&#215;10<tspan dy="-4.3" font-size="8.5">8</tspan></text>
<text x="408.9" y="199.8" font-family="'Liberation Serif','Times New Roman',serif" font-weight="bold" font-size="12" text-anchor="end">1.2&#215;10<tspan dy="-4.3" font-size="8.5">9</tspan></text>
<text x="408.9" y="169.8" font-family="'Liberation Serif','Times New Roman',serif" font-weight="bold" font-size="12" text-anchor="end">1.6&#215;10<tspan dy="-4.3" font-size="8.5">9</tspan></text>
<text x="412.5" y="302.3" font-family="'Liberation Serif','Times New Roman',serif" font-weight="bold" font-size="12" text-anchor="middle">10<tspan dy="-3.9" font-size="8.5">-13</tspan></text>
<text x="443.1" y="302.3" font-family="'Liberation Serif','Times New Roman',serif" font-weight="bold" font-size="12" text-anchor="middle">10<tspan dy="-3.9" font-size="8.5">-12</tspan></text>
<text x="473.7" y="302.3" font-family="'Liberation Serif','Times New Roman',serif" font-weight="bold" font-size="12" text-anchor="middle">10<tspan dy="-3.9" font-size="8.5">-11</tspan></text>
<text x="504.3" y="302.3" font-family="'Liberation Serif','Times New Roman',serif" font-weight="bold" font-size="12" text-anchor="middle">10<tspan dy="-3.9" font-size="8.5">-10</tspan></text>
<text x="534.9" y="302.3" font-family="'Liberation Serif','Times New Roman',serif" font-weight="bold" font-size="12" text-anchor="middle">10<tspan dy="-3.9" font-size="8.5">-9</tspan></text>
<path d="M409.9,285 H412.5 M409.9,255 H412.5 M409.9,225 H412.5 M409.9,195 H412.5 M409.9,165 H412.5 M412.5,285.9 V288.7 M443.1,285.9 V288.7 M473.7,285.9 V288.7 M504.3,285.9 V288.7 M534.9,285.9 V288.7" stroke="#111" stroke-width="1.2" fill="none"/>
<text x="474" y="318.2" font-family="'Liberation Serif','Times New Roman',serif" font-weight="bold" font-size="11.5" text-anchor="middle">MB volume (mL)</text>
<text x="0" y="0" font-family="'Liberation Serif','Times New Roman',serif" font-weight="bold" font-size="11.5" text-anchor="middle" transform="translate(365.6,224.5) rotate(-90)">MB concentration (MBs/mL)</text>
<path d="M499.2,173.4 H512.8" stroke="#555" stroke-width="1.1"/>
<circle cx="506" cy="173.4" r="1.3" fill="#555"/>
<text x="519.8" y="177.1" font-family="'Liberation Serif','Times New Roman',serif" font-weight="bold" font-size="11.1" text-anchor="start">2 &#956;m</text>
<path d="M499.2,189.9 H512.8" stroke="#e04a50" stroke-width="1.1"/>
<circle cx="506" cy="189.9" r="1.3" fill="#e04a50"/>
<text x="519.8" y="193.6" font-family="'Liberation Serif','Times New Roman',serif" font-weight="bold" font-size="11.1" text-anchor="start">3 &#956;m</text>
<path d="M499.2,206.4 H512.8" stroke="#6666aa" stroke-width="1.1"/>
<circle cx="506" cy="206.4" r="1.3" fill="#6666aa"/>
<text x="519.8" y="210.1" font-family="'Liberation Serif','Times New Roman',serif" font-weight="bold" font-size="11.1" text-anchor="start">5 &#956;m</text>
<rect x="48.2" y="370.2" width="470.6" height="36.8" fill="#d9d9d9"/>
<path d="M48.2,369.4 H518.8 M48.2,407.6 H518.8 M48.2,489.4 H518.8" stroke="#333" stroke-width="1.7"/>
<text x="96" y="386.3" font-family="'Liberation Serif','Times New Roman',serif" font-weight="bold" font-size="13.1" text-anchor="middle">MB diameter</text>
<text x="96" y="400.9" font-family="'Liberation Serif','Times New Roman',serif" font-weight="bold" font-size="13.1" text-anchor="middle">(&#956;m)</text>
<text x="186.3" y="386.3" font-family="'Liberation Serif','Times New Roman',serif" font-weight="bold" font-size="13.1" text-anchor="middle">Number %</text>
<text x="186.3" y="400.9" font-family="'Liberation Serif','Times New Roman',serif" font-weight="bold" font-size="13.1" text-anchor="middle">(&#956;m)</text>
<text x="272.8" y="386.3" font-family="'Liberation Serif','Times New Roman',serif" font-weight="bold" font-size="13.1" text-anchor="middle">Volume %</text>
<text x="272.8" y="400.9" font-family="'Liberation Serif','Times New Roman',serif" font-weight="bold" font-size="13.1" text-anchor="middle">(&#956;m)</text>
<text x="360.8" y="386.3" font-family="'Liberation Serif','Times New Roman',serif" font-weight="bold" font-size="13.1" text-anchor="middle">&#966;<tspan font-size="8.5" dy="1.2">MB</tspan></text>
<text x="360.8" y="400.9" font-family="'Liberation Serif','Times New Roman',serif" font-weight="bold" font-size="13.1" text-anchor="middle">(&#956;L/mL)</text>
<text x="461.8" y="386.3" font-family="'Liberation Serif','Times New Roman',serif" font-weight="bold" font-size="13.1" text-anchor="middle">Concentration</text>
<text x="461.8" y="400.9" font-family="'Liberation Serif','Times New Roman',serif" font-weight="bold" font-size="13.1" text-anchor="middle">(10<tspan font-size="8.5" dy="-4.5">10</tspan><tspan dy="4.5"> MBs/mL)</tspan></text>
<text x="96" y="424" font-family="'Liberation Serif','Times New Roman',serif" font-weight="bold" font-size="13.1" text-anchor="middle">2</text>
<text x="186.3" y="424" font-family="'Liberation Serif','Times New Roman',serif" font-weight="normal" font-size="12.7" text-anchor="middle" class="n">1.6 &#177; 0.1</text>
<text x="272.8" y="424" font-family="'Liberation Serif','Times New Roman',serif" font-weight="normal" font-size="12.7" text-anchor="middle" class="n">2.0 &#177; 0.1</text>
<text x="360.8" y="424" font-family="'Liberation Serif','Times New Roman',serif" font-weight="normal" font-size="12.7" text-anchor="middle" class="n">7.8 &#177; 1.4</text>
<text x="461.8" y="424" font-family="'Liberation Serif','Times New Roman',serif" font-weight="normal" font-size="12.7" text-anchor="middle" class="n">9.7 &#177; 0.5</text>
<text x="96" y="451" font-family="'Liberation Serif','Times New Roman',serif" font-weight="bold" font-size="13.1" text-anchor="middle">3</text>
<text x="186.3" y="451" font-family="'Liberation Serif','Times New Roman',serif" font-weight="normal" font-size="12.7" text-anchor="middle" class="n">2.7 &#177; 0.3</text>
<text x="272.8" y="451" font-family="'Liberation Serif','Times New Roman',serif" font-weight="normal" font-size="12.7" text-anchor="middle" class="n">3.4 &#177; 0.2</text>
<text x="360.8" y="451" font-family="'Liberation Serif','Times New Roman',serif" font-weight="normal" font-size="12.7" text-anchor="middle" class="n">14.6 &#177; 4.3</text>
<text x="461.8" y="451" font-family="'Liberation Serif','Times New Roman',serif" font-weight="normal" font-size="12.7" text-anchor="middle" class="n">3.4 &#177; 0.2</text>
<text x="96" y="478" font-family="'Liberation Serif','Times New Roman',serif" font-weight="bold" font-size="13.1" text-anchor="middle">5</text>
<text x="186.3" y="478" font-family="'Liberation Serif','Times New Roman',serif" font-weight="normal" font-size="12.7" text-anchor="middle" class="n">4.2 &#177; 0.2</text>
<text x="272.8" y="478" font-family="'Liberation Serif','Times New Roman',serif" font-weight="normal" font-size="12.7" text-anchor="middle" class="n">5.0 &#177; 0.2</text>
<text x="360.8" y="478" font-family="'Liberation Serif','Times New Roman',serif" font-weight="normal" font-size="12.7" text-anchor="middle" class="n">25.6 &#177; 5.4</text>
<text x="461.8" y="478" font-family="'Liberation Serif','Times New Roman',serif" font-weight="normal" font-size="12.7" text-anchor="middle" class="n">1.8 &#177; 0.1</text>
</svg></body></html>
